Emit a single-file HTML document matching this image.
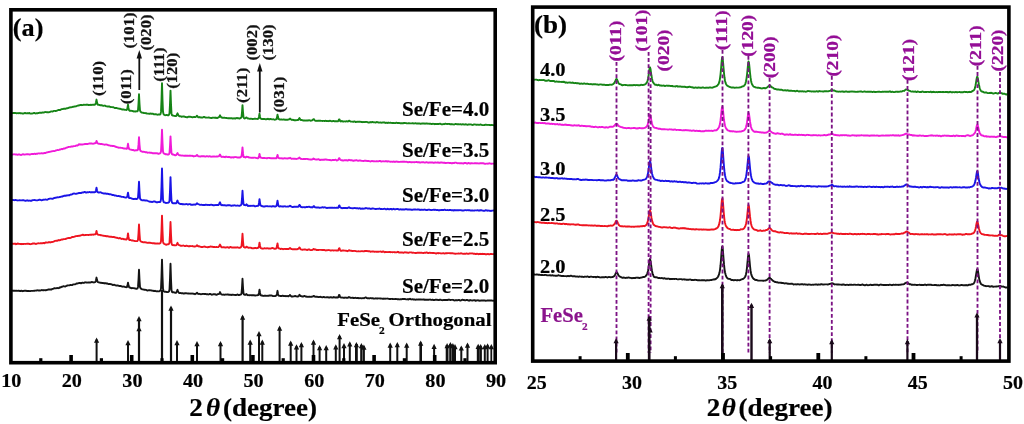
<!DOCTYPE html>
<html><head><meta charset="utf-8"><title>XRD patterns</title>
<style>html,body{margin:0;padding:0;background:#fff}svg{display:block}</style></head>
<body>
<svg width="1024" height="424" viewBox="0 0 1024 424" style="filter:blur(0.35px)">
<rect width="1024" height="424" fill="#fff"/>
<path d="M12.0,113.16 L12.5,113.17 L13.0,113.06 L13.5,113.04 L14.0,113.05 L14.5,113.02 L15.0,112.94 L15.5,113.06 L16.0,113.13 L16.5,113.26 L17.0,113.16 L17.5,113.16 L18.0,113.21 L18.5,113.22 L19.0,113.04 L19.5,113.13 L20.0,113.18 L20.5,113.37 L21.0,113.17 L21.5,113.34 L22.0,113.34 L22.5,113.46 L23.0,113.51 L23.5,113.50 L24.0,113.41 L24.5,113.17 L25.0,112.96 L25.5,113.21 L26.0,113.22 L26.5,113.38 L27.0,113.38 L27.5,113.26 L28.0,113.39 L28.5,113.08 L29.0,113.18 L29.5,113.00 L30.0,113.35 L30.5,113.58 L31.0,113.66 L31.5,113.59 L32.0,113.38 L32.5,113.45 L33.0,113.27 L33.5,113.09 L34.0,112.83 L34.5,112.92 L35.0,113.29 L35.5,113.47 L36.0,113.35 L36.5,113.28 L37.0,113.24 L37.5,113.27 L38.0,113.07 L38.5,112.99 L39.0,112.91 L39.5,112.70 L40.0,112.72 L40.5,112.70 L41.0,112.92 L41.5,112.79 L42.0,112.56 L42.5,112.39 L43.0,112.54 L43.5,112.65 L44.0,112.52 L44.5,112.18 L45.0,112.07 L45.5,112.08 L46.0,112.03 L46.5,112.24 L47.0,112.19 L47.5,112.26 L48.0,112.20 L48.5,112.31 L49.0,112.21 L49.5,112.03 L50.0,111.87 L50.5,111.79 L51.0,111.50 L51.5,111.40 L52.0,111.42 L52.5,111.54 L53.0,111.28 L53.5,111.07 L54.0,110.87 L54.5,110.83 L55.0,110.87 L55.5,110.97 L56.0,110.96 L56.5,110.77 L57.0,110.57 L57.5,110.39 L58.0,110.21 L58.5,109.96 L59.0,109.84 L59.5,109.96 L60.0,110.00 L60.5,109.85 L61.0,109.47 L61.5,109.18 L62.0,109.14 L62.5,109.12 L63.0,108.95 L63.5,108.86 L64.0,108.65 L64.5,108.84 L65.0,108.71 L65.5,108.84 L66.0,108.55 L66.5,108.40 L67.0,108.15 L67.5,108.19 L68.0,108.16 L68.5,107.89 L69.0,107.69 L69.5,107.52 L70.0,107.48 L70.5,107.28 L71.0,107.33 L71.5,107.21 L72.0,107.07 L72.5,106.84 L73.0,106.78 L73.5,106.74 L74.0,106.64 L74.5,106.56 L75.0,106.50 L75.5,106.41 L76.0,106.28 L76.5,106.08 L77.0,105.85 L77.5,105.67 L78.0,105.66 L78.5,105.51 L79.0,105.29 L79.5,105.20 L80.0,105.10 L80.5,105.03 L81.0,104.99 L81.5,105.00 L82.0,105.20 L82.5,105.07 L83.0,104.99 L83.5,104.79 L84.0,104.77 L84.5,104.82 L85.0,104.84 L85.5,104.84 L86.0,104.69 L86.5,104.75 L87.0,104.57 L87.5,104.68 L88.0,104.73 L88.5,105.00 L89.0,105.17 L89.5,104.92 L90.0,104.87 L90.5,104.80 L91.0,105.04 L91.5,104.86 L92.0,104.76 L92.5,104.83 L93.0,104.76 L93.5,104.75 L94.0,104.65 L94.5,104.69 L95.0,104.62 L95.5,104.08 L96.0,102.29 L96.5,99.58 L97.0,102.33 L97.5,104.22 L98.0,104.76 L98.5,104.77 L99.0,104.86 L99.5,104.95 L100.0,105.18 L100.5,105.15 L101.0,105.20 L101.5,105.19 L102.0,105.45 L102.5,105.50 L103.0,105.77 L103.5,105.83 L104.0,105.71 L104.5,105.55 L105.0,105.71 L105.5,105.96 L106.0,106.30 L106.5,106.34 L107.0,106.38 L107.5,106.46 L108.0,106.43 L108.5,106.39 L109.0,106.57 L109.5,106.55 L110.0,106.91 L110.5,106.89 L111.0,107.19 L111.5,107.06 L112.0,107.16 L112.5,107.10 L113.0,107.24 L113.5,107.20 L114.0,107.53 L114.5,107.80 L115.0,108.02 L115.5,108.00 L116.0,108.06 L116.5,107.97 L117.0,108.08 L117.5,108.27 L118.0,108.45 L118.5,108.64 L119.0,108.63 L119.5,108.70 L120.0,108.76 L120.5,108.90 L121.0,109.12 L121.5,109.24 L122.0,109.53 L122.5,109.55 L123.0,109.60 L123.5,109.41 L124.0,109.53 L124.5,109.70 L125.0,109.81 L125.5,109.87 L126.0,109.92 L126.5,109.98 L127.0,109.64 L127.5,107.61 L128.0,104.62 L128.5,107.90 L129.0,110.14 L129.5,110.70 L130.0,110.80 L130.5,110.75 L131.0,110.77 L131.5,110.89 L132.0,110.84 L132.5,111.02 L133.0,111.11 L133.5,111.45 L134.0,111.28 L134.5,111.47 L135.0,111.40 L135.5,111.56 L136.0,111.32 L136.5,111.37 L137.0,111.30 L137.5,111.22 L138.0,110.20 L138.5,103.70 L139.0,94.31 L139.5,103.88 L140.0,110.46 L140.5,111.61 L141.0,112.08 L141.5,112.51 L142.0,112.75 L142.5,112.64 L143.0,112.66 L143.5,112.82 L144.0,113.10 L144.5,113.09 L145.0,113.06 L145.5,113.09 L146.0,113.28 L146.5,113.32 L147.0,113.58 L147.5,113.64 L148.0,113.64 L148.5,113.63 L149.0,113.73 L149.5,113.81 L150.0,113.77 L150.5,113.50 L151.0,113.71 L151.5,113.75 L152.0,113.82 L152.5,113.61 L153.0,113.70 L153.5,114.04 L154.0,114.26 L154.5,114.38 L155.0,114.24 L155.5,114.17 L156.0,114.25 L156.5,114.45 L157.0,114.62 L157.5,114.69 L158.0,114.56 L158.5,114.52 L159.0,114.47 L159.5,114.67 L160.0,114.52 L160.5,114.14 L161.0,111.90 L161.5,100.32 L162.0,83.27 L162.5,100.13 L163.0,111.83 L163.5,114.03 L164.0,114.72 L164.5,114.96 L165.0,115.18 L165.5,115.18 L166.0,115.11 L166.5,114.96 L167.0,115.00 L167.5,115.28 L168.0,115.33 L168.5,115.23 L169.0,114.69 L169.5,113.36 L170.0,104.10 L170.5,90.60 L171.0,103.92 L171.5,113.41 L172.0,115.19 L172.5,115.50 L173.0,115.55 L173.5,115.72 L174.0,115.90 L174.5,115.91 L175.0,116.01 L175.5,116.10 L176.0,116.16 L176.5,115.60 L177.0,114.39 L177.5,113.32 L178.0,114.31 L178.5,115.55 L179.0,115.97 L179.5,116.31 L180.0,116.21 L180.5,116.40 L181.0,116.39 L181.5,116.75 L182.0,116.69 L182.5,116.59 L183.0,116.38 L183.5,116.40 L184.0,116.51 L184.5,116.64 L185.0,116.86 L185.5,117.11 L186.0,117.01 L186.5,117.22 L187.0,117.28 L187.5,117.35 L188.0,116.88 L188.5,116.70 L189.0,116.75 L189.5,116.77 L190.0,116.80 L190.5,116.79 L191.0,116.96 L191.5,117.04 L192.0,117.18 L192.5,117.22 L193.0,117.20 L193.5,117.05 L194.0,117.03 L194.5,117.02 L195.0,117.14 L195.5,117.12 L196.0,116.73 L196.5,116.27 L197.0,115.76 L197.5,116.44 L198.0,117.05 L198.5,117.41 L199.0,117.35 L199.5,117.06 L200.0,117.21 L200.5,117.35 L201.0,117.57 L201.5,117.56 L202.0,117.58 L202.5,117.51 L203.0,117.34 L203.5,117.05 L204.0,116.94 L204.5,117.05 L205.0,117.35 L205.5,117.56 L206.0,117.57 L206.5,117.62 L207.0,117.67 L207.5,117.61 L208.0,117.58 L208.5,117.35 L209.0,117.55 L209.5,117.60 L210.0,117.82 L210.5,117.89 L211.0,118.01 L211.5,117.97 L212.0,117.90 L212.5,117.67 L213.0,117.73 L213.5,117.67 L214.0,117.67 L214.5,117.77 L215.0,117.69 L215.5,117.93 L216.0,117.76 L216.5,117.94 L217.0,118.00 L217.5,117.95 L218.0,117.66 L218.5,117.42 L219.0,117.20 L219.5,116.29 L220.0,115.33 L220.5,116.23 L221.0,117.05 L221.5,117.46 L222.0,117.40 L222.5,117.76 L223.0,117.79 L223.5,117.85 L224.0,117.80 L224.5,117.75 L225.0,117.88 L225.5,117.87 L226.0,117.99 L226.5,117.94 L227.0,118.11 L227.5,118.16 L228.0,118.30 L228.5,118.27 L229.0,118.21 L229.5,118.23 L230.0,118.23 L230.5,118.36 L231.0,118.28 L231.5,118.21 L232.0,118.28 L232.5,118.55 L233.0,118.52 L233.5,118.51 L234.0,118.27 L234.5,118.44 L235.0,118.44 L235.5,118.60 L236.0,118.25 L236.5,118.15 L237.0,117.96 L237.5,118.23 L238.0,118.22 L238.5,118.25 L239.0,118.32 L239.5,118.57 L240.0,118.31 L240.5,118.12 L241.0,117.77 L241.5,117.21 L242.0,112.36 L242.5,105.15 L243.0,112.12 L243.5,117.09 L244.0,118.19 L244.5,118.49 L245.0,118.40 L245.5,118.18 L246.0,117.71 L246.5,117.46 L247.0,117.92 L247.5,118.38 L248.0,118.56 L248.5,118.50 L249.0,118.68 L249.5,118.81 L250.0,118.83 L250.5,118.81 L251.0,118.61 L251.5,118.85 L252.0,118.91 L252.5,119.01 L253.0,119.01 L253.5,118.89 L254.0,118.86 L254.5,118.72 L255.0,118.76 L255.5,118.80 L256.0,118.87 L256.5,118.83 L257.0,118.93 L257.5,118.99 L258.0,118.93 L258.5,118.39 L259.0,116.43 L259.5,113.78 L260.0,116.74 L260.5,118.50 L261.0,118.77 L261.5,119.03 L262.0,119.03 L262.5,119.08 L263.0,118.93 L263.5,119.05 L264.0,119.07 L264.5,118.99 L265.0,119.13 L265.5,119.22 L266.0,119.39 L266.5,119.28 L267.0,118.99 L267.5,118.86 L268.0,118.78 L268.5,119.13 L269.0,119.24 L269.5,119.34 L270.0,119.06 L270.5,118.99 L271.0,119.08 L271.5,119.09 L272.0,119.37 L272.5,119.34 L273.0,119.40 L273.5,119.28 L274.0,119.50 L274.5,119.71 L275.0,119.63 L275.5,119.49 L276.0,119.31 L276.5,119.12 L277.0,117.38 L277.5,114.75 L278.0,117.12 L278.5,118.87 L279.0,119.17 L279.5,119.52 L280.0,119.56 L280.5,119.60 L281.0,119.46 L281.5,119.43 L282.0,119.54 L282.5,119.68 L283.0,119.60 L283.5,119.44 L284.0,119.40 L284.5,119.54 L285.0,119.75 L285.5,119.78 L286.0,119.79 L286.5,119.86 L287.0,119.73 L287.5,119.76 L288.0,119.59 L288.5,119.53 L289.0,119.41 L289.5,119.09 L290.0,118.59 L290.5,118.86 L291.0,119.33 L291.5,119.82 L292.0,119.93 L292.5,119.92 L293.0,119.70 L293.5,120.03 L294.0,120.11 L294.5,120.36 L295.0,120.19 L295.5,120.24 L296.0,120.22 L296.5,120.13 L297.0,120.10 L297.5,120.03 L298.0,120.12 L298.5,119.68 L299.0,118.84 L299.5,118.08 L300.0,119.00 L300.5,119.89 L301.0,120.07 L301.5,120.03 L302.0,120.02 L302.5,120.31 L303.0,120.44 L303.5,120.64 L304.0,120.50 L304.5,120.37 L305.0,120.38 L305.5,120.53 L306.0,120.66 L306.5,120.55 L307.0,120.51 L307.5,120.43 L308.0,120.53 L308.5,120.36 L309.0,120.31 L309.5,120.31 L310.0,120.42 L310.5,120.72 L311.0,120.64 L311.5,120.61 L312.0,120.29 L312.5,120.05 L313.0,119.57 L313.5,119.17 L314.0,119.26 L314.5,120.13 L315.0,120.57 L315.5,120.77 L316.0,120.87 L316.5,120.78 L317.0,120.94 L317.5,120.78 L318.0,120.87 L318.5,120.68 L319.0,120.78 L319.5,120.66 L320.0,120.75 L320.5,120.77 L321.0,120.85 L321.5,120.87 L322.0,120.90 L322.5,120.98 L323.0,120.86 L323.5,120.86 L324.0,120.86 L324.5,120.94 L325.0,120.94 L325.5,120.76 L326.0,120.99 L326.5,120.94 L327.0,121.08 L327.5,121.07 L328.0,121.10 L328.5,121.18 L329.0,120.97 L329.5,120.95 L330.0,120.76 L330.5,120.86 L331.0,121.03 L331.5,121.21 L332.0,121.34 L332.5,121.14 L333.0,121.05 L333.5,120.93 L334.0,121.10 L334.5,121.24 L335.0,121.29 L335.5,121.31 L336.0,121.27 L336.5,121.27 L337.0,121.34 L337.5,121.29 L338.0,121.25 L338.5,120.85 L339.0,119.38 L339.5,119.45 L340.0,120.80 L340.5,121.44 L341.0,121.23 L341.5,121.22 L342.0,120.95 L342.5,121.36 L343.0,121.52 L343.5,121.62 L344.0,121.35 L344.5,121.36 L345.0,121.42 L345.5,121.49 L346.0,121.31 L346.5,121.20 L347.0,121.29 L347.5,121.45 L348.0,121.46 L348.5,121.12 L349.0,120.65 L349.5,120.94 L350.0,121.19 L350.5,121.51 L351.0,121.60 L351.5,121.67 L352.0,121.58 L352.5,121.65 L353.0,121.78 L353.5,121.83 L354.0,121.45 L354.5,121.43 L355.0,121.57 L355.5,122.00 L356.0,121.95 L356.5,121.84 L357.0,121.70 L357.5,121.86 L358.0,121.82 L358.5,121.87 L359.0,121.71 L359.5,121.87 L360.0,121.74 L360.5,121.89 L361.0,121.82 L361.5,121.97 L362.0,122.00 L362.5,122.18 L363.0,122.04 L363.5,122.10 L364.0,122.04 L364.5,122.17 L365.0,122.14 L365.5,121.87 L366.0,121.84 L366.5,121.86 L367.0,122.01 L367.5,122.11 L368.0,122.43 L368.5,122.60 L369.0,122.59 L369.5,122.35 L370.0,122.17 L370.5,122.07 L371.0,122.29 L371.5,122.25 L372.0,122.24 L372.5,121.91 L373.0,122.12 L373.5,122.27 L374.0,122.36 L374.5,122.32 L375.0,122.38 L375.5,122.51 L376.0,122.44 L376.5,122.19 L377.0,122.01 L377.5,122.23 L378.0,122.30 L378.5,122.62 L379.0,122.65 L379.5,122.67 L380.0,122.52 L380.5,122.53 L381.0,122.63 L381.5,122.72 L382.0,122.49 L382.5,122.58 L383.0,122.48 L383.5,122.43 L384.0,122.29 L384.5,122.44 L385.0,122.89 L385.5,122.93 L386.0,122.76 L386.5,122.78 L387.0,122.85 L387.5,122.97 L388.0,122.66 L388.5,122.56 L389.0,122.75 L389.5,122.84 L390.0,122.90 L390.5,122.72 L391.0,122.91 L391.5,122.92 L392.0,123.05 L392.5,122.93 L393.0,123.03 L393.5,122.89 L394.0,122.94 L394.5,123.09 L395.0,123.19 L395.5,123.04 L396.0,122.77 L396.5,122.80 L397.0,122.88 L397.5,123.01 L398.0,123.01 L398.5,122.90 L399.0,123.00 L399.5,123.03 L400.0,123.19 L400.5,123.14 L401.0,123.23 L401.5,123.25 L402.0,123.15 L402.5,123.19 L403.0,123.15 L403.5,123.18 L404.0,122.92 L404.5,122.97 L405.0,122.95 L405.5,123.07 L406.0,123.13 L406.5,123.24 L407.0,123.41 L407.5,123.41 L408.0,123.38 L408.5,123.25 L409.0,123.18 L409.5,123.30 L410.0,123.35 L410.5,123.37 L411.0,123.40 L411.5,123.42 L412.0,123.42 L412.5,123.20 L413.0,123.24 L413.5,123.32 L414.0,123.49 L414.5,123.42 L415.0,123.32 L415.5,123.30 L416.0,123.38 L416.5,123.46 L417.0,123.48 L417.5,123.42 L418.0,123.48 L418.5,123.53 L419.0,123.51 L419.5,123.56 L420.0,123.63 L420.5,123.80 L421.0,123.72 L421.5,123.63 L422.0,123.44 L422.5,123.54 L423.0,123.36 L423.5,123.45 L424.0,123.35 L424.5,123.66 L425.0,123.71 L425.5,123.65 L426.0,123.44 L426.5,123.37 L427.0,123.49 L427.5,123.65 L428.0,123.71 L428.5,123.64 L429.0,123.63 L429.5,123.76 L430.0,123.73 L430.5,123.76 L431.0,123.83 L431.5,124.01 L432.0,123.97 L432.5,123.88 L433.0,123.76 L433.5,123.82 L434.0,123.92 L434.5,124.19 L435.0,124.03 L435.5,123.96 L436.0,123.97 L436.5,124.10 L437.0,124.06 L437.5,124.03 L438.0,124.04 L438.5,124.07 L439.0,123.93 L439.5,123.79 L440.0,123.79 L440.5,123.79 L441.0,124.08 L441.5,124.27 L442.0,124.36 L442.5,124.24 L443.0,124.09 L443.5,124.05 L444.0,124.20 L444.5,124.02 L445.0,123.89 L445.5,123.60 L446.0,123.81 L446.5,123.93 L447.0,124.08 L447.5,123.96 L448.0,123.91 L448.5,123.89 L449.0,123.94 L449.5,123.96 L450.0,124.20 L450.5,124.28 L451.0,124.25 L451.5,124.07 L452.0,124.16 L452.5,124.30 L453.0,124.40 L453.5,124.36 L454.0,124.48 L454.5,124.34 L455.0,124.20 L455.5,123.88 L456.0,124.06 L456.5,124.10 L457.0,124.22 L457.5,124.10 L458.0,124.22 L458.5,124.28 L459.0,124.32 L459.5,124.38 L460.0,124.30 L460.5,124.24 L461.0,124.38 L461.5,124.46 L462.0,124.54 L462.5,124.22 L463.0,124.25 L463.5,124.39 L464.0,124.55 L464.5,124.62 L465.0,124.53 L465.5,124.31 L466.0,124.30 L466.5,124.48 L467.0,124.75 L467.5,124.71 L468.0,124.65 L468.5,124.52 L469.0,124.54 L469.5,124.34 L470.0,124.36 L470.5,124.39 L471.0,124.50 L471.5,124.62 L472.0,124.80 L472.5,124.96 L473.0,124.86 L473.5,124.61 L474.0,124.42 L474.5,124.37 L475.0,124.45 L475.5,124.57 L476.0,124.69 L476.5,124.72 L477.0,124.70 L477.5,124.68 L478.0,124.60 L478.5,124.76 L479.0,124.89 L479.5,124.88 L480.0,124.63 L480.5,124.47 L481.0,124.58 L481.5,124.80 L482.0,124.97 L482.5,125.09 L483.0,125.08 L483.5,125.10 L484.0,125.07 L484.5,125.02 L485.0,124.91 L485.5,124.67 L486.0,124.62 L486.5,124.82 L487.0,124.95 L487.5,124.91 L488.0,124.84 L488.5,124.91 L489.0,124.94 L489.5,125.00 L490.0,125.07 L490.5,125.20 L491.0,125.00 L491.5,124.99 L492.0,124.97 L492.5,125.11 L493.0,125.18 L493.5,125.27 L494.0,125.22" fill="none" stroke="#168416" stroke-width="1.9" stroke-linejoin="round"/>
<path d="M12.0,154.62 L12.5,154.58 L13.0,154.43 L13.5,154.35 L14.0,154.27 L14.5,154.38 L15.0,154.41 L15.5,154.44 L16.0,154.40 L16.5,154.48 L17.0,154.68 L17.5,154.77 L18.0,154.65 L18.5,154.51 L19.0,154.36 L19.5,154.44 L20.0,154.70 L20.5,154.88 L21.0,154.97 L21.5,154.87 L22.0,154.56 L22.5,154.38 L23.0,154.20 L23.5,154.48 L24.0,154.66 L24.5,154.63 L25.0,154.50 L25.5,154.38 L26.0,154.38 L26.5,154.30 L27.0,154.17 L27.5,154.29 L28.0,154.25 L28.5,154.42 L29.0,154.32 L29.5,154.47 L30.0,154.49 L30.5,154.38 L31.0,154.20 L31.5,154.06 L32.0,153.99 L32.5,153.97 L33.0,153.88 L33.5,153.96 L34.0,153.86 L34.5,153.80 L35.0,153.79 L35.5,154.01 L36.0,153.80 L36.5,153.82 L37.0,153.73 L37.5,153.76 L38.0,153.43 L38.5,153.33 L39.0,153.34 L39.5,153.44 L40.0,153.43 L40.5,153.38 L41.0,153.32 L41.5,153.22 L42.0,153.28 L42.5,153.38 L43.0,153.44 L43.5,153.31 L44.0,153.04 L44.5,153.05 L45.0,153.02 L45.5,153.02 L46.0,152.61 L46.5,152.56 L47.0,152.37 L47.5,152.37 L48.0,152.08 L48.5,152.02 L49.0,151.99 L49.5,151.88 L50.0,151.75 L50.5,151.64 L51.0,151.56 L51.5,151.42 L52.0,151.24 L52.5,151.11 L53.0,151.18 L53.5,151.05 L54.0,151.14 L54.5,151.05 L55.0,150.91 L55.5,150.71 L56.0,150.44 L56.5,150.32 L57.0,150.15 L57.5,150.04 L58.0,150.10 L58.5,150.10 L59.0,149.88 L59.5,149.64 L60.0,149.46 L60.5,149.55 L61.0,149.22 L61.5,149.17 L62.0,148.90 L62.5,149.17 L63.0,148.88 L63.5,148.69 L64.0,148.42 L64.5,148.46 L65.0,148.43 L65.5,148.08 L66.0,147.91 L66.5,147.62 L67.0,147.64 L67.5,147.32 L68.0,147.17 L68.5,147.01 L69.0,146.90 L69.5,146.89 L70.0,146.87 L70.5,146.80 L71.0,146.58 L71.5,146.43 L72.0,146.42 L72.5,146.53 L73.0,146.43 L73.5,146.26 L74.0,146.13 L74.5,146.12 L75.0,146.10 L75.5,145.85 L76.0,145.57 L76.5,145.43 L77.0,145.50 L77.5,145.57 L78.0,145.08 L78.5,144.80 L79.0,144.22 L79.5,144.43 L80.0,144.37 L80.5,144.62 L81.0,144.46 L81.5,144.51 L82.0,144.41 L82.5,144.47 L83.0,144.35 L83.5,144.37 L84.0,144.27 L84.5,144.18 L85.0,143.99 L85.5,143.98 L86.0,144.00 L86.5,144.05 L87.0,144.01 L87.5,143.99 L88.0,143.84 L88.5,143.72 L89.0,143.55 L89.5,143.55 L90.0,143.56 L90.5,143.49 L91.0,143.50 L91.5,143.46 L92.0,143.55 L92.5,143.60 L93.0,143.77 L93.5,143.65 L94.0,143.61 L94.5,143.23 L95.0,143.26 L95.5,143.17 L96.0,142.45 L96.5,140.95 L97.0,142.25 L97.5,143.26 L98.0,143.53 L98.5,143.75 L99.0,143.61 L99.5,143.83 L100.0,143.92 L100.5,144.15 L101.0,144.01 L101.5,143.98 L102.0,144.04 L102.5,144.24 L103.0,144.34 L103.5,144.40 L104.0,144.49 L104.5,144.73 L105.0,144.65 L105.5,144.59 L106.0,144.39 L106.5,144.61 L107.0,144.66 L107.5,144.96 L108.0,145.12 L108.5,145.36 L109.0,145.32 L109.5,145.42 L110.0,145.56 L110.5,145.75 L111.0,145.76 L111.5,145.90 L112.0,145.82 L112.5,146.12 L113.0,145.85 L113.5,146.04 L114.0,145.90 L114.5,146.39 L115.0,146.41 L115.5,146.82 L116.0,146.69 L116.5,147.15 L117.0,147.12 L117.5,147.39 L118.0,147.33 L118.5,147.62 L119.0,147.81 L119.5,147.65 L120.0,147.65 L120.5,147.69 L121.0,147.86 L121.5,147.92 L122.0,147.87 L122.5,148.15 L123.0,148.20 L123.5,148.35 L124.0,148.49 L124.5,148.45 L125.0,148.61 L125.5,148.56 L126.0,148.70 L126.5,148.88 L127.0,148.69 L127.5,146.75 L128.0,143.81 L128.5,146.63 L129.0,148.77 L129.5,149.22 L130.0,149.48 L130.5,149.60 L131.0,149.64 L131.5,149.77 L132.0,149.95 L132.5,150.03 L133.0,150.06 L133.5,150.04 L134.0,150.31 L134.5,150.49 L135.0,150.48 L135.5,150.42 L136.0,150.21 L136.5,150.21 L137.0,150.18 L137.5,150.26 L138.0,149.65 L138.5,144.64 L139.0,137.19 L139.5,144.55 L140.0,149.70 L140.5,150.84 L141.0,151.12 L141.5,151.39 L142.0,151.55 L142.5,151.74 L143.0,151.72 L143.5,151.85 L144.0,151.81 L144.5,151.95 L145.0,152.12 L145.5,152.28 L146.0,152.24 L146.5,152.28 L147.0,152.42 L147.5,152.72 L148.0,152.66 L148.5,152.66 L149.0,152.59 L149.5,152.56 L150.0,152.74 L150.5,152.79 L151.0,152.87 L151.5,152.73 L152.0,153.01 L152.5,153.20 L153.0,153.26 L153.5,153.12 L154.0,153.14 L154.5,153.32 L155.0,153.21 L155.5,153.30 L156.0,153.24 L156.5,153.37 L157.0,153.28 L157.5,153.42 L158.0,153.69 L158.5,153.76 L159.0,153.73 L159.5,153.42 L160.0,153.33 L160.5,153.03 L161.0,151.46 L161.5,142.56 L162.0,129.78 L162.5,142.63 L163.0,151.53 L163.5,153.11 L164.0,153.54 L164.5,153.76 L165.0,153.85 L165.5,154.20 L166.0,154.19 L166.5,154.35 L167.0,154.32 L167.5,154.59 L168.0,154.57 L168.5,154.49 L169.0,154.19 L169.5,152.79 L170.0,146.06 L170.5,136.37 L171.0,146.13 L171.5,153.01 L172.0,154.13 L172.5,154.45 L173.0,154.40 L173.5,154.53 L174.0,154.78 L174.5,154.98 L175.0,155.33 L175.5,155.32 L176.0,155.16 L176.5,154.50 L177.0,153.72 L177.5,153.00 L178.0,153.91 L178.5,154.72 L179.0,155.15 L179.5,155.33 L180.0,155.29 L180.5,155.34 L181.0,155.46 L181.5,155.60 L182.0,155.58 L182.5,155.57 L183.0,155.58 L183.5,155.67 L184.0,155.84 L184.5,155.78 L185.0,155.76 L185.5,155.56 L186.0,155.76 L186.5,155.65 L187.0,155.81 L187.5,155.59 L188.0,155.79 L188.5,155.86 L189.0,155.81 L189.5,155.77 L190.0,155.54 L190.5,155.87 L191.0,155.86 L191.5,155.90 L192.0,155.71 L192.5,155.90 L193.0,156.22 L193.5,156.43 L194.0,156.24 L194.5,156.08 L195.0,156.12 L195.5,156.11 L196.0,155.96 L196.5,155.36 L197.0,155.01 L197.5,155.50 L198.0,156.04 L198.5,156.36 L199.0,156.35 L199.5,156.42 L200.0,156.55 L200.5,156.51 L201.0,156.40 L201.5,156.16 L202.0,156.29 L202.5,156.29 L203.0,156.26 L203.5,156.14 L204.0,156.20 L204.5,156.45 L205.0,156.59 L205.5,156.53 L206.0,156.38 L206.5,156.27 L207.0,156.23 L207.5,156.31 L208.0,156.41 L208.5,156.55 L209.0,156.41 L209.5,156.26 L210.0,156.40 L210.5,156.47 L211.0,156.68 L211.5,156.62 L212.0,156.70 L212.5,156.54 L213.0,156.51 L213.5,156.47 L214.0,156.56 L214.5,156.56 L215.0,156.59 L215.5,156.60 L216.0,156.56 L216.5,156.52 L217.0,156.52 L217.5,156.48 L218.0,156.41 L218.5,156.32 L219.0,156.06 L219.5,155.41 L220.0,154.55 L220.5,155.37 L221.0,156.30 L221.5,156.89 L222.0,156.94 L222.5,156.80 L223.0,156.78 L223.5,156.67 L224.0,157.04 L224.5,156.99 L225.0,157.17 L225.5,156.81 L226.0,156.76 L226.5,156.66 L227.0,156.90 L227.5,157.09 L228.0,157.19 L228.5,156.95 L229.0,157.02 L229.5,156.91 L230.0,157.27 L230.5,157.36 L231.0,157.55 L231.5,157.50 L232.0,157.20 L232.5,157.39 L233.0,157.33 L233.5,157.57 L234.0,157.24 L234.5,157.22 L235.0,157.01 L235.5,157.09 L236.0,157.11 L236.5,157.26 L237.0,157.43 L237.5,157.49 L238.0,157.49 L238.5,157.36 L239.0,157.51 L239.5,157.41 L240.0,157.50 L240.5,157.03 L241.0,156.85 L241.5,156.12 L242.0,152.53 L242.5,147.43 L243.0,153.15 L243.5,156.81 L244.0,157.08 L244.5,156.96 L245.0,157.34 L245.5,157.48 L246.0,157.20 L246.5,156.59 L247.0,156.74 L247.5,156.83 L248.0,156.97 L248.5,157.16 L249.0,157.54 L249.5,157.59 L250.0,157.57 L250.5,157.68 L251.0,157.84 L251.5,157.81 L252.0,157.73 L252.5,157.78 L253.0,157.83 L253.5,157.73 L254.0,157.65 L254.5,157.66 L255.0,157.67 L255.5,157.85 L256.0,157.94 L256.5,158.11 L257.0,158.17 L257.5,158.22 L258.0,158.20 L258.5,157.78 L259.0,156.06 L259.5,153.90 L260.0,156.07 L260.5,157.59 L261.0,157.56 L261.5,157.73 L262.0,157.88 L262.5,158.10 L263.0,158.08 L263.5,157.89 L264.0,157.83 L264.5,157.97 L265.0,158.16 L265.5,158.13 L266.0,158.11 L266.5,158.26 L267.0,158.28 L267.5,158.10 L268.0,157.91 L268.5,157.92 L269.0,157.89 L269.5,158.04 L270.0,157.99 L270.5,158.24 L271.0,158.19 L271.5,158.25 L272.0,158.37 L272.5,158.31 L273.0,158.28 L273.5,158.16 L274.0,158.31 L274.5,158.38 L275.0,158.25 L275.5,158.22 L276.0,158.23 L276.5,158.31 L277.0,156.88 L277.5,154.88 L278.0,156.60 L278.5,157.85 L279.0,158.08 L279.5,158.30 L280.0,158.39 L280.5,158.34 L281.0,158.16 L281.5,158.41 L282.0,158.43 L282.5,158.63 L283.0,158.42 L283.5,158.51 L284.0,158.40 L284.5,158.26 L285.0,158.28 L285.5,158.41 L286.0,158.44 L286.5,158.43 L287.0,158.34 L287.5,158.45 L288.0,158.44 L288.5,158.26 L289.0,158.27 L289.5,158.06 L290.0,157.82 L290.5,158.12 L291.0,158.52 L291.5,158.82 L292.0,158.82 L292.5,158.62 L293.0,158.64 L293.5,158.70 L294.0,158.87 L294.5,158.72 L295.0,158.85 L295.5,158.76 L296.0,158.98 L296.5,158.81 L297.0,158.72 L297.5,158.59 L298.0,158.51 L298.5,158.39 L299.0,157.91 L299.5,157.59 L300.0,158.20 L300.5,158.71 L301.0,158.80 L301.5,158.92 L302.0,159.13 L302.5,159.17 L303.0,159.12 L303.5,158.95 L304.0,159.02 L304.5,159.15 L305.0,158.95 L305.5,158.97 L306.0,158.83 L306.5,158.91 L307.0,158.93 L307.5,158.99 L308.0,159.27 L308.5,159.12 L309.0,159.36 L309.5,159.34 L310.0,159.46 L310.5,159.41 L311.0,159.47 L311.5,159.59 L312.0,159.55 L312.5,159.22 L313.0,159.07 L313.5,158.50 L314.0,158.76 L314.5,159.13 L315.0,159.35 L315.5,159.44 L316.0,159.46 L316.5,159.56 L317.0,159.60 L317.5,159.38 L318.0,159.28 L318.5,159.14 L319.0,159.35 L319.5,159.86 L320.0,160.02 L320.5,159.98 L321.0,159.62 L321.5,159.70 L322.0,159.81 L322.5,159.71 L323.0,159.73 L323.5,159.67 L324.0,159.89 L324.5,159.60 L325.0,159.46 L325.5,159.45 L326.0,159.49 L326.5,159.70 L327.0,159.69 L327.5,159.90 L328.0,159.91 L328.5,159.92 L329.0,159.96 L329.5,159.90 L330.0,159.89 L330.5,160.15 L331.0,160.32 L331.5,160.40 L332.0,160.16 L332.5,159.99 L333.0,159.96 L333.5,159.91 L334.0,160.09 L334.5,159.99 L335.0,159.79 L335.5,159.65 L336.0,159.83 L336.5,160.32 L337.0,160.48 L337.5,160.30 L338.0,159.99 L338.5,159.45 L339.0,158.30 L339.5,158.25 L340.0,159.44 L340.5,159.87 L341.0,160.05 L341.5,160.24 L342.0,160.25 L342.5,160.46 L343.0,160.50 L343.5,160.45 L344.0,160.35 L344.5,160.19 L345.0,160.31 L345.5,160.16 L346.0,160.26 L346.5,160.20 L347.0,160.45 L347.5,160.45 L348.0,160.46 L348.5,160.10 L349.0,159.83 L349.5,160.06 L350.0,160.20 L350.5,160.30 L351.0,160.17 L351.5,160.20 L352.0,160.43 L352.5,160.45 L353.0,160.69 L353.5,160.67 L354.0,160.69 L354.5,160.47 L355.0,160.49 L355.5,160.37 L356.0,160.26 L356.5,160.16 L357.0,160.44 L357.5,160.69 L358.0,160.80 L358.5,160.73 L359.0,160.51 L359.5,160.49 L360.0,160.34 L360.5,160.66 L361.0,160.71 L361.5,160.89 L362.0,160.86 L362.5,160.90 L363.0,160.95 L363.5,160.96 L364.0,160.87 L364.5,160.71 L365.0,160.65 L365.5,160.69 L366.0,160.78 L366.5,160.90 L367.0,161.01 L367.5,160.95 L368.0,161.05 L368.5,160.95 L369.0,161.02 L369.5,161.20 L370.0,161.36 L370.5,161.51 L371.0,161.25 L371.5,161.12 L372.0,160.98 L372.5,161.12 L373.0,161.19 L373.5,161.31 L374.0,161.21 L374.5,161.38 L375.0,161.39 L375.5,161.35 L376.0,161.29 L376.5,161.18 L377.0,161.41 L377.5,161.31 L378.0,161.38 L378.5,161.35 L379.0,161.14 L379.5,160.93 L380.0,160.91 L380.5,161.18 L381.0,161.49 L381.5,161.51 L382.0,161.41 L382.5,161.36 L383.0,161.27 L383.5,161.39 L384.0,161.32 L384.5,161.44 L385.0,161.34 L385.5,161.29 L386.0,161.05 L386.5,161.42 L387.0,161.44 L387.5,161.59 L388.0,161.28 L388.5,161.32 L389.0,161.38 L389.5,161.57 L390.0,161.67 L390.5,161.76 L391.0,161.65 L391.5,161.64 L392.0,161.74 L392.5,161.81 L393.0,161.86 L393.5,161.55 L394.0,161.61 L394.5,161.62 L395.0,161.97 L395.5,161.65 L396.0,161.64 L396.5,161.51 L397.0,161.81 L397.5,161.75 L398.0,161.80 L398.5,161.87 L399.0,161.95 L399.5,161.91 L400.0,161.83 L400.5,161.80 L401.0,161.85 L401.5,161.81 L402.0,161.66 L402.5,161.80 L403.0,161.71 L403.5,161.91 L404.0,161.65 L404.5,161.81 L405.0,161.74 L405.5,161.88 L406.0,161.83 L406.5,161.81 L407.0,161.86 L407.5,162.09 L408.0,162.26 L408.5,162.25 L409.0,162.02 L409.5,161.99 L410.0,162.04 L410.5,162.09 L411.0,162.20 L411.5,162.16 L412.0,162.27 L412.5,162.14 L413.0,162.11 L413.5,162.10 L414.0,162.20 L414.5,162.30 L415.0,162.18 L415.5,162.08 L416.0,162.06 L416.5,161.98 L417.0,162.17 L417.5,162.22 L418.0,162.42 L418.5,162.25 L419.0,162.31 L419.5,162.29 L420.0,162.56 L420.5,162.53 L421.0,162.42 L421.5,162.31 L422.0,162.23 L422.5,162.34 L423.0,162.25 L423.5,162.30 L424.0,162.39 L424.5,162.50 L425.0,162.57 L425.5,162.48 L426.0,162.28 L426.5,162.16 L427.0,162.28 L427.5,162.51 L428.0,162.78 L428.5,162.62 L429.0,162.55 L429.5,162.36 L430.0,162.46 L430.5,162.48 L431.0,162.49 L431.5,162.51 L432.0,162.44 L432.5,162.51 L433.0,162.66 L433.5,162.89 L434.0,162.81 L434.5,162.61 L435.0,162.43 L435.5,162.41 L436.0,162.63 L436.5,162.58 L437.0,162.68 L437.5,162.45 L438.0,162.51 L438.5,162.53 L439.0,162.83 L439.5,162.80 L440.0,162.83 L440.5,162.48 L441.0,162.44 L441.5,162.33 L442.0,162.50 L442.5,162.67 L443.0,162.82 L443.5,162.72 L444.0,162.74 L444.5,162.58 L445.0,162.93 L445.5,162.92 L446.0,163.05 L446.5,162.86 L447.0,162.84 L447.5,162.83 L448.0,162.79 L448.5,162.87 L449.0,162.91 L449.5,163.06 L450.0,162.99 L450.5,163.04 L451.0,162.90 L451.5,163.27 L452.0,163.14 L452.5,163.18 L453.0,162.93 L453.5,163.14 L454.0,163.11 L454.5,162.86 L455.0,162.60 L455.5,162.59 L456.0,162.69 L456.5,162.82 L457.0,163.03 L457.5,163.23 L458.0,163.19 L458.5,163.15 L459.0,163.14 L459.5,163.35 L460.0,163.29 L460.5,163.14 L461.0,163.08 L461.5,163.26 L462.0,163.29 L462.5,163.42 L463.0,163.45 L463.5,163.48 L464.0,163.14 L464.5,162.92 L465.0,162.92 L465.5,163.14 L466.0,163.04 L466.5,163.32 L467.0,163.51 L467.5,163.62 L468.0,163.20 L468.5,162.96 L469.0,163.08 L469.5,163.41 L470.0,163.51 L470.5,163.45 L471.0,163.13 L471.5,163.12 L472.0,163.23 L472.5,163.41 L473.0,163.39 L473.5,163.34 L474.0,163.35 L474.5,163.22 L475.0,163.24 L475.5,163.13 L476.0,163.40 L476.5,163.28 L477.0,163.48 L477.5,163.28 L478.0,163.42 L478.5,163.36 L479.0,163.49 L479.5,163.38 L480.0,163.25 L480.5,163.18 L481.0,163.23 L481.5,163.25 L482.0,163.22 L482.5,163.10 L483.0,163.27 L483.5,163.31 L484.0,163.49 L484.5,163.75 L485.0,163.81 L485.5,163.85 L486.0,163.67 L486.5,163.65 L487.0,163.56 L487.5,163.59 L488.0,163.72 L488.5,163.50 L489.0,163.40 L489.5,163.27 L490.0,163.52 L490.5,163.67 L491.0,163.66 L491.5,163.81 L492.0,163.64 L492.5,163.66 L493.0,163.66 L493.5,163.65 L494.0,163.68" fill="none" stroke="#f01ad8" stroke-width="1.9" stroke-linejoin="round"/>
<path d="M12.0,200.16 L12.5,200.05 L13.0,199.88 L13.5,200.09 L14.0,200.16 L14.5,200.21 L15.0,200.02 L15.5,200.02 L16.0,200.09 L16.5,200.15 L17.0,200.34 L17.5,200.38 L18.0,200.44 L18.5,200.34 L19.0,200.35 L19.5,200.24 L20.0,200.24 L20.5,200.33 L21.0,200.37 L21.5,200.34 L22.0,200.32 L22.5,200.26 L23.0,200.29 L23.5,200.27 L24.0,200.44 L24.5,200.54 L25.0,200.69 L25.5,200.75 L26.0,200.73 L26.5,200.55 L27.0,200.32 L27.5,200.36 L28.0,200.51 L28.5,200.75 L29.0,200.60 L29.5,200.60 L30.0,200.55 L30.5,200.92 L31.0,200.84 L31.5,200.72 L32.0,200.31 L32.5,200.20 L33.0,200.08 L33.5,200.11 L34.0,200.07 L34.5,200.01 L35.0,200.08 L35.5,200.18 L36.0,200.38 L36.5,200.35 L37.0,200.39 L37.5,200.38 L38.0,200.21 L38.5,200.04 L39.0,199.77 L39.5,199.79 L40.0,199.80 L40.5,199.87 L41.0,200.07 L41.5,200.22 L42.0,200.23 L42.5,200.02 L43.0,199.76 L43.5,199.67 L44.0,199.70 L44.5,199.60 L45.0,199.61 L45.5,199.48 L46.0,199.61 L46.5,199.65 L47.0,199.80 L47.5,199.63 L48.0,199.30 L48.5,198.90 L49.0,198.82 L49.5,198.74 L50.0,198.67 L50.5,198.58 L51.0,198.55 L51.5,198.69 L52.0,198.83 L52.5,198.82 L53.0,198.68 L53.5,198.23 L54.0,198.17 L54.5,197.97 L55.0,197.91 L55.5,197.60 L56.0,197.72 L56.5,197.56 L57.0,197.52 L57.5,197.25 L58.0,197.33 L58.5,197.36 L59.0,197.26 L59.5,197.03 L60.0,196.97 L60.5,196.86 L61.0,196.70 L61.5,196.67 L62.0,196.51 L62.5,196.64 L63.0,196.23 L63.5,196.04 L64.0,195.79 L64.5,195.77 L65.0,195.89 L65.5,195.69 L66.0,195.68 L66.5,195.37 L67.0,195.48 L67.5,195.38 L68.0,195.31 L68.5,195.37 L69.0,195.23 L69.5,195.28 L70.0,194.81 L70.5,194.69 L71.0,194.47 L71.5,194.50 L72.0,194.36 L72.5,194.16 L73.0,193.72 L73.5,193.58 L74.0,193.46 L74.5,193.64 L75.0,193.67 L75.5,193.88 L76.0,193.86 L76.5,193.77 L77.0,193.52 L77.5,193.45 L78.0,193.32 L78.5,193.14 L79.0,192.96 L79.5,192.86 L80.0,193.00 L80.5,193.04 L81.0,193.11 L81.5,192.75 L82.0,192.66 L82.5,192.50 L83.0,192.65 L83.5,192.46 L84.0,192.21 L84.5,191.93 L85.0,192.00 L85.5,192.40 L86.0,192.61 L86.5,192.51 L87.0,192.29 L87.5,192.22 L88.0,192.34 L88.5,192.24 L89.0,192.12 L89.5,192.04 L90.0,192.14 L90.5,192.28 L91.0,192.44 L91.5,192.25 L92.0,192.31 L92.5,192.19 L93.0,192.30 L93.5,192.30 L94.0,192.26 L94.5,192.23 L95.0,192.10 L95.5,191.87 L96.0,190.19 L96.5,187.74 L97.0,190.29 L97.5,191.95 L98.0,192.42 L98.5,192.49 L99.0,192.67 L99.5,192.44 L100.0,192.31 L100.5,192.28 L101.0,192.44 L101.5,192.80 L102.0,192.98 L102.5,193.14 L103.0,193.28 L103.5,193.47 L104.0,193.49 L104.5,193.50 L105.0,193.47 L105.5,193.48 L106.0,193.70 L106.5,193.69 L107.0,193.86 L107.5,193.82 L108.0,193.82 L108.5,193.99 L109.0,194.02 L109.5,194.34 L110.0,194.33 L110.5,194.30 L111.0,194.40 L111.5,194.54 L112.0,194.89 L112.5,195.02 L113.0,194.94 L113.5,195.05 L114.0,195.19 L114.5,195.54 L115.0,195.58 L115.5,195.54 L116.0,195.62 L116.5,195.64 L117.0,196.10 L117.5,196.13 L118.0,196.17 L118.5,195.95 L119.0,196.22 L119.5,196.38 L120.0,196.28 L120.5,196.38 L121.0,196.58 L121.5,196.87 L122.0,196.90 L122.5,196.87 L123.0,196.90 L123.5,197.02 L124.0,197.15 L124.5,197.40 L125.0,197.39 L125.5,197.59 L126.0,197.60 L126.5,197.40 L127.0,197.13 L127.5,195.22 L128.0,192.78 L128.5,195.62 L129.0,197.84 L129.5,198.15 L130.0,198.10 L130.5,198.04 L131.0,198.23 L131.5,198.49 L132.0,198.57 L132.5,198.74 L133.0,198.84 L133.5,199.07 L134.0,199.01 L134.5,198.95 L135.0,198.81 L135.5,198.82 L136.0,199.03 L136.5,199.05 L137.0,198.88 L137.5,198.55 L138.0,197.51 L138.5,191.12 L139.0,181.77 L139.5,191.56 L140.0,198.28 L140.5,199.49 L141.0,199.66 L141.5,200.00 L142.0,200.30 L142.5,200.42 L143.0,200.23 L143.5,200.10 L144.0,200.17 L144.5,200.38 L145.0,200.47 L145.5,200.45 L146.0,200.54 L146.5,200.55 L147.0,200.59 L147.5,200.66 L148.0,201.01 L148.5,201.28 L149.0,201.45 L149.5,201.61 L150.0,201.73 L150.5,201.66 L151.0,201.77 L151.5,201.90 L152.0,202.07 L152.5,201.83 L153.0,201.76 L153.5,201.50 L154.0,201.60 L154.5,201.36 L155.0,201.57 L155.5,201.75 L156.0,202.04 L156.5,202.28 L157.0,202.21 L157.5,202.25 L158.0,202.07 L158.5,202.11 L159.0,202.06 L159.5,202.12 L160.0,202.02 L160.5,201.58 L161.0,199.19 L161.5,186.60 L162.0,168.56 L162.5,186.96 L163.0,199.51 L163.5,201.71 L164.0,202.36 L164.5,202.36 L165.0,202.59 L165.5,202.65 L166.0,203.04 L166.5,202.89 L167.0,202.86 L167.5,202.87 L168.0,202.72 L168.5,202.63 L169.0,202.21 L169.5,200.85 L170.0,191.17 L170.5,177.09 L171.0,191.09 L171.5,200.84 L172.0,202.61 L172.5,203.11 L173.0,203.21 L173.5,203.21 L174.0,203.18 L174.5,203.17 L175.0,203.25 L175.5,203.35 L176.0,203.24 L176.5,202.74 L177.0,201.52 L177.5,200.53 L178.0,201.83 L178.5,202.95 L179.0,203.43 L179.5,203.57 L180.0,203.93 L180.5,204.14 L181.0,204.05 L181.5,203.96 L182.0,204.04 L182.5,204.31 L183.0,204.17 L183.5,204.10 L184.0,204.26 L184.5,204.32 L185.0,204.38 L185.5,204.11 L186.0,204.10 L186.5,204.04 L187.0,204.24 L187.5,204.50 L188.0,204.48 L188.5,204.35 L189.0,204.16 L189.5,204.06 L190.0,204.18 L190.5,204.44 L191.0,204.82 L191.5,204.73 L192.0,204.72 L192.5,204.69 L193.0,204.72 L193.5,204.60 L194.0,204.46 L194.5,204.52 L195.0,204.70 L195.5,204.60 L196.0,204.27 L196.5,203.68 L197.0,203.33 L197.5,203.74 L198.0,204.08 L198.5,204.20 L199.0,204.40 L199.5,204.57 L200.0,204.78 L200.5,204.84 L201.0,204.84 L201.5,204.68 L202.0,204.82 L202.5,204.95 L203.0,205.01 L203.5,204.85 L204.0,204.94 L204.5,205.07 L205.0,205.07 L205.5,204.70 L206.0,204.59 L206.5,204.81 L207.0,204.94 L207.5,204.96 L208.0,204.80 L208.5,204.93 L209.0,205.11 L209.5,205.04 L210.0,204.96 L210.5,204.81 L211.0,204.88 L211.5,204.80 L212.0,204.91 L212.5,205.00 L213.0,205.20 L213.5,205.28 L214.0,205.24 L214.5,205.23 L215.0,205.04 L215.5,205.08 L216.0,205.06 L216.5,205.08 L217.0,204.94 L217.5,205.04 L218.0,205.03 L218.5,204.96 L219.0,204.17 L219.5,203.04 L220.0,202.25 L220.5,203.57 L221.0,204.81 L221.5,205.15 L222.0,205.25 L222.5,205.04 L223.0,205.13 L223.5,205.18 L224.0,205.30 L224.5,205.28 L225.0,205.22 L225.5,205.31 L226.0,205.49 L226.5,205.38 L227.0,205.52 L227.5,205.26 L228.0,205.31 L228.5,205.11 L229.0,205.24 L229.5,205.27 L230.0,205.41 L230.5,205.43 L231.0,205.71 L231.5,205.71 L232.0,205.70 L232.5,205.53 L233.0,205.56 L233.5,205.57 L234.0,205.44 L234.5,205.30 L235.0,205.35 L235.5,205.55 L236.0,205.69 L236.5,205.67 L237.0,205.64 L237.5,205.55 L238.0,205.58 L238.5,205.66 L239.0,205.81 L239.5,205.89 L240.0,205.66 L240.5,205.47 L241.0,205.01 L241.5,204.19 L242.0,198.70 L242.5,190.78 L243.0,198.54 L243.5,204.05 L244.0,204.91 L244.5,205.04 L245.0,205.18 L245.5,205.29 L246.0,204.96 L246.5,204.27 L247.0,204.91 L247.5,205.55 L248.0,206.00 L248.5,205.81 L249.0,205.80 L249.5,205.87 L250.0,205.97 L250.5,205.90 L251.0,205.76 L251.5,205.86 L252.0,205.88 L252.5,205.91 L253.0,205.71 L253.5,205.58 L254.0,205.71 L254.5,206.03 L255.0,206.28 L255.5,206.34 L256.0,206.13 L256.5,206.03 L257.0,205.91 L257.5,205.91 L258.0,205.99 L258.5,205.40 L259.0,202.94 L259.5,199.23 L260.0,202.82 L260.5,205.41 L261.0,205.68 L261.5,205.98 L262.0,206.04 L262.5,206.31 L263.0,206.37 L263.5,206.53 L264.0,206.54 L264.5,206.49 L265.0,206.31 L265.5,206.36 L266.0,206.25 L266.5,206.15 L267.0,206.17 L267.5,206.18 L268.0,206.36 L268.5,206.39 L269.0,206.41 L269.5,206.36 L270.0,206.30 L270.5,206.34 L271.0,206.43 L271.5,206.43 L272.0,206.48 L272.5,206.18 L273.0,206.24 L273.5,206.08 L274.0,206.24 L274.5,206.33 L275.0,206.64 L275.5,206.61 L276.0,206.24 L276.5,205.74 L277.0,203.61 L277.5,200.68 L278.0,203.62 L278.5,205.92 L279.0,206.43 L279.5,206.52 L280.0,206.39 L280.5,206.20 L281.0,206.44 L281.5,206.34 L282.0,206.45 L282.5,206.37 L283.0,206.50 L283.5,206.56 L284.0,206.40 L284.5,206.35 L285.0,206.22 L285.5,206.49 L286.0,206.60 L286.5,206.60 L287.0,206.59 L287.5,206.57 L288.0,206.58 L288.5,206.46 L289.0,206.35 L289.5,206.18 L290.0,205.66 L290.5,206.12 L291.0,206.36 L291.5,206.65 L292.0,206.84 L292.5,206.97 L293.0,207.08 L293.5,206.90 L294.0,206.76 L294.5,206.73 L295.0,206.76 L295.5,206.79 L296.0,206.84 L296.5,206.74 L297.0,206.72 L297.5,206.71 L298.0,206.74 L298.5,206.56 L299.0,205.55 L299.5,204.88 L300.0,205.51 L300.5,206.61 L301.0,206.96 L301.5,207.18 L302.0,207.25 L302.5,207.24 L303.0,207.15 L303.5,207.17 L304.0,207.19 L304.5,207.39 L305.0,207.27 L305.5,207.36 L306.0,207.17 L306.5,207.04 L307.0,206.80 L307.5,206.97 L308.0,206.91 L308.5,206.89 L309.0,206.68 L309.5,206.91 L310.0,207.14 L310.5,207.21 L311.0,207.27 L311.5,207.25 L312.0,207.44 L312.5,207.36 L313.0,206.93 L313.5,206.23 L314.0,206.13 L314.5,206.87 L315.0,207.23 L315.5,207.37 L316.0,207.44 L316.5,207.45 L317.0,207.54 L317.5,207.49 L318.0,207.49 L318.5,207.52 L319.0,207.63 L319.5,207.78 L320.0,207.77 L320.5,207.67 L321.0,207.58 L321.5,207.54 L322.0,207.40 L322.5,207.28 L323.0,207.43 L323.5,207.62 L324.0,207.46 L324.5,207.30 L325.0,207.34 L325.5,207.51 L326.0,207.77 L326.5,207.88 L327.0,208.09 L327.5,207.86 L328.0,207.81 L328.5,207.82 L329.0,207.90 L329.5,207.80 L330.0,207.74 L330.5,207.72 L331.0,207.83 L331.5,207.72 L332.0,207.74 L332.5,207.73 L333.0,207.86 L333.5,207.87 L334.0,207.74 L334.5,207.81 L335.0,207.87 L335.5,207.89 L336.0,207.80 L336.5,207.64 L337.0,207.72 L337.5,207.81 L338.0,207.87 L338.5,207.60 L339.0,205.65 L339.5,205.50 L340.0,207.19 L340.5,207.48 L341.0,207.87 L341.5,207.92 L342.0,208.24 L342.5,208.10 L343.0,208.01 L343.5,207.96 L344.0,207.88 L344.5,207.93 L345.0,207.99 L345.5,207.95 L346.0,208.17 L346.5,208.04 L347.0,208.24 L347.5,207.99 L348.0,207.85 L348.5,207.47 L349.0,207.26 L349.5,207.68 L350.0,207.99 L350.5,208.05 L351.0,208.17 L351.5,208.15 L352.0,208.23 L352.5,208.32 L353.0,208.25 L353.5,208.20 L354.0,208.04 L354.5,208.10 L355.0,208.04 L355.5,208.09 L356.0,208.20 L356.5,208.33 L357.0,208.21 L357.5,208.28 L358.0,208.37 L358.5,208.55 L359.0,208.39 L359.5,208.25 L360.0,208.45 L360.5,208.73 L361.0,208.87 L361.5,208.60 L362.0,208.57 L362.5,208.55 L363.0,208.81 L363.5,208.64 L364.0,208.67 L364.5,208.46 L365.0,208.51 L365.5,208.15 L366.0,208.05 L366.5,208.18 L367.0,208.42 L367.5,208.50 L368.0,208.60 L368.5,208.50 L369.0,208.46 L369.5,208.46 L370.0,208.70 L370.5,208.93 L371.0,208.86 L371.5,208.86 L372.0,208.50 L372.5,208.43 L373.0,208.39 L373.5,208.55 L374.0,208.69 L374.5,208.82 L375.0,208.92 L375.5,209.05 L376.0,208.99 L376.5,208.97 L377.0,208.81 L377.5,208.88 L378.0,208.89 L378.5,208.92 L379.0,208.58 L379.5,208.48 L380.0,208.79 L380.5,209.12 L381.0,209.13 L381.5,208.90 L382.0,209.03 L382.5,209.14 L383.0,209.12 L383.5,208.89 L384.0,208.84 L384.5,208.75 L385.0,208.92 L385.5,209.12 L386.0,209.35 L386.5,209.27 L387.0,209.03 L387.5,208.80 L388.0,208.91 L388.5,209.08 L389.0,209.31 L389.5,209.31 L390.0,209.14 L390.5,208.88 L391.0,208.97 L391.5,209.01 L392.0,209.41 L392.5,209.09 L393.0,209.08 L393.5,208.80 L394.0,209.05 L394.5,209.24 L395.0,209.29 L395.5,209.33 L396.0,209.14 L396.5,209.16 L397.0,208.99 L397.5,209.07 L398.0,209.07 L398.5,209.23 L399.0,209.64 L399.5,209.57 L400.0,209.53 L400.5,209.27 L401.0,209.42 L401.5,209.59 L402.0,209.43 L402.5,209.51 L403.0,209.30 L403.5,209.49 L404.0,209.44 L404.5,209.55 L405.0,209.42 L405.5,209.23 L406.0,209.11 L406.5,209.24 L407.0,209.41 L407.5,209.60 L408.0,209.41 L408.5,209.51 L409.0,209.54 L409.5,209.46 L410.0,209.44 L410.5,209.54 L411.0,209.70 L411.5,209.77 L412.0,209.59 L412.5,209.76 L413.0,209.63 L413.5,209.56 L414.0,209.44 L414.5,209.45 L415.0,209.48 L415.5,209.44 L416.0,209.60 L416.5,209.61 L417.0,209.58 L417.5,209.39 L418.0,209.50 L418.5,209.41 L419.0,209.56 L419.5,209.59 L420.0,209.95 L420.5,209.86 L421.0,209.72 L421.5,209.61 L422.0,209.68 L422.5,209.90 L423.0,209.90 L423.5,209.85 L424.0,209.59 L424.5,209.57 L425.0,209.63 L425.5,209.89 L426.0,209.93 L426.5,210.06 L427.0,210.08 L427.5,210.00 L428.0,209.76 L428.5,209.58 L429.0,209.64 L429.5,209.68 L430.0,209.82 L430.5,209.92 L431.0,210.13 L431.5,210.09 L432.0,209.99 L432.5,209.92 L433.0,209.81 L433.5,209.87 L434.0,209.76 L434.5,209.98 L435.0,209.70 L435.5,209.87 L436.0,209.85 L436.5,210.12 L437.0,210.08 L437.5,210.02 L438.0,210.16 L438.5,210.29 L439.0,210.28 L439.5,210.32 L440.0,210.10 L440.5,210.15 L441.0,210.04 L441.5,209.98 L442.0,209.98 L442.5,209.88 L443.0,210.09 L443.5,209.97 L444.0,209.87 L444.5,209.67 L445.0,209.76 L445.5,209.98 L446.0,210.15 L446.5,210.08 L447.0,210.13 L447.5,210.05 L448.0,210.11 L448.5,210.14 L449.0,210.18 L449.5,210.03 L450.0,210.01 L450.5,210.03 L451.0,210.18 L451.5,210.25 L452.0,210.19 L452.5,210.30 L453.0,210.19 L453.5,210.52 L454.0,210.28 L454.5,210.30 L455.0,210.08 L455.5,210.38 L456.0,210.32 L456.5,210.23 L457.0,210.26 L457.5,210.27 L458.0,210.37 L458.5,210.23 L459.0,210.32 L459.5,210.16 L460.0,210.12 L460.5,210.08 L461.0,210.24 L461.5,210.41 L462.0,210.47 L462.5,210.52 L463.0,210.41 L463.5,210.49 L464.0,210.38 L464.5,210.39 L465.0,210.12 L465.5,210.08 L466.0,210.18 L466.5,210.33 L467.0,210.26 L467.5,210.17 L468.0,210.16 L468.5,210.24 L469.0,210.29 L469.5,210.29 L470.0,210.41 L470.5,210.48 L471.0,210.45 L471.5,210.56 L472.0,210.45 L472.5,210.49 L473.0,210.52 L473.5,210.59 L474.0,210.58 L474.5,210.45 L475.0,210.44 L475.5,210.34 L476.0,210.42 L476.5,210.41 L477.0,210.43 L477.5,210.28 L478.0,210.37 L478.5,210.38 L479.0,210.70 L479.5,210.51 L480.0,210.66 L480.5,210.20 L481.0,210.31 L481.5,210.24 L482.0,210.55 L482.5,210.58 L483.0,210.61 L483.5,210.78 L484.0,210.84 L484.5,210.81 L485.0,210.64 L485.5,210.28 L486.0,210.30 L486.5,210.40 L487.0,210.63 L487.5,210.71 L488.0,210.48 L488.5,210.62 L489.0,210.62 L489.5,210.75 L490.0,210.77 L490.5,210.93 L491.0,211.01 L491.5,210.75 L492.0,210.64 L492.5,210.59 L493.0,210.66 L493.5,210.46 L494.0,210.40" fill="none" stroke="#1a14e6" stroke-width="1.9" stroke-linejoin="round"/>
<path d="M12.0,243.70 L12.5,243.74 L13.0,243.79 L13.5,243.82 L14.0,243.74 L14.5,243.62 L15.0,243.59 L15.5,243.75 L16.0,244.19 L16.5,243.98 L17.0,243.86 L17.5,243.51 L18.0,243.76 L18.5,243.73 L19.0,243.84 L19.5,243.92 L20.0,243.95 L20.5,243.93 L21.0,244.01 L21.5,244.18 L22.0,244.03 L22.5,244.08 L23.0,243.93 L23.5,244.13 L24.0,243.89 L24.5,243.92 L25.0,243.82 L25.5,243.93 L26.0,243.90 L26.5,243.84 L27.0,243.72 L27.5,243.80 L28.0,243.72 L28.5,243.85 L29.0,243.78 L29.5,244.04 L30.0,244.09 L30.5,244.18 L31.0,244.15 L31.5,243.95 L32.0,243.83 L32.5,243.57 L33.0,243.57 L33.5,243.55 L34.0,243.48 L34.5,243.49 L35.0,243.67 L35.5,243.91 L36.0,243.97 L36.5,243.75 L37.0,243.57 L37.5,243.42 L38.0,243.37 L38.5,243.32 L39.0,243.37 L39.5,243.38 L40.0,243.38 L40.5,243.25 L41.0,243.17 L41.5,243.24 L42.0,243.33 L42.5,243.24 L43.0,243.00 L43.5,242.93 L44.0,243.18 L44.5,243.19 L45.0,242.90 L45.5,242.49 L46.0,242.50 L46.5,242.55 L47.0,242.59 L47.5,242.61 L48.0,242.46 L48.5,242.35 L49.0,242.07 L49.5,242.21 L50.0,242.30 L50.5,242.47 L51.0,242.16 L51.5,242.09 L52.0,241.89 L52.5,241.95 L53.0,241.77 L53.5,241.60 L54.0,241.41 L54.5,241.09 L55.0,240.95 L55.5,240.83 L56.0,240.75 L56.5,240.70 L57.0,240.73 L57.5,240.68 L58.0,240.46 L58.5,240.12 L59.0,240.07 L59.5,240.22 L60.0,240.20 L60.5,240.07 L61.0,239.66 L61.5,239.56 L62.0,239.50 L62.5,239.47 L63.0,239.32 L63.5,239.08 L64.0,239.08 L64.5,239.11 L65.0,239.11 L65.5,238.99 L66.0,238.75 L66.5,238.54 L67.0,238.30 L67.5,238.14 L68.0,238.10 L68.5,238.05 L69.0,238.07 L69.5,238.02 L70.0,238.04 L70.5,237.89 L71.0,237.67 L71.5,237.41 L72.0,237.05 L72.5,237.12 L73.0,236.93 L73.5,236.93 L74.0,236.82 L74.5,236.66 L75.0,236.52 L75.5,236.22 L76.0,236.16 L76.5,236.12 L77.0,236.05 L77.5,236.07 L78.0,235.96 L78.5,235.91 L79.0,235.73 L79.5,235.72 L80.0,235.69 L80.5,235.48 L81.0,235.33 L81.5,235.17 L82.0,235.11 L82.5,234.78 L83.0,234.75 L83.5,234.85 L84.0,235.20 L84.5,235.13 L85.0,235.17 L85.5,235.02 L86.0,235.01 L86.5,234.89 L87.0,234.85 L87.5,234.89 L88.0,234.93 L88.5,235.00 L89.0,234.90 L89.5,234.87 L90.0,234.70 L90.5,234.76 L91.0,234.69 L91.5,234.80 L92.0,234.55 L92.5,234.64 L93.0,234.62 L93.5,234.69 L94.0,234.47 L94.5,234.39 L95.0,234.39 L95.5,234.26 L96.0,232.85 L96.5,230.97 L97.0,233.00 L97.5,234.42 L98.0,234.68 L98.5,234.80 L99.0,234.85 L99.5,234.92 L100.0,234.96 L100.5,235.20 L101.0,235.12 L101.5,235.27 L102.0,235.38 L102.5,235.58 L103.0,235.68 L103.5,235.69 L104.0,235.82 L104.5,235.86 L105.0,235.95 L105.5,235.93 L106.0,236.19 L106.5,236.15 L107.0,236.33 L107.5,236.12 L108.0,236.33 L108.5,236.46 L109.0,236.53 L109.5,236.73 L110.0,236.59 L110.5,236.70 L111.0,236.65 L111.5,236.72 L112.0,236.99 L112.5,237.10 L113.0,237.03 L113.5,236.89 L114.0,236.86 L114.5,237.27 L115.0,237.40 L115.5,237.50 L116.0,237.61 L116.5,237.72 L117.0,237.92 L117.5,237.82 L118.0,238.11 L118.5,238.32 L119.0,238.44 L119.5,238.21 L120.0,238.00 L120.5,238.30 L121.0,238.57 L121.5,238.93 L122.0,238.80 L122.5,238.85 L123.0,238.82 L123.5,239.14 L124.0,239.30 L124.5,239.28 L125.0,239.28 L125.5,239.36 L126.0,239.55 L126.5,239.49 L127.0,239.11 L127.5,236.90 L128.0,233.51 L128.5,236.92 L129.0,239.35 L129.5,240.11 L130.0,240.16 L130.5,240.01 L131.0,240.18 L131.5,240.31 L132.0,240.53 L132.5,240.49 L133.0,240.56 L133.5,240.65 L134.0,240.84 L134.5,240.91 L135.0,241.15 L135.5,241.08 L136.0,241.19 L136.5,241.10 L137.0,241.10 L137.5,240.97 L138.0,239.89 L138.5,233.50 L139.0,224.47 L139.5,233.63 L140.0,240.00 L140.5,241.11 L141.0,241.53 L141.5,241.81 L142.0,241.87 L142.5,241.98 L143.0,242.27 L143.5,242.35 L144.0,242.25 L144.5,242.08 L145.0,242.21 L145.5,242.39 L146.0,242.45 L146.5,242.54 L147.0,242.70 L147.5,242.81 L148.0,242.83 L148.5,242.75 L149.0,242.77 L149.5,242.76 L150.0,242.74 L150.5,242.89 L151.0,242.97 L151.5,243.12 L152.0,243.15 L152.5,243.22 L153.0,243.26 L153.5,243.24 L154.0,243.20 L154.5,243.46 L155.0,243.40 L155.5,243.52 L156.0,243.51 L156.5,243.61 L157.0,243.56 L157.5,243.41 L158.0,243.36 L158.5,243.58 L159.0,243.63 L159.5,243.63 L160.0,243.28 L160.5,242.92 L161.0,241.20 L161.5,230.73 L162.0,215.59 L162.5,230.80 L163.0,241.39 L163.5,243.24 L164.0,243.75 L164.5,244.05 L165.0,244.13 L165.5,244.57 L166.0,244.59 L166.5,244.78 L167.0,244.46 L167.5,244.39 L168.0,244.27 L168.5,244.20 L169.0,243.97 L169.5,242.52 L170.0,234.14 L170.5,222.00 L171.0,234.65 L171.5,243.16 L172.0,244.69 L172.5,245.07 L173.0,245.20 L173.5,245.10 L174.0,245.01 L174.5,245.33 L175.0,245.40 L175.5,245.39 L176.0,245.27 L176.5,244.89 L177.0,243.86 L177.5,242.86 L178.0,243.89 L178.5,244.78 L179.0,245.04 L179.5,245.24 L180.0,245.41 L180.5,245.71 L181.0,245.68 L181.5,245.88 L182.0,245.82 L182.5,245.68 L183.0,245.61 L183.5,245.51 L184.0,245.74 L184.5,245.98 L185.0,246.09 L185.5,246.10 L186.0,245.78 L186.5,245.79 L187.0,245.78 L187.5,245.97 L188.0,246.09 L188.5,246.28 L189.0,246.31 L189.5,246.31 L190.0,246.04 L190.5,246.12 L191.0,246.11 L191.5,246.11 L192.0,246.10 L192.5,246.05 L193.0,246.34 L193.5,246.36 L194.0,246.45 L194.5,246.53 L195.0,246.47 L195.5,246.40 L196.0,246.08 L196.5,245.70 L197.0,245.28 L197.5,245.73 L198.0,246.21 L198.5,246.43 L199.0,246.28 L199.5,246.39 L200.0,246.60 L200.5,246.87 L201.0,246.87 L201.5,246.94 L202.0,246.90 L202.5,246.99 L203.0,246.81 L203.5,246.71 L204.0,246.57 L204.5,246.57 L205.0,246.72 L205.5,246.92 L206.0,247.01 L206.5,247.08 L207.0,247.13 L207.5,247.28 L208.0,247.20 L208.5,246.94 L209.0,246.98 L209.5,246.88 L210.0,246.78 L210.5,246.39 L211.0,246.62 L211.5,246.67 L212.0,246.86 L212.5,246.74 L213.0,247.03 L213.5,246.93 L214.0,246.96 L214.5,246.87 L215.0,247.16 L215.5,247.14 L216.0,247.14 L216.5,246.98 L217.0,247.11 L217.5,247.17 L218.0,247.14 L218.5,247.00 L219.0,246.41 L219.5,245.53 L220.0,244.57 L220.5,245.52 L221.0,246.57 L221.5,247.24 L222.0,247.42 L222.5,247.36 L223.0,247.15 L223.5,247.23 L224.0,247.25 L224.5,247.40 L225.0,247.50 L225.5,247.60 L226.0,247.48 L226.5,247.41 L227.0,247.30 L227.5,247.18 L228.0,247.23 L228.5,247.51 L229.0,247.83 L229.5,247.70 L230.0,247.18 L230.5,246.99 L231.0,247.10 L231.5,247.41 L232.0,247.64 L232.5,247.51 L233.0,247.61 L233.5,247.51 L234.0,247.63 L234.5,247.45 L235.0,247.43 L235.5,247.44 L236.0,247.55 L236.5,247.44 L237.0,247.37 L237.5,247.32 L238.0,247.49 L238.5,247.63 L239.0,247.75 L239.5,247.73 L240.0,247.57 L240.5,247.46 L241.0,247.02 L241.5,246.15 L242.0,241.08 L242.5,233.77 L243.0,241.31 L243.5,246.23 L244.0,247.19 L244.5,247.32 L245.0,247.59 L245.5,247.50 L246.0,247.36 L246.5,246.65 L247.0,246.90 L247.5,247.07 L248.0,247.58 L248.5,247.73 L249.0,247.77 L249.5,247.63 L250.0,247.58 L250.5,247.58 L251.0,247.90 L251.5,247.98 L252.0,248.36 L252.5,248.32 L253.0,248.39 L253.5,248.21 L254.0,248.22 L254.5,248.14 L255.0,247.90 L255.5,247.95 L256.0,247.98 L256.5,248.23 L257.0,248.14 L257.5,248.04 L258.0,247.94 L258.5,247.57 L259.0,245.74 L259.5,242.59 L260.0,245.69 L260.5,247.75 L261.0,248.12 L261.5,248.34 L262.0,248.46 L262.5,248.68 L263.0,248.58 L263.5,248.62 L264.0,248.39 L264.5,248.31 L265.0,248.31 L265.5,248.40 L266.0,248.44 L266.5,248.37 L267.0,248.25 L267.5,248.32 L268.0,248.37 L268.5,248.51 L269.0,248.39 L269.5,248.53 L270.0,248.62 L270.5,248.64 L271.0,248.42 L271.5,248.23 L272.0,248.17 L272.5,248.04 L273.0,248.13 L273.5,248.36 L274.0,248.63 L274.5,248.70 L275.0,248.75 L275.5,248.71 L276.0,248.54 L276.5,248.02 L277.0,246.06 L277.5,243.44 L278.0,246.47 L278.5,248.26 L279.0,248.35 L279.5,248.54 L280.0,248.70 L280.5,249.04 L281.0,248.86 L281.5,248.78 L282.0,248.84 L282.5,248.90 L283.0,249.20 L283.5,249.14 L284.0,249.01 L284.5,248.87 L285.0,248.92 L285.5,248.96 L286.0,249.00 L286.5,249.03 L287.0,248.98 L287.5,248.93 L288.0,248.82 L288.5,249.01 L289.0,248.89 L289.5,248.38 L290.0,247.97 L290.5,248.32 L291.0,248.88 L291.5,249.04 L292.0,249.14 L292.5,249.21 L293.0,249.32 L293.5,249.23 L294.0,249.21 L294.5,249.09 L295.0,249.20 L295.5,249.17 L296.0,249.31 L296.5,249.34 L297.0,249.29 L297.5,249.03 L298.0,248.97 L298.5,248.74 L299.0,248.06 L299.5,247.43 L300.0,248.13 L300.5,249.10 L301.0,249.39 L301.5,249.64 L302.0,249.64 L302.5,249.79 L303.0,249.68 L303.5,249.61 L304.0,249.48 L304.5,249.43 L305.0,249.45 L305.5,249.54 L306.0,249.72 L306.5,249.93 L307.0,249.99 L307.5,249.95 L308.0,249.70 L308.5,249.46 L309.0,249.36 L309.5,249.47 L310.0,249.82 L310.5,250.08 L311.0,250.09 L311.5,250.09 L312.0,249.95 L312.5,249.87 L313.0,249.55 L313.5,248.98 L314.0,249.13 L314.5,249.47 L315.0,249.50 L315.5,249.47 L316.0,249.71 L316.5,250.07 L317.0,250.03 L317.5,250.01 L318.0,249.86 L318.5,250.00 L319.0,249.89 L319.5,249.86 L320.0,249.91 L320.5,249.87 L321.0,249.85 L321.5,249.85 L322.0,250.00 L322.5,249.93 L323.0,249.99 L323.5,249.87 L324.0,250.07 L324.5,249.96 L325.0,250.30 L325.5,250.36 L326.0,250.47 L326.5,250.27 L327.0,250.34 L327.5,250.13 L328.0,250.16 L328.5,250.06 L329.0,250.12 L329.5,250.16 L330.0,250.34 L330.5,250.50 L331.0,250.46 L331.5,250.44 L332.0,250.30 L332.5,250.38 L333.0,250.37 L333.5,250.49 L334.0,250.44 L334.5,250.42 L335.0,250.38 L335.5,250.39 L336.0,250.46 L336.5,250.34 L337.0,250.48 L337.5,250.44 L338.0,250.60 L338.5,249.95 L339.0,248.32 L339.5,248.25 L340.0,249.99 L340.5,250.55 L341.0,250.81 L341.5,250.79 L342.0,250.56 L342.5,250.37 L343.0,250.34 L343.5,250.59 L344.0,250.56 L344.5,250.59 L345.0,250.58 L345.5,250.68 L346.0,250.69 L346.5,250.92 L347.0,250.98 L347.5,251.18 L348.0,250.88 L348.5,250.54 L349.0,250.16 L349.5,250.36 L350.0,250.73 L350.5,250.58 L351.0,250.70 L351.5,250.68 L352.0,251.03 L352.5,251.03 L353.0,251.07 L353.5,250.87 L354.0,250.87 L354.5,250.89 L355.0,250.93 L355.5,251.13 L356.0,251.17 L356.5,251.35 L357.0,251.33 L357.5,251.40 L358.0,251.38 L358.5,251.30 L359.0,251.37 L359.5,251.38 L360.0,251.40 L360.5,251.33 L361.0,251.24 L361.5,251.16 L362.0,251.10 L362.5,251.18 L363.0,251.36 L363.5,251.34 L364.0,251.27 L364.5,251.03 L365.0,251.05 L365.5,251.01 L366.0,250.90 L366.5,251.14 L367.0,251.04 L367.5,251.16 L368.0,251.22 L368.5,251.41 L369.0,251.28 L369.5,251.30 L370.0,251.36 L370.5,251.72 L371.0,251.63 L371.5,251.64 L372.0,251.44 L372.5,251.53 L373.0,251.38 L373.5,251.56 L374.0,251.63 L374.5,251.80 L375.0,251.65 L375.5,251.65 L376.0,251.72 L376.5,251.73 L377.0,251.68 L377.5,251.69 L378.0,251.71 L378.5,251.71 L379.0,251.64 L379.5,251.67 L380.0,251.58 L380.5,251.55 L381.0,251.63 L381.5,251.85 L382.0,251.96 L382.5,251.58 L383.0,251.37 L383.5,251.43 L384.0,251.96 L384.5,252.24 L385.0,252.20 L385.5,252.01 L386.0,251.86 L386.5,252.07 L387.0,252.14 L387.5,252.11 L388.0,252.04 L388.5,252.11 L389.0,252.02 L389.5,251.88 L390.0,251.91 L390.5,252.21 L391.0,252.16 L391.5,252.08 L392.0,252.09 L392.5,252.26 L393.0,252.17 L393.5,252.08 L394.0,252.12 L394.5,252.29 L395.0,252.22 L395.5,252.40 L396.0,252.39 L396.5,252.35 L397.0,252.10 L397.5,251.82 L398.0,251.91 L398.5,251.96 L399.0,252.48 L399.5,252.58 L400.0,252.63 L400.5,252.48 L401.0,252.49 L401.5,252.41 L402.0,252.48 L402.5,252.52 L403.0,252.75 L403.5,252.73 L404.0,252.60 L404.5,252.41 L405.0,252.28 L405.5,252.35 L406.0,252.45 L406.5,252.48 L407.0,252.46 L407.5,252.57 L408.0,252.73 L408.5,252.83 L409.0,252.59 L409.5,252.41 L410.0,252.34 L410.5,252.37 L411.0,252.34 L411.5,252.45 L412.0,252.58 L412.5,252.73 L413.0,252.63 L413.5,252.64 L414.0,252.80 L414.5,252.93 L415.0,252.87 L415.5,252.96 L416.0,252.97 L416.5,252.96 L417.0,252.79 L417.5,252.70 L418.0,252.74 L418.5,252.76 L419.0,252.78 L419.5,252.69 L420.0,252.67 L420.5,252.82 L421.0,252.84 L421.5,252.75 L422.0,252.78 L422.5,252.95 L423.0,253.08 L423.5,252.97 L424.0,252.90 L424.5,252.77 L425.0,252.76 L425.5,252.85 L426.0,252.66 L426.5,252.51 L427.0,252.50 L427.5,252.84 L428.0,252.98 L428.5,252.99 L429.0,252.83 L429.5,252.77 L430.0,252.79 L430.5,252.90 L431.0,253.00 L431.5,252.86 L432.0,252.89 L432.5,252.94 L433.0,253.05 L433.5,253.05 L434.0,253.03 L434.5,253.11 L435.0,253.17 L435.5,253.39 L436.0,253.49 L436.5,253.45 L437.0,253.17 L437.5,253.10 L438.0,253.06 L438.5,253.33 L439.0,253.14 L439.5,253.16 L440.0,253.17 L440.5,253.33 L441.0,253.45 L441.5,253.37 L442.0,253.34 L442.5,253.36 L443.0,253.22 L443.5,253.24 L444.0,253.38 L444.5,253.45 L445.0,253.53 L445.5,253.23 L446.0,253.39 L446.5,253.27 L447.0,253.31 L447.5,253.13 L448.0,253.14 L448.5,253.08 L449.0,253.12 L449.5,253.17 L450.0,253.31 L450.5,253.25 L451.0,253.22 L451.5,253.21 L452.0,253.31 L452.5,253.32 L453.0,253.36 L453.5,253.34 L454.0,253.55 L454.5,253.62 L455.0,253.70 L455.5,253.71 L456.0,253.59 L456.5,253.68 L457.0,253.61 L457.5,253.64 L458.0,253.55 L458.5,253.44 L459.0,253.67 L459.5,253.67 L460.0,253.63 L460.5,253.36 L461.0,253.30 L461.5,253.40 L462.0,253.56 L462.5,253.70 L463.0,253.87 L463.5,253.88 L464.0,253.72 L464.5,253.74 L465.0,253.81 L465.5,253.72 L466.0,253.57 L466.5,253.42 L467.0,253.55 L467.5,253.71 L468.0,253.80 L468.5,253.89 L469.0,253.68 L469.5,253.45 L470.0,253.36 L470.5,253.41 L471.0,253.53 L471.5,253.42 L472.0,253.36 L472.5,253.42 L473.0,253.66 L473.5,253.77 L474.0,253.80 L474.5,253.77 L475.0,253.82 L475.5,253.97 L476.0,253.91 L476.5,253.94 L477.0,253.71 L477.5,253.91 L478.0,253.97 L478.5,254.20 L479.0,254.11 L479.5,254.04 L480.0,253.82 L480.5,253.85 L481.0,254.01 L481.5,253.87 L482.0,254.02 L482.5,253.82 L483.0,254.14 L483.5,253.90 L484.0,253.98 L484.5,254.02 L485.0,254.09 L485.5,254.29 L486.0,254.23 L486.5,254.32 L487.0,254.09 L487.5,254.05 L488.0,253.96 L488.5,254.08 L489.0,254.30 L489.5,254.35 L490.0,254.18 L490.5,253.97 L491.0,253.85 L491.5,254.03 L492.0,254.10 L492.5,254.14 L493.0,254.07 L493.5,254.17 L494.0,254.32" fill="none" stroke="#ee1420" stroke-width="1.9" stroke-linejoin="round"/>
<path d="M12.0,290.62 L12.5,290.65 L13.0,290.81 L13.5,290.77 L14.0,290.86 L14.5,290.68 L15.0,290.86 L15.5,290.82 L16.0,290.87 L16.5,290.81 L17.0,290.79 L17.5,290.84 L18.0,290.92 L18.5,290.79 L19.0,290.78 L19.5,290.88 L20.0,291.12 L20.5,291.11 L21.0,290.82 L21.5,290.80 L22.0,290.86 L22.5,291.19 L23.0,291.05 L23.5,290.97 L24.0,290.79 L24.5,290.86 L25.0,290.72 L25.5,290.74 L26.0,290.73 L26.5,290.86 L27.0,291.07 L27.5,291.05 L28.0,291.05 L28.5,291.00 L29.0,291.01 L29.5,291.16 L30.0,291.09 L30.5,291.08 L31.0,290.88 L31.5,290.84 L32.0,290.86 L32.5,290.93 L33.0,290.84 L33.5,290.89 L34.0,290.79 L34.5,290.78 L35.0,290.67 L35.5,290.59 L36.0,290.57 L36.5,290.54 L37.0,290.48 L37.5,290.30 L38.0,290.41 L38.5,290.48 L39.0,290.60 L39.5,290.38 L40.0,290.52 L40.5,290.47 L41.0,290.31 L41.5,290.16 L42.0,290.04 L42.5,290.21 L43.0,290.10 L43.5,290.28 L44.0,290.23 L44.5,290.16 L45.0,290.13 L45.5,290.30 L46.0,290.23 L46.5,290.15 L47.0,289.87 L47.5,289.92 L48.0,289.63 L48.5,289.43 L49.0,289.46 L49.5,289.52 L50.0,289.49 L50.5,289.45 L51.0,289.47 L51.5,289.50 L52.0,289.14 L52.5,288.92 L53.0,288.89 L53.5,288.69 L54.0,288.43 L54.5,288.10 L55.0,288.29 L55.5,288.36 L56.0,288.37 L56.5,288.18 L57.0,288.06 L57.5,288.02 L58.0,288.24 L58.5,288.16 L59.0,288.05 L59.5,287.54 L60.0,287.54 L60.5,287.30 L61.0,287.25 L61.5,286.93 L62.0,286.74 L62.5,286.56 L63.0,286.40 L63.5,286.24 L64.0,286.37 L64.5,286.41 L65.0,286.53 L65.5,286.30 L66.0,286.02 L66.5,285.82 L67.0,285.57 L67.5,285.52 L68.0,285.39 L68.5,285.38 L69.0,285.35 L69.5,285.26 L70.0,285.10 L70.5,284.97 L71.0,284.96 L71.5,285.09 L72.0,285.08 L72.5,284.81 L73.0,284.52 L73.5,284.39 L74.0,284.39 L74.5,284.36 L75.0,284.28 L75.5,284.11 L76.0,283.86 L76.5,283.48 L77.0,283.45 L77.5,283.44 L78.0,283.42 L78.5,283.23 L79.0,283.04 L79.5,283.01 L80.0,283.11 L80.5,283.04 L81.0,283.27 L81.5,283.03 L82.0,282.94 L82.5,282.67 L83.0,282.89 L83.5,282.92 L84.0,282.93 L84.5,282.44 L85.0,282.49 L85.5,282.27 L86.0,282.46 L86.5,282.52 L87.0,282.60 L87.5,282.66 L88.0,282.48 L88.5,282.46 L89.0,282.39 L89.5,282.50 L90.0,282.53 L90.5,282.48 L91.0,282.26 L91.5,282.07 L92.0,282.06 L92.5,282.13 L93.0,282.31 L93.5,282.38 L94.0,282.45 L94.5,282.30 L95.0,282.15 L95.5,281.80 L96.0,280.22 L96.5,277.58 L97.0,279.89 L97.5,281.58 L98.0,282.21 L98.5,282.37 L99.0,282.33 L99.5,282.47 L100.0,282.57 L100.5,282.74 L101.0,282.73 L101.5,282.88 L102.0,283.00 L102.5,282.98 L103.0,282.94 L103.5,283.11 L104.0,283.24 L104.5,283.44 L105.0,283.25 L105.5,283.30 L106.0,283.30 L106.5,283.52 L107.0,283.46 L107.5,283.53 L108.0,283.81 L108.5,284.11 L109.0,284.18 L109.5,284.03 L110.0,283.95 L110.5,284.11 L111.0,284.19 L111.5,284.38 L112.0,284.53 L112.5,284.80 L113.0,284.99 L113.5,284.83 L114.0,284.78 L114.5,284.93 L115.0,285.07 L115.5,285.35 L116.0,285.33 L116.5,285.64 L117.0,285.57 L117.5,285.55 L118.0,285.45 L118.5,285.74 L119.0,285.92 L119.5,286.00 L120.0,286.03 L120.5,286.00 L121.0,286.20 L121.5,286.25 L122.0,286.52 L122.5,286.67 L123.0,286.72 L123.5,286.53 L124.0,286.59 L124.5,286.67 L125.0,286.97 L125.5,287.06 L126.0,287.18 L126.5,287.22 L127.0,287.06 L127.5,285.33 L128.0,282.60 L128.5,285.31 L129.0,286.98 L129.5,287.43 L130.0,287.44 L130.5,287.85 L131.0,287.99 L131.5,288.20 L132.0,288.18 L132.5,288.06 L133.0,288.08 L133.5,288.15 L134.0,288.20 L134.5,288.40 L135.0,288.36 L135.5,288.66 L136.0,288.69 L136.5,288.85 L137.0,288.71 L137.5,288.37 L138.0,286.94 L138.5,279.72 L139.0,269.72 L139.5,279.78 L140.0,286.98 L140.5,288.04 L141.0,288.62 L141.5,288.99 L142.0,289.29 L142.5,289.42 L143.0,289.41 L143.5,289.61 L144.0,289.61 L144.5,289.74 L145.0,289.78 L145.5,289.90 L146.0,289.86 L146.5,290.06 L147.0,290.30 L147.5,290.51 L148.0,290.36 L148.5,290.31 L149.0,290.20 L149.5,290.16 L150.0,290.20 L150.5,290.32 L151.0,290.43 L151.5,290.41 L152.0,290.56 L152.5,290.69 L153.0,290.71 L153.5,290.93 L154.0,290.85 L154.5,291.08 L155.0,290.82 L155.5,291.11 L156.0,291.14 L156.5,291.38 L157.0,291.34 L157.5,291.28 L158.0,291.34 L158.5,291.34 L159.0,291.36 L159.5,291.11 L160.0,290.86 L160.5,290.45 L161.0,288.58 L161.5,276.90 L162.0,259.60 L162.5,276.88 L163.0,288.80 L163.5,290.85 L164.0,291.49 L164.5,291.71 L165.0,291.77 L165.5,291.79 L166.0,291.75 L166.5,292.01 L167.0,292.04 L167.5,292.09 L168.0,292.03 L168.5,291.94 L169.0,291.43 L169.5,289.42 L170.0,278.83 L170.5,263.76 L171.0,279.42 L171.5,290.07 L172.0,292.02 L172.5,292.29 L173.0,292.24 L173.5,292.21 L174.0,292.28 L174.5,292.56 L175.0,292.69 L175.5,292.74 L176.0,292.71 L176.5,292.25 L177.0,291.00 L177.5,289.79 L178.0,291.10 L178.5,292.21 L179.0,292.87 L179.5,292.99 L180.0,293.07 L180.5,293.01 L181.0,293.09 L181.5,293.24 L182.0,293.26 L182.5,293.18 L183.0,293.43 L183.5,293.57 L184.0,293.54 L184.5,293.29 L185.0,293.10 L185.5,293.23 L186.0,293.17 L186.5,293.28 L187.0,293.33 L187.5,293.45 L188.0,293.49 L188.5,293.44 L189.0,293.65 L189.5,293.57 L190.0,293.61 L190.5,293.54 L191.0,293.71 L191.5,293.56 L192.0,293.63 L192.5,293.55 L193.0,293.71 L193.5,293.59 L194.0,293.88 L194.5,293.90 L195.0,294.19 L195.5,293.90 L196.0,293.70 L196.5,293.15 L197.0,292.76 L197.5,293.28 L198.0,293.76 L198.5,293.96 L199.0,293.92 L199.5,293.81 L200.0,293.98 L200.5,294.11 L201.0,294.28 L201.5,294.17 L202.0,294.10 L202.5,293.87 L203.0,293.88 L203.5,293.89 L204.0,294.00 L204.5,293.95 L205.0,293.95 L205.5,293.95 L206.0,294.15 L206.5,294.20 L207.0,294.19 L207.5,294.21 L208.0,294.39 L208.5,294.43 L209.0,294.31 L209.5,294.01 L210.0,293.89 L210.5,293.93 L211.0,294.26 L211.5,294.61 L212.0,294.71 L212.5,294.53 L213.0,294.41 L213.5,294.19 L214.0,294.24 L214.5,294.08 L215.0,294.24 L215.5,294.39 L216.0,294.74 L216.5,294.76 L217.0,294.65 L217.5,294.26 L218.0,294.14 L218.5,294.15 L219.0,294.03 L219.5,293.12 L220.0,292.08 L220.5,293.09 L221.0,294.06 L221.5,294.42 L222.0,294.66 L222.5,294.66 L223.0,294.76 L223.5,294.47 L224.0,294.73 L224.5,294.67 L225.0,294.69 L225.5,294.53 L226.0,294.65 L226.5,294.60 L227.0,294.50 L227.5,294.42 L228.0,294.50 L228.5,294.71 L229.0,294.71 L229.5,294.69 L230.0,294.68 L230.5,294.77 L231.0,294.95 L231.5,294.94 L232.0,294.73 L232.5,294.63 L233.0,294.64 L233.5,294.82 L234.0,294.89 L234.5,294.87 L235.0,295.00 L235.5,294.93 L236.0,295.10 L236.5,294.89 L237.0,294.68 L237.5,294.45 L238.0,294.84 L238.5,295.05 L239.0,295.12 L239.5,294.83 L240.0,294.75 L240.5,294.68 L241.0,294.41 L241.5,293.60 L242.0,287.58 L242.5,278.72 L243.0,287.48 L243.5,293.54 L244.0,294.48 L244.5,294.78 L245.0,294.74 L245.5,294.82 L246.0,294.28 L246.5,294.04 L247.0,294.57 L247.5,295.13 L248.0,295.21 L248.5,295.11 L249.0,295.14 L249.5,295.18 L250.0,295.19 L250.5,295.14 L251.0,295.16 L251.5,295.27 L252.0,295.25 L252.5,295.31 L253.0,295.20 L253.5,295.08 L254.0,295.16 L254.5,295.34 L255.0,295.48 L255.5,295.48 L256.0,295.42 L256.5,295.35 L257.0,295.38 L257.5,295.12 L258.0,295.15 L258.5,294.74 L259.0,292.70 L259.5,289.78 L260.0,292.76 L260.5,295.15 L261.0,295.36 L261.5,295.59 L262.0,295.51 L262.5,295.81 L263.0,295.81 L263.5,295.94 L264.0,295.79 L264.5,295.79 L265.0,295.68 L265.5,295.66 L266.0,295.76 L266.5,295.89 L267.0,295.92 L267.5,295.82 L268.0,295.81 L268.5,295.67 L269.0,295.69 L269.5,295.43 L270.0,295.47 L270.5,295.47 L271.0,295.55 L271.5,295.51 L272.0,295.63 L272.5,295.83 L273.0,296.07 L273.5,296.10 L274.0,296.11 L274.5,296.08 L275.0,295.99 L275.5,296.02 L276.0,295.72 L276.5,295.35 L277.0,293.39 L277.5,290.82 L278.0,293.68 L278.5,295.49 L279.0,295.85 L279.5,295.92 L280.0,295.89 L280.5,295.96 L281.0,295.96 L281.5,296.11 L282.0,295.85 L282.5,295.65 L283.0,295.69 L283.5,296.03 L284.0,296.07 L284.5,295.99 L285.0,295.89 L285.5,296.15 L286.0,296.22 L286.5,296.16 L287.0,296.05 L287.5,296.16 L288.0,296.25 L288.5,296.34 L289.0,295.83 L289.5,295.42 L290.0,294.95 L290.5,295.68 L291.0,296.21 L291.5,296.55 L292.0,296.55 L292.5,296.50 L293.0,296.45 L293.5,296.42 L294.0,296.34 L294.5,296.12 L295.0,296.03 L295.5,296.04 L296.0,296.37 L296.5,296.43 L297.0,296.52 L297.5,296.38 L298.0,296.58 L298.5,296.12 L299.0,295.60 L299.5,294.75 L300.0,295.50 L300.5,296.06 L301.0,296.16 L301.5,296.32 L302.0,296.31 L302.5,296.58 L303.0,296.54 L303.5,296.32 L304.0,296.02 L304.5,296.01 L305.0,296.17 L305.5,296.53 L306.0,296.50 L306.5,296.69 L307.0,296.60 L307.5,296.87 L308.0,296.85 L308.5,296.90 L309.0,296.65 L309.5,296.69 L310.0,296.75 L310.5,296.85 L311.0,296.89 L311.5,296.71 L312.0,296.69 L312.5,296.57 L313.0,296.33 L313.5,295.90 L314.0,295.94 L314.5,296.51 L315.0,296.63 L315.5,296.68 L316.0,296.72 L316.5,296.80 L317.0,296.71 L317.5,296.88 L318.0,296.95 L318.5,297.11 L319.0,297.13 L319.5,296.90 L320.0,296.89 L320.5,296.80 L321.0,297.11 L321.5,297.17 L322.0,297.27 L322.5,297.34 L323.0,297.12 L323.5,296.97 L324.0,296.98 L324.5,297.32 L325.0,297.36 L325.5,297.37 L326.0,297.33 L326.5,297.28 L327.0,297.12 L327.5,297.08 L328.0,297.23 L328.5,297.48 L329.0,297.52 L329.5,297.63 L330.0,297.40 L330.5,297.23 L331.0,297.09 L331.5,297.31 L332.0,297.63 L332.5,297.63 L333.0,297.48 L333.5,297.06 L334.0,297.28 L334.5,297.18 L335.0,297.53 L335.5,297.54 L336.0,297.54 L336.5,297.37 L337.0,297.30 L337.5,297.56 L338.0,297.51 L338.5,296.82 L339.0,294.87 L339.5,295.06 L340.0,296.93 L340.5,297.36 L341.0,297.45 L341.5,297.63 L342.0,297.65 L342.5,297.56 L343.0,297.61 L343.5,297.81 L344.0,297.86 L344.5,297.82 L345.0,297.56 L345.5,297.60 L346.0,297.66 L346.5,297.86 L347.0,297.80 L347.5,297.74 L348.0,297.71 L348.5,297.35 L349.0,296.94 L349.5,297.24 L350.0,297.58 L350.5,297.82 L351.0,297.82 L351.5,297.86 L352.0,297.90 L352.5,297.76 L353.0,297.94 L353.5,297.82 L354.0,298.08 L354.5,297.84 L355.0,297.92 L355.5,297.76 L356.0,297.99 L356.5,298.09 L357.0,298.10 L357.5,297.90 L358.0,298.00 L358.5,298.06 L359.0,298.24 L359.5,298.13 L360.0,298.09 L360.5,298.13 L361.0,298.19 L361.5,298.37 L362.0,298.33 L362.5,298.17 L363.0,298.15 L363.5,298.14 L364.0,298.26 L364.5,297.86 L365.0,297.69 L365.5,297.50 L366.0,297.54 L366.5,297.88 L367.0,298.19 L367.5,298.36 L368.0,298.28 L368.5,298.28 L369.0,298.34 L369.5,298.43 L370.0,298.21 L370.5,298.06 L371.0,298.18 L371.5,298.36 L372.0,298.32 L372.5,298.23 L373.0,298.28 L373.5,298.53 L374.0,298.61 L374.5,298.65 L375.0,298.53 L375.5,298.33 L376.0,298.24 L376.5,298.47 L377.0,298.50 L377.5,298.66 L378.0,298.39 L378.5,298.42 L379.0,298.35 L379.5,298.44 L380.0,298.55 L380.5,298.44 L381.0,298.55 L381.5,298.67 L382.0,298.65 L382.5,298.71 L383.0,298.67 L383.5,298.91 L384.0,298.64 L384.5,298.70 L385.0,298.52 L385.5,298.73 L386.0,298.61 L386.5,298.64 L387.0,298.59 L387.5,298.57 L388.0,298.70 L388.5,298.87 L389.0,298.93 L389.5,299.00 L390.0,298.96 L390.5,299.11 L391.0,298.91 L391.5,298.92 L392.0,298.82 L392.5,298.97 L393.0,299.01 L393.5,299.10 L394.0,299.12 L394.5,299.14 L395.0,299.05 L395.5,299.03 L396.0,298.92 L396.5,299.07 L397.0,299.18 L397.5,299.38 L398.0,299.23 L398.5,299.15 L399.0,299.28 L399.5,299.44 L400.0,299.33 L400.5,299.17 L401.0,299.10 L401.5,299.23 L402.0,299.13 L402.5,299.03 L403.0,299.02 L403.5,298.98 L404.0,298.96 L404.5,298.98 L405.0,298.98 L405.5,299.18 L406.0,299.33 L406.5,299.41 L407.0,299.32 L407.5,299.29 L408.0,299.30 L408.5,299.55 L409.0,299.23 L409.5,299.02 L410.0,298.72 L410.5,299.04 L411.0,299.36 L411.5,299.43 L412.0,299.40 L412.5,299.30 L413.0,299.41 L413.5,299.62 L414.0,299.43 L414.5,299.61 L415.0,299.52 L415.5,299.73 L416.0,299.57 L416.5,299.47 L417.0,299.56 L417.5,299.56 L418.0,299.65 L418.5,299.52 L419.0,299.54 L419.5,299.40 L420.0,299.48 L420.5,299.51 L421.0,299.54 L421.5,299.61 L422.0,299.57 L422.5,299.64 L423.0,299.49 L423.5,299.52 L424.0,299.54 L424.5,299.89 L425.0,299.75 L425.5,299.84 L426.0,299.59 L426.5,299.67 L427.0,299.75 L427.5,299.78 L428.0,299.90 L428.5,299.75 L429.0,299.69 L429.5,299.59 L430.0,299.55 L430.5,299.62 L431.0,299.84 L431.5,299.94 L432.0,299.80 L432.5,299.81 L433.0,299.81 L433.5,300.08 L434.0,300.05 L434.5,299.94 L435.0,299.90 L435.5,299.73 L436.0,299.79 L436.5,299.73 L437.0,299.77 L437.5,299.93 L438.0,300.04 L438.5,300.07 L439.0,300.08 L439.5,299.78 L440.0,299.77 L440.5,299.69 L441.0,299.96 L441.5,300.11 L442.0,300.10 L442.5,300.21 L443.0,300.06 L443.5,300.12 L444.0,300.00 L444.5,300.00 L445.0,299.99 L445.5,300.05 L446.0,299.99 L446.5,300.04 L447.0,299.97 L447.5,300.08 L448.0,299.72 L448.5,299.75 L449.0,299.56 L449.5,299.92 L450.0,299.85 L450.5,300.01 L451.0,299.91 L451.5,299.87 L452.0,299.92 L452.5,299.82 L453.0,299.94 L453.5,300.03 L454.0,300.29 L454.5,300.47 L455.0,300.36 L455.5,300.15 L456.0,300.06 L456.5,300.25 L457.0,300.26 L457.5,300.36 L458.0,300.20 L458.5,300.03 L459.0,299.91 L459.5,300.12 L460.0,300.46 L460.5,300.57 L461.0,300.43 L461.5,300.19 L462.0,299.86 L462.5,299.72 L463.0,299.86 L463.5,300.00 L464.0,300.03 L464.5,300.16 L465.0,300.41 L465.5,300.33 L466.0,300.16 L466.5,300.01 L467.0,300.16 L467.5,300.04 L468.0,300.35 L468.5,300.45 L469.0,300.73 L469.5,300.25 L470.0,300.22 L470.5,300.07 L471.0,300.33 L471.5,300.33 L472.0,300.46 L472.5,300.46 L473.0,300.38 L473.5,300.40 L474.0,300.13 L474.5,300.27 L475.0,300.24 L475.5,300.74 L476.0,300.69 L476.5,300.48 L477.0,300.38 L477.5,300.31 L478.0,300.44 L478.5,300.29 L479.0,300.50 L479.5,300.81 L480.0,300.79 L480.5,300.69 L481.0,300.52 L481.5,300.51 L482.0,300.44 L482.5,300.41 L483.0,300.48 L483.5,300.64 L484.0,300.47 L484.5,300.53 L485.0,300.47 L485.5,300.81 L486.0,300.73 L486.5,300.67 L487.0,300.55 L487.5,300.54 L488.0,300.52 L488.5,300.45 L489.0,300.45 L489.5,300.42 L490.0,300.43 L490.5,300.43 L491.0,300.46 L491.5,300.40 L492.0,300.58 L492.5,300.69 L493.0,300.83 L493.5,300.63 L494.0,300.67" fill="none" stroke="#141414" stroke-width="1.9" stroke-linejoin="round"/>
<line x1="96.6" y1="362.7" x2="96.6" y2="339.5" stroke="#111" stroke-width="2.0"/><path d="M94.0,342.7 L96.6,337.5 L99.19999999999999,342.7 Z" fill="#111"/>
<line x1="128" y1="362.7" x2="128" y2="342" stroke="#111" stroke-width="2.0"/><path d="M125.4,345.2 L128,340 L130.6,345.2 Z" fill="#111"/>
<line x1="139" y1="362.7" x2="139" y2="318" stroke="#111" stroke-width="2.2"/><path d="M136.4,321.2 L139,316 L141.6,321.2 Z" fill="#111"/>
<line x1="162" y1="362.7" x2="162" y2="290" stroke="#111" stroke-width="2.2"/>
<line x1="171" y1="362.7" x2="171" y2="307.5" stroke="#111" stroke-width="2.2"/><path d="M168.4,310.7 L171,305.5 L173.6,310.7 Z" fill="#111"/>
<line x1="177" y1="362.7" x2="177" y2="342" stroke="#111" stroke-width="2.0"/><path d="M174.4,345.2 L177,340 L179.6,345.2 Z" fill="#111"/>
<line x1="197" y1="362.7" x2="197" y2="343" stroke="#111" stroke-width="2.0"/><path d="M194.4,346.2 L197,341 L199.6,346.2 Z" fill="#111"/>
<line x1="220.5" y1="362.7" x2="220.5" y2="343" stroke="#111" stroke-width="2.0"/><path d="M217.9,346.2 L220.5,341 L223.1,346.2 Z" fill="#111"/>
<line x1="242.6" y1="362.7" x2="242.6" y2="316.5" stroke="#111" stroke-width="2.2"/><path d="M240.0,319.7 L242.6,314.5 L245.2,319.7 Z" fill="#111"/>
<line x1="250.2" y1="362.7" x2="250.2" y2="341.5" stroke="#111" stroke-width="2.0"/><path d="M247.6,344.7 L250.2,339.5 L252.79999999999998,344.7 Z" fill="#111"/>
<line x1="259" y1="362.7" x2="259" y2="333" stroke="#111" stroke-width="2.0"/><path d="M256.4,336.2 L259,331 L261.6,336.2 Z" fill="#111"/>
<line x1="262.3" y1="362.7" x2="262.3" y2="341.6" stroke="#111" stroke-width="2.0"/><path d="M259.7,344.8 L262.3,339.6 L264.90000000000003,344.8 Z" fill="#111"/>
<line x1="279.6" y1="362.7" x2="279.6" y2="327.6" stroke="#111" stroke-width="2.0"/><path d="M277.0,330.8 L279.6,325.6 L282.20000000000005,330.8 Z" fill="#111"/>
<line x1="290.7" y1="362.7" x2="290.7" y2="342.5" stroke="#111" stroke-width="2.0"/><path d="M288.09999999999997,345.7 L290.7,340.5 L293.3,345.7 Z" fill="#111"/>
<line x1="296.5" y1="362.7" x2="296.5" y2="346.3" stroke="#111" stroke-width="2.0"/><path d="M293.9,349.5 L296.5,344.3 L299.1,349.5 Z" fill="#111"/>
<line x1="301.4" y1="362.7" x2="301.4" y2="344" stroke="#111" stroke-width="2.0"/><path d="M298.79999999999995,347.2 L301.4,342 L304.0,347.2 Z" fill="#111"/>
<line x1="313.5" y1="362.7" x2="313.5" y2="341.6" stroke="#111" stroke-width="2.0"/><path d="M310.9,344.8 L313.5,339.6 L316.1,344.8 Z" fill="#111"/>
<line x1="319.6" y1="362.7" x2="319.6" y2="347" stroke="#111" stroke-width="2.0"/><path d="M317.0,350.2 L319.6,345 L322.20000000000005,350.2 Z" fill="#111"/>
<line x1="326.2" y1="362.7" x2="326.2" y2="347" stroke="#111" stroke-width="2.0"/><path d="M323.59999999999997,350.2 L326.2,345 L328.8,350.2 Z" fill="#111"/>
<line x1="335.8" y1="362.7" x2="335.8" y2="346.3" stroke="#111" stroke-width="2.0"/><path d="M333.2,349.5 L335.8,344.3 L338.40000000000003,349.5 Z" fill="#111"/>
<line x1="339.6" y1="362.7" x2="339.6" y2="336" stroke="#111" stroke-width="2.0"/><path d="M337.0,339.2 L339.6,334 L342.20000000000005,339.2 Z" fill="#111"/>
<line x1="344" y1="362.7" x2="344" y2="345" stroke="#111" stroke-width="2.0"/><path d="M341.4,348.2 L344,343 L346.6,348.2 Z" fill="#111"/>
<line x1="349.8" y1="362.7" x2="349.8" y2="343.3" stroke="#111" stroke-width="2.0"/><path d="M347.2,346.5 L349.8,341.3 L352.40000000000003,346.5 Z" fill="#111"/>
<line x1="356.4" y1="362.7" x2="356.4" y2="344" stroke="#111" stroke-width="2.8"/><path d="M353.79999999999995,347.2 L356.4,342 L359.0,347.2 Z" fill="#111"/>
<line x1="361.4" y1="362.7" x2="361.4" y2="345" stroke="#111" stroke-width="2.4"/><path d="M358.79999999999995,348.2 L361.4,343 L364.0,348.2 Z" fill="#111"/>
<line x1="363.9" y1="362.7" x2="363.9" y2="346.5" stroke="#111" stroke-width="2.0"/><path d="M361.29999999999995,349.7 L363.9,344.5 L366.5,349.7 Z" fill="#111"/>
<line x1="390.2" y1="362.7" x2="390.2" y2="344.6" stroke="#111" stroke-width="2.0"/><path d="M387.59999999999997,347.8 L390.2,342.6 L392.8,347.8 Z" fill="#111"/>
<line x1="397.3" y1="362.7" x2="397.3" y2="344" stroke="#111" stroke-width="2.0"/><path d="M394.7,347.2 L397.3,342 L399.90000000000003,347.2 Z" fill="#111"/>
<line x1="406.7" y1="362.7" x2="406.7" y2="344.6" stroke="#111" stroke-width="2.0"/><path d="M404.09999999999997,347.8 L406.7,342.6 L409.3,347.8 Z" fill="#111"/>
<line x1="420.7" y1="362.7" x2="420.7" y2="342.5" stroke="#111" stroke-width="2.6"/><path d="M418.09999999999997,345.7 L420.7,340.5 L423.3,345.7 Z" fill="#111"/>
<line x1="434.1" y1="362.7" x2="434.1" y2="345.8" stroke="#111" stroke-width="2.0"/><path d="M431.5,349.0 L434.1,343.8 L436.70000000000005,349.0 Z" fill="#111"/>
<line x1="447.1" y1="362.7" x2="447.1" y2="345" stroke="#111" stroke-width="2.8"/><path d="M444.5,348.2 L447.1,343 L449.70000000000005,348.2 Z" fill="#111"/>
<line x1="450.4" y1="362.7" x2="450.4" y2="344" stroke="#111" stroke-width="2.4"/><path d="M447.79999999999995,347.2 L450.4,342 L453.0,347.2 Z" fill="#111"/>
<line x1="452.9" y1="362.7" x2="452.9" y2="345" stroke="#111" stroke-width="2.2"/><path d="M450.29999999999995,348.2 L452.9,343 L455.5,348.2 Z" fill="#111"/>
<line x1="455" y1="362.7" x2="455" y2="346" stroke="#111" stroke-width="2.0"/><path d="M452.4,349.2 L455,344 L457.6,349.2 Z" fill="#111"/>
<line x1="461.3" y1="362.7" x2="461.3" y2="347.4" stroke="#111" stroke-width="2.0"/><path d="M458.7,350.59999999999997 L461.3,345.4 L463.90000000000003,350.59999999999997 Z" fill="#111"/>
<line x1="467.5" y1="362.7" x2="467.5" y2="344.6" stroke="#111" stroke-width="2.0"/><path d="M464.9,347.8 L467.5,342.6 L470.1,347.8 Z" fill="#111"/>
<line x1="478.2" y1="362.7" x2="478.2" y2="345.8" stroke="#111" stroke-width="2.8"/><path d="M475.59999999999997,349.0 L478.2,343.8 L480.8,349.0 Z" fill="#111"/>
<line x1="480.7" y1="362.7" x2="480.7" y2="346" stroke="#111" stroke-width="2.4"/><path d="M478.09999999999997,349.2 L480.7,344 L483.3,349.2 Z" fill="#111"/>
<line x1="484.8" y1="362.7" x2="484.8" y2="346" stroke="#111" stroke-width="2.0"/><path d="M482.2,349.2 L484.8,344 L487.40000000000003,349.2 Z" fill="#111"/>
<line x1="487.6" y1="362.7" x2="487.6" y2="345.3" stroke="#111" stroke-width="2.0"/><path d="M485.0,348.5 L487.6,343.3 L490.20000000000005,348.5 Z" fill="#111"/>
<line x1="491.3" y1="362.7" x2="491.3" y2="346" stroke="#111" stroke-width="1.7999999999999998"/><path d="M488.7,349.2 L491.3,344 L493.90000000000003,349.2 Z" fill="#111"/>
<path d="M136.4,331.2 L139,326 L141.6,331.2 Z" fill="#111"/>
<rect x="69.3" y="355" width="3.6" height="7" fill="#000"/>
<rect x="129.9" y="355" width="3.6" height="7" fill="#000"/>
<rect x="190.5" y="355" width="3.6" height="7" fill="#000"/>
<rect x="251.1" y="355" width="3.6" height="7" fill="#000"/>
<rect x="311.7" y="355" width="3.6" height="7" fill="#000"/>
<rect x="372.3" y="355" width="3.6" height="7" fill="#000"/>
<rect x="432.9" y="355" width="3.6" height="7" fill="#000"/>
<rect x="39.2" y="358.2" width="3.2" height="4" fill="#000"/>
<rect x="99.8" y="358.2" width="3.2" height="4" fill="#000"/>
<rect x="160.4" y="358.2" width="3.2" height="4" fill="#000"/>
<rect x="221.0" y="358.2" width="3.2" height="4" fill="#000"/>
<rect x="281.6" y="358.2" width="3.2" height="4" fill="#000"/>
<rect x="342.2" y="358.2" width="3.2" height="4" fill="#000"/>
<rect x="402.8" y="358.2" width="3.2" height="4" fill="#000"/>
<rect x="463.4" y="358.2" width="3.2" height="4" fill="#000"/>
<rect x="10.9" y="9.8" width="484.3" height="352.9" fill="none" stroke="#000" stroke-width="3.6"/>
<text transform="translate(11.2,386.5) scale(1.05,1)" font-size="19.2" text-anchor="middle" fill="#000" stroke="#000" stroke-width="0.2" font-family="&quot;Liberation Serif&quot;, &quot;Times New Roman&quot;, serif" font-weight="bold" >10</text>
<text transform="translate(71.8,386.5) scale(1.05,1)" font-size="19.2" text-anchor="middle" fill="#000" stroke="#000" stroke-width="0.2" font-family="&quot;Liberation Serif&quot;, &quot;Times New Roman&quot;, serif" font-weight="bold" >20</text>
<text transform="translate(132.4,386.5) scale(1.05,1)" font-size="19.2" text-anchor="middle" fill="#000" stroke="#000" stroke-width="0.2" font-family="&quot;Liberation Serif&quot;, &quot;Times New Roman&quot;, serif" font-weight="bold" >30</text>
<text transform="translate(193.0,386.5) scale(1.05,1)" font-size="19.2" text-anchor="middle" fill="#000" stroke="#000" stroke-width="0.2" font-family="&quot;Liberation Serif&quot;, &quot;Times New Roman&quot;, serif" font-weight="bold" >40</text>
<text transform="translate(253.6,386.5) scale(1.05,1)" font-size="19.2" text-anchor="middle" fill="#000" stroke="#000" stroke-width="0.2" font-family="&quot;Liberation Serif&quot;, &quot;Times New Roman&quot;, serif" font-weight="bold" >50</text>
<text transform="translate(314.2,386.5) scale(1.05,1)" font-size="19.2" text-anchor="middle" fill="#000" stroke="#000" stroke-width="0.2" font-family="&quot;Liberation Serif&quot;, &quot;Times New Roman&quot;, serif" font-weight="bold" >60</text>
<text transform="translate(374.8,386.5) scale(1.05,1)" font-size="19.2" text-anchor="middle" fill="#000" stroke="#000" stroke-width="0.2" font-family="&quot;Liberation Serif&quot;, &quot;Times New Roman&quot;, serif" font-weight="bold" >70</text>
<text transform="translate(435.4,386.5) scale(1.05,1)" font-size="19.2" text-anchor="middle" fill="#000" stroke="#000" stroke-width="0.2" font-family="&quot;Liberation Serif&quot;, &quot;Times New Roman&quot;, serif" font-weight="bold" >80</text>
<text transform="translate(496.0,386.5) scale(1.05,1)" font-size="19.2" text-anchor="middle" fill="#000" stroke="#000" stroke-width="0.2" font-family="&quot;Liberation Serif&quot;, &quot;Times New Roman&quot;, serif" font-weight="bold" >90</text>
<text transform="translate(189.3,416.2) scale(1.1,1)" font-size="24.6" text-anchor="start" fill="#000" stroke="#000" stroke-width="0.2" font-family="&quot;Liberation Serif&quot;, &quot;Times New Roman&quot;, serif" font-weight="bold" >2</text><text transform="translate(205.9,416.2) scale(1.1,1)" font-size="24.6" text-anchor="start" fill="#000" stroke="#000" stroke-width="0.2" font-family="&quot;Liberation Serif&quot;, &quot;Times New Roman&quot;, serif" font-weight="bold" font-style="italic">θ</text><text transform="translate(222.9,416.2) scale(1.1,1)" font-size="24.6" text-anchor="start" fill="#000" stroke="#000" stroke-width="0.2" font-family="&quot;Liberation Serif&quot;, &quot;Times New Roman&quot;, serif" font-weight="bold" >(degree)</text>
<text transform="translate(12.8,36) scale(1.05,1)" font-size="25" text-anchor="start" fill="#000" stroke="#000" stroke-width="0.2" font-family="&quot;Liberation Serif&quot;, &quot;Times New Roman&quot;, serif" font-weight="bold" >(a)</text>
<text transform="translate(489.2,116.3) scale(1.05,1)" font-size="20" text-anchor="end" fill="#000" stroke="#000" stroke-width="0.2" font-family="&quot;Liberation Serif&quot;, &quot;Times New Roman&quot;, serif" font-weight="bold" >Se/Fe=4.0</text>
<text transform="translate(489.2,156.8) scale(1.05,1)" font-size="20" text-anchor="end" fill="#000" stroke="#000" stroke-width="0.2" font-family="&quot;Liberation Serif&quot;, &quot;Times New Roman&quot;, serif" font-weight="bold" >Se/Fe=3.5</text>
<text transform="translate(489.2,202) scale(1.05,1)" font-size="20" text-anchor="end" fill="#000" stroke="#000" stroke-width="0.2" font-family="&quot;Liberation Serif&quot;, &quot;Times New Roman&quot;, serif" font-weight="bold" >Se/Fe=3.0</text>
<text transform="translate(489.2,246.3) scale(1.05,1)" font-size="20" text-anchor="end" fill="#000" stroke="#000" stroke-width="0.2" font-family="&quot;Liberation Serif&quot;, &quot;Times New Roman&quot;, serif" font-weight="bold" >Se/Fe=2.5</text>
<text transform="translate(489.2,293) scale(1.05,1)" font-size="20" text-anchor="end" fill="#000" stroke="#000" stroke-width="0.2" font-family="&quot;Liberation Serif&quot;, &quot;Times New Roman&quot;, serif" font-weight="bold" >Se/Fe=2.0</text>
<text transform="translate(337.3,326.0) scale(1.085,1)" font-size="19.2" text-anchor="start" fill="#000" stroke="#000" stroke-width="0.2" font-family="&quot;Liberation Serif&quot;, &quot;Times New Roman&quot;, serif" font-weight="bold" >FeSe<tspan font-size="10.5" dy="7.5" dx="-1">2</tspan><tspan dy="-7.5" dx="-1.2"> Orthogonal</tspan></text>
<text transform="translate(103.3,96.0) rotate(-90) scale(1.18,1)" font-size="14.1" fill="#111" stroke="#111" stroke-width="0.25" font-family="&quot;Liberation Serif&quot;, &quot;Times New Roman&quot;, serif" font-weight="bold">(110)</text>
<text transform="translate(131.3,104.2) rotate(-90) scale(1.18,1)" font-size="14.1" fill="#111" stroke="#111" stroke-width="0.25" font-family="&quot;Liberation Serif&quot;, &quot;Times New Roman&quot;, serif" font-weight="bold">(011)</text>
<text transform="translate(133.8,48.5) rotate(-90) scale(1.18,1)" font-size="14.1" fill="#111" stroke="#111" stroke-width="0.25" font-family="&quot;Liberation Serif&quot;, &quot;Times New Roman&quot;, serif" font-weight="bold">(101)</text>
<text transform="translate(151.3,50.5) rotate(-90) scale(1.18,1)" font-size="14.1" fill="#111" stroke="#111" stroke-width="0.25" font-family="&quot;Liberation Serif&quot;, &quot;Times New Roman&quot;, serif" font-weight="bold">(020)</text>
<text transform="translate(163.8,81.7) rotate(-90) scale(1.18,1)" font-size="14.1" fill="#111" stroke="#111" stroke-width="0.25" font-family="&quot;Liberation Serif&quot;, &quot;Times New Roman&quot;, serif" font-weight="bold">(111)</text>
<text transform="translate(176.60000000000002,88.8) rotate(-90) scale(1.18,1)" font-size="14.1" fill="#111" stroke="#111" stroke-width="0.25" font-family="&quot;Liberation Serif&quot;, &quot;Times New Roman&quot;, serif" font-weight="bold">(120)</text>
<text transform="translate(246.8,102.9) rotate(-90) scale(1.18,1)" font-size="14.1" fill="#111" stroke="#111" stroke-width="0.25" font-family="&quot;Liberation Serif&quot;, &quot;Times New Roman&quot;, serif" font-weight="bold">(211)</text>
<text transform="translate(257.40000000000003,60.5) rotate(-90) scale(1.18,1)" font-size="14.1" fill="#111" stroke="#111" stroke-width="0.25" font-family="&quot;Liberation Serif&quot;, &quot;Times New Roman&quot;, serif" font-weight="bold">(002)</text>
<text transform="translate(273.40000000000003,60.5) rotate(-90) scale(1.18,1)" font-size="14.1" fill="#111" stroke="#111" stroke-width="0.25" font-family="&quot;Liberation Serif&quot;, &quot;Times New Roman&quot;, serif" font-weight="bold">(130)</text>
<text transform="translate(283.6,112.7) rotate(-90) scale(1.18,1)" font-size="14.1" fill="#111" stroke="#111" stroke-width="0.25" font-family="&quot;Liberation Serif&quot;, &quot;Times New Roman&quot;, serif" font-weight="bold">(031)</text>
<line x1="139.3" y1="90" x2="139.3" y2="54" stroke="#111" stroke-width="1.8"/><path d="M136.60000000000002,58.5 L139.3,50 L142.0,58.5 Z" fill="#111"/>
<line x1="259.8" y1="112.5" x2="259.8" y2="67" stroke="#111" stroke-width="1.8"/><path d="M257.1,71.5 L259.8,63 L262.5,71.5 Z" fill="#111"/>
<path d="M534.0,79.56 L534.5,79.69 L535.0,79.64 L535.5,79.63 L536.0,79.58 L536.5,79.68 L537.0,79.84 L537.5,79.96 L538.0,80.15 L538.5,80.23 L539.0,80.15 L539.5,80.04 L540.0,79.95 L540.5,80.13 L541.0,80.16 L541.5,80.16 L542.0,79.98 L542.5,80.12 L543.0,80.16 L543.5,80.04 L544.0,80.08 L544.5,80.24 L545.0,80.62 L545.5,80.69 L546.0,80.75 L546.5,80.76 L547.0,80.71 L547.5,80.62 L548.0,80.41 L548.5,80.26 L549.0,80.41 L549.5,80.75 L550.0,80.99 L550.5,80.92 L551.0,80.95 L551.5,80.99 L552.0,81.11 L552.5,81.05 L553.0,80.98 L553.5,80.92 L554.0,81.04 L554.5,81.37 L555.0,81.69 L555.5,81.68 L556.0,81.60 L556.5,81.46 L557.0,81.54 L557.5,81.58 L558.0,81.72 L558.5,81.64 L559.0,81.82 L559.5,81.76 L560.0,81.82 L560.5,81.92 L561.0,81.89 L561.5,82.03 L562.0,81.76 L562.5,82.02 L563.0,81.80 L563.5,81.95 L564.0,81.71 L564.5,82.18 L565.0,82.40 L565.5,82.69 L566.0,82.50 L566.5,82.45 L567.0,82.62 L567.5,82.77 L568.0,82.66 L568.5,82.63 L569.0,82.51 L569.5,82.57 L570.0,82.46 L570.5,82.64 L571.0,82.82 L571.5,82.86 L572.0,82.78 L572.5,82.57 L573.0,82.61 L573.5,82.81 L574.0,83.08 L574.5,83.20 L575.0,83.06 L575.5,83.06 L576.0,82.97 L576.5,83.28 L577.0,83.23 L577.5,83.31 L578.0,83.16 L578.5,83.33 L579.0,83.38 L579.5,83.75 L580.0,83.81 L580.5,83.74 L581.0,83.50 L581.5,83.53 L582.0,83.76 L582.5,83.86 L583.0,83.82 L583.5,83.62 L584.0,83.45 L584.5,83.54 L585.0,83.66 L585.5,83.85 L586.0,83.87 L586.5,83.77 L587.0,83.62 L587.5,83.64 L588.0,83.80 L588.5,83.99 L589.0,84.08 L589.5,84.14 L590.0,84.20 L590.5,84.15 L591.0,84.03 L591.5,84.24 L592.0,84.28 L592.5,84.43 L593.0,84.40 L593.5,84.29 L594.0,84.30 L594.5,84.09 L595.0,84.19 L595.5,84.21 L596.0,84.38 L596.5,84.36 L597.0,84.49 L597.5,84.53 L598.0,84.66 L598.5,84.69 L599.0,84.68 L599.5,84.58 L600.0,84.36 L600.5,84.40 L601.0,84.36 L601.5,84.61 L602.0,84.59 L602.5,84.74 L603.0,84.72 L603.5,84.80 L604.0,84.72 L604.5,84.76 L605.0,84.82 L605.5,85.00 L606.0,85.08 L606.5,84.95 L607.0,84.86 L607.5,84.94 L608.0,85.01 L608.5,85.03 L609.0,84.93 L609.5,84.77 L610.0,84.70 L610.5,84.61 L611.0,84.64 L611.5,84.73 L612.0,84.63 L612.5,84.58 L613.0,84.15 L613.5,83.79 L614.0,83.24 L614.5,82.68 L615.0,81.75 L615.5,80.52 L616.0,79.31 L616.5,78.92 L617.0,79.49 L617.5,80.60 L618.0,81.77 L618.5,82.91 L619.0,83.70 L619.5,84.16 L620.0,84.13 L620.5,84.39 L621.0,84.43 L621.5,84.97 L622.0,85.04 L622.5,85.31 L623.0,85.13 L623.5,85.12 L624.0,84.93 L624.5,84.86 L625.0,84.86 L625.5,85.05 L626.0,85.04 L626.5,85.12 L627.0,85.14 L627.5,85.33 L628.0,85.39 L628.5,85.32 L629.0,85.36 L629.5,85.13 L630.0,85.25 L630.5,85.24 L631.0,85.38 L631.5,85.21 L632.0,85.16 L632.5,85.29 L633.0,85.20 L633.5,85.09 L634.0,84.90 L634.5,85.10 L635.0,85.13 L635.5,85.27 L636.0,85.06 L636.5,85.14 L637.0,85.07 L637.5,85.10 L638.0,85.21 L638.5,85.25 L639.0,85.21 L639.5,85.31 L640.0,85.18 L640.5,85.13 L641.0,84.68 L641.5,84.89 L642.0,84.97 L642.5,85.10 L643.0,84.96 L643.5,84.84 L644.0,84.74 L644.5,84.63 L645.0,84.42 L645.5,84.13 L646.0,83.57 L646.5,82.96 L647.0,82.14 L647.5,80.85 L648.0,78.91 L648.5,75.83 L649.0,72.20 L649.5,68.67 L650.0,67.31 L650.5,69.00 L651.0,72.53 L651.5,76.02 L652.0,78.78 L652.5,80.77 L653.0,82.22 L653.5,82.91 L654.0,83.59 L654.5,84.12 L655.0,84.73 L655.5,84.83 L656.0,84.73 L656.5,84.77 L657.0,85.07 L657.5,85.29 L658.0,85.18 L658.5,84.80 L659.0,84.85 L659.5,85.35 L660.0,85.57 L660.5,85.53 L661.0,85.34 L661.5,85.56 L662.0,85.75 L662.5,85.62 L663.0,85.63 L663.5,85.50 L664.0,85.77 L664.5,85.82 L665.0,86.02 L665.5,85.84 L666.0,85.72 L666.5,85.56 L667.0,85.66 L667.5,85.72 L668.0,85.69 L668.5,85.70 L669.0,85.64 L669.5,85.89 L670.0,85.92 L670.5,85.98 L671.0,85.93 L671.5,85.84 L672.0,86.03 L672.5,86.00 L673.0,86.37 L673.5,86.41 L674.0,86.40 L674.5,86.34 L675.0,86.33 L675.5,86.50 L676.0,86.13 L676.5,86.11 L677.0,86.02 L677.5,86.49 L678.0,86.46 L678.5,86.57 L679.0,86.45 L679.5,86.45 L680.0,86.39 L680.5,86.49 L681.0,86.64 L681.5,86.71 L682.0,86.68 L682.5,86.74 L683.0,86.82 L683.5,86.85 L684.0,86.73 L684.5,86.70 L685.0,86.75 L685.5,87.09 L686.0,87.04 L686.5,87.22 L687.0,87.03 L687.5,87.32 L688.0,86.99 L688.5,87.05 L689.0,86.68 L689.5,86.77 L690.0,86.78 L690.5,87.09 L691.0,87.19 L691.5,87.28 L692.0,87.18 L692.5,87.44 L693.0,87.38 L693.5,87.69 L694.0,87.73 L694.5,87.72 L695.0,87.60 L695.5,87.40 L696.0,87.66 L696.5,87.66 L697.0,87.91 L697.5,87.76 L698.0,87.72 L698.5,87.47 L699.0,87.52 L699.5,87.61 L700.0,87.71 L700.5,87.74 L701.0,87.78 L701.5,87.78 L702.0,87.69 L702.5,87.52 L703.0,87.48 L703.5,87.52 L704.0,87.72 L704.5,87.87 L705.0,87.83 L705.5,87.79 L706.0,87.60 L706.5,87.75 L707.0,87.52 L707.5,87.70 L708.0,87.59 L708.5,87.76 L709.0,87.63 L709.5,87.52 L710.0,87.49 L710.5,87.47 L711.0,87.61 L711.5,87.62 L712.0,87.70 L712.5,87.62 L713.0,87.38 L713.5,87.25 L714.0,86.98 L714.5,86.91 L715.0,86.70 L715.5,86.57 L716.0,86.39 L716.5,86.22 L717.0,85.91 L717.5,85.42 L718.0,84.60 L718.5,84.11 L719.0,82.96 L719.5,81.30 L720.0,78.34 L720.5,74.62 L721.0,69.28 L721.5,62.97 L722.0,57.79 L722.5,57.21 L723.0,61.55 L723.5,67.62 L724.0,73.24 L724.5,77.51 L725.0,80.73 L725.5,82.62 L726.0,83.93 L726.5,84.80 L727.0,85.32 L727.5,85.90 L728.0,86.05 L728.5,86.39 L729.0,86.57 L729.5,86.84 L730.0,86.99 L730.5,87.10 L731.0,87.34 L731.5,87.62 L732.0,87.67 L732.5,87.52 L733.0,87.48 L733.5,87.55 L734.0,87.61 L734.5,87.69 L735.0,87.76 L735.5,87.64 L736.0,87.62 L736.5,87.57 L737.0,87.68 L737.5,87.59 L738.0,87.67 L738.5,87.65 L739.0,87.67 L739.5,87.42 L740.0,87.33 L740.5,87.23 L741.0,87.18 L741.5,86.94 L742.0,86.66 L742.5,86.42 L743.0,86.29 L743.5,86.08 L744.0,85.79 L744.5,85.25 L745.0,84.56 L745.5,83.30 L746.0,81.26 L746.5,78.55 L747.0,74.83 L747.5,70.08 L748.0,64.74 L748.5,61.39 L749.0,62.83 L749.5,67.53 L750.0,72.79 L750.5,77.13 L751.0,80.46 L751.5,82.75 L752.0,84.15 L752.5,84.98 L753.0,85.84 L753.5,86.39 L754.0,86.79 L754.5,86.89 L755.0,87.10 L755.5,87.42 L756.0,87.55 L756.5,87.58 L757.0,87.60 L757.5,87.73 L758.0,87.75 L758.5,87.77 L759.0,87.81 L759.5,87.96 L760.0,88.02 L760.5,88.11 L761.0,88.35 L761.5,88.41 L762.0,88.49 L762.5,88.29 L763.0,88.22 L763.5,88.06 L764.0,88.02 L764.5,88.06 L765.0,88.27 L765.5,88.31 L766.0,88.11 L766.5,87.74 L767.0,87.48 L767.5,87.07 L768.0,86.59 L768.5,86.13 L769.0,85.92 L769.5,85.77 L770.0,85.67 L770.5,85.98 L771.0,86.51 L771.5,87.12 L772.0,87.43 L772.5,87.49 L773.0,87.80 L773.5,88.12 L774.0,88.69 L774.5,88.92 L775.0,88.98 L775.5,89.00 L776.0,89.11 L776.5,89.36 L777.0,89.51 L777.5,89.66 L778.0,89.49 L778.5,89.54 L779.0,89.55 L779.5,89.71 L780.0,89.77 L780.5,89.74 L781.0,89.77 L781.5,89.68 L782.0,89.83 L782.5,90.06 L783.0,90.35 L783.5,90.42 L784.0,90.46 L784.5,90.29 L785.0,90.24 L785.5,90.21 L786.0,90.56 L786.5,90.54 L787.0,90.48 L787.5,90.22 L788.0,90.45 L788.5,90.55 L789.0,90.76 L789.5,90.65 L790.0,90.85 L790.5,90.66 L791.0,90.70 L791.5,90.69 L792.0,90.85 L792.5,90.84 L793.0,90.95 L793.5,90.86 L794.0,90.89 L794.5,90.89 L795.0,91.22 L795.5,91.33 L796.0,91.11 L796.5,90.84 L797.0,90.77 L797.5,90.90 L798.0,91.18 L798.5,91.37 L799.0,91.48 L799.5,91.31 L800.0,91.31 L800.5,91.30 L801.0,91.44 L801.5,91.37 L802.0,91.26 L802.5,91.29 L803.0,91.46 L803.5,91.48 L804.0,91.42 L804.5,91.38 L805.0,91.56 L805.5,91.70 L806.0,91.61 L806.5,91.59 L807.0,91.30 L807.5,91.09 L808.0,90.93 L808.5,91.09 L809.0,91.16 L809.5,91.19 L810.0,91.18 L810.5,91.33 L811.0,91.38 L811.5,91.48 L812.0,91.46 L812.5,91.39 L813.0,91.34 L813.5,91.48 L814.0,91.49 L814.5,91.57 L815.0,91.54 L815.5,91.55 L816.0,91.42 L816.5,91.27 L817.0,91.38 L817.5,91.40 L818.0,91.67 L818.5,91.35 L819.0,91.23 L819.5,90.98 L820.0,91.29 L820.5,91.38 L821.0,91.36 L821.5,91.35 L822.0,91.34 L822.5,91.43 L823.0,91.48 L823.5,91.61 L824.0,91.43 L824.5,91.26 L825.0,91.20 L825.5,91.32 L826.0,91.30 L826.5,91.29 L827.0,91.28 L827.5,91.36 L828.0,91.33 L828.5,91.20 L829.0,91.15 L829.5,90.94 L830.0,90.83 L830.5,90.63 L831.0,90.25 L831.5,89.90 L832.0,89.63 L832.5,89.94 L833.0,90.28 L833.5,90.55 L834.0,90.57 L834.5,90.57 L835.0,90.80 L835.5,91.02 L836.0,91.31 L836.5,91.44 L837.0,91.52 L837.5,91.66 L838.0,91.56 L838.5,91.70 L839.0,91.64 L839.5,91.64 L840.0,91.53 L840.5,91.71 L841.0,91.65 L841.5,91.59 L842.0,91.34 L842.5,91.49 L843.0,91.56 L843.5,91.79 L844.0,91.76 L844.5,91.83 L845.0,91.60 L845.5,91.52 L846.0,91.44 L846.5,91.47 L847.0,91.65 L847.5,91.80 L848.0,91.78 L848.5,91.83 L849.0,91.60 L849.5,91.82 L850.0,91.58 L850.5,91.63 L851.0,91.49 L851.5,91.60 L852.0,91.54 L852.5,91.59 L853.0,91.53 L853.5,91.73 L854.0,91.53 L854.5,91.73 L855.0,91.72 L855.5,91.91 L856.0,91.91 L856.5,91.82 L857.0,91.76 L857.5,91.78 L858.0,91.70 L858.5,91.68 L859.0,91.55 L859.5,91.63 L860.0,91.63 L860.5,91.41 L861.0,91.44 L861.5,91.49 L862.0,91.85 L862.5,91.93 L863.0,91.85 L863.5,91.70 L864.0,91.54 L864.5,91.56 L865.0,91.53 L865.5,91.73 L866.0,91.80 L866.5,91.92 L867.0,91.78 L867.5,91.73 L868.0,91.72 L868.5,91.68 L869.0,91.75 L869.5,91.79 L870.0,91.81 L870.5,91.76 L871.0,91.60 L871.5,91.81 L872.0,91.86 L872.5,92.05 L873.0,91.87 L873.5,91.75 L874.0,91.63 L874.5,91.79 L875.0,92.04 L875.5,92.12 L876.0,91.99 L876.5,91.87 L877.0,91.90 L877.5,91.81 L878.0,91.85 L878.5,91.67 L879.0,91.80 L879.5,91.79 L880.0,91.89 L880.5,91.88 L881.0,91.94 L881.5,91.87 L882.0,91.83 L882.5,91.61 L883.0,91.67 L883.5,91.78 L884.0,91.86 L884.5,91.66 L885.0,91.63 L885.5,91.70 L886.0,91.80 L886.5,91.74 L887.0,91.68 L887.5,91.69 L888.0,91.74 L888.5,91.74 L889.0,91.70 L889.5,91.41 L890.0,91.31 L890.5,91.56 L891.0,91.94 L891.5,92.00 L892.0,91.75 L892.5,91.78 L893.0,91.87 L893.5,92.09 L894.0,92.13 L894.5,92.10 L895.0,91.98 L895.5,91.72 L896.0,91.69 L896.5,91.58 L897.0,91.74 L897.5,91.70 L898.0,91.94 L898.5,91.78 L899.0,91.83 L899.5,91.58 L900.0,91.67 L900.5,91.51 L901.0,91.66 L901.5,91.57 L902.0,91.39 L902.5,91.03 L903.0,90.86 L903.5,90.85 L904.0,90.94 L904.5,90.54 L905.0,90.19 L905.5,89.65 L906.0,89.48 L906.5,89.57 L907.0,89.67 L907.5,89.77 L908.0,90.10 L908.5,90.49 L909.0,90.80 L909.5,90.82 L910.0,90.93 L910.5,91.24 L911.0,91.49 L911.5,91.58 L912.0,91.58 L912.5,91.46 L913.0,91.50 L913.5,91.59 L914.0,91.76 L914.5,91.59 L915.0,91.52 L915.5,91.53 L916.0,91.92 L916.5,92.11 L917.0,91.85 L917.5,91.51 L918.0,91.49 L918.5,91.72 L919.0,91.93 L919.5,92.07 L920.0,91.97 L920.5,92.09 L921.0,91.91 L921.5,91.97 L922.0,91.65 L922.5,91.53 L923.0,91.74 L923.5,91.96 L924.0,92.16 L924.5,92.07 L925.0,92.05 L925.5,92.06 L926.0,92.04 L926.5,92.04 L927.0,91.93 L927.5,91.83 L928.0,91.88 L928.5,91.90 L929.0,92.08 L929.5,92.03 L930.0,91.96 L930.5,91.67 L931.0,91.78 L931.5,92.12 L932.0,92.30 L932.5,92.01 L933.0,91.86 L933.5,91.81 L934.0,92.10 L934.5,92.04 L935.0,92.18 L935.5,92.13 L936.0,92.07 L936.5,92.11 L937.0,92.07 L937.5,92.22 L938.0,92.06 L938.5,92.11 L939.0,91.92 L939.5,92.08 L940.0,92.00 L940.5,92.00 L941.0,92.00 L941.5,92.10 L942.0,92.18 L942.5,91.99 L943.0,91.96 L943.5,92.01 L944.0,92.18 L944.5,92.12 L945.0,92.13 L945.5,91.88 L946.0,91.96 L946.5,91.83 L947.0,92.09 L947.5,92.04 L948.0,92.36 L948.5,92.31 L949.0,92.38 L949.5,91.94 L950.0,91.80 L950.5,91.87 L951.0,92.03 L951.5,92.27 L952.0,92.11 L952.5,92.24 L953.0,92.05 L953.5,92.17 L954.0,92.17 L954.5,92.34 L955.0,92.23 L955.5,92.04 L956.0,92.01 L956.5,92.11 L957.0,92.30 L957.5,92.13 L958.0,92.18 L958.5,92.10 L959.0,92.12 L959.5,92.00 L960.0,92.11 L960.5,92.23 L961.0,92.29 L961.5,92.20 L962.0,92.15 L962.5,92.25 L963.0,92.25 L963.5,92.14 L964.0,91.88 L964.5,91.81 L965.0,91.91 L965.5,92.12 L966.0,91.91 L966.5,92.00 L967.0,92.03 L967.5,92.22 L968.0,92.24 L968.5,92.03 L969.0,92.02 L969.5,91.80 L970.0,91.97 L970.5,92.02 L971.0,92.08 L971.5,91.68 L972.0,91.42 L972.5,90.98 L973.0,90.81 L973.5,90.43 L974.0,90.06 L974.5,89.10 L975.0,87.67 L975.5,85.49 L976.0,82.62 L976.5,79.49 L977.0,76.90 L977.5,76.88 L978.0,79.14 L978.5,82.28 L979.0,85.03 L979.5,87.24 L980.0,89.00 L980.5,90.18 L981.0,90.82 L981.5,91.32 L982.0,91.51 L982.5,91.75 L983.0,91.76 L983.5,92.13 L984.0,92.33 L984.5,92.64 L985.0,92.61 L985.5,92.41 L986.0,92.34 L986.5,92.45 L987.0,92.77 L987.5,93.00 L988.0,93.15 L988.5,93.13 L989.0,93.16 L989.5,92.92 L990.0,93.08 L990.5,92.83 L991.0,93.08 L991.5,92.82 L992.0,93.11 L992.5,93.25 L993.0,93.48 L993.5,93.52 L994.0,93.49 L994.5,93.25 L995.0,92.99 L995.5,92.88 L996.0,93.03 L996.5,93.15 L997.0,93.38 L997.5,93.61 L998.0,93.63 L998.5,93.18 L999.0,92.94 L999.5,92.82 L1000.0,92.86 L1000.5,93.04 L1001.0,92.95 L1001.5,93.29 L1002.0,93.24 L1002.5,93.71 L1003.0,93.65 L1003.5,93.74 L1004.0,93.62 L1004.5,93.72 L1005.0,93.87 L1005.5,94.30 L1006.0,94.47 L1006.5,94.47 L1007.0,94.07 L1007.5,93.95" fill="none" stroke="#168416" stroke-width="1.9" stroke-linejoin="round"/>
<path d="M534.0,122.70 L534.5,122.69 L535.0,122.56 L535.5,122.54 L536.0,122.78 L536.5,122.96 L537.0,122.93 L537.5,122.92 L538.0,123.03 L538.5,122.98 L539.0,122.86 L539.5,122.84 L540.0,122.94 L540.5,123.13 L541.0,123.07 L541.5,123.15 L542.0,123.05 L542.5,122.97 L543.0,123.04 L543.5,123.11 L544.0,123.23 L544.5,123.00 L545.0,123.12 L545.5,123.46 L546.0,123.69 L546.5,123.60 L547.0,123.54 L547.5,123.50 L548.0,123.51 L548.5,123.57 L549.0,123.55 L549.5,123.76 L550.0,123.73 L550.5,124.02 L551.0,123.75 L551.5,123.89 L552.0,123.78 L552.5,124.07 L553.0,123.89 L553.5,123.83 L554.0,123.92 L554.5,124.09 L555.0,124.29 L555.5,124.28 L556.0,124.33 L556.5,124.15 L557.0,124.08 L557.5,124.02 L558.0,124.43 L558.5,124.63 L559.0,124.61 L559.5,124.29 L560.0,124.27 L560.5,124.45 L561.0,124.78 L561.5,124.63 L562.0,124.78 L562.5,124.69 L563.0,124.98 L563.5,124.88 L564.0,124.85 L564.5,124.67 L565.0,124.82 L565.5,124.57 L566.0,124.80 L566.5,124.77 L567.0,125.06 L567.5,125.06 L568.0,125.02 L568.5,124.99 L569.0,124.92 L569.5,125.03 L570.0,125.20 L570.5,125.18 L571.0,125.23 L571.5,125.34 L572.0,125.58 L572.5,125.56 L573.0,125.68 L573.5,125.51 L574.0,125.48 L574.5,125.21 L575.0,125.31 L575.5,125.40 L576.0,125.57 L576.5,125.48 L577.0,125.62 L577.5,125.48 L578.0,125.55 L578.5,125.17 L579.0,125.49 L579.5,125.70 L580.0,126.02 L580.5,125.98 L581.0,125.80 L581.5,125.74 L582.0,125.64 L582.5,125.83 L583.0,125.94 L583.5,126.09 L584.0,125.98 L584.5,125.91 L585.0,125.97 L585.5,126.14 L586.0,126.35 L586.5,126.28 L587.0,126.31 L587.5,126.13 L588.0,126.12 L588.5,126.15 L589.0,126.25 L589.5,126.26 L590.0,126.16 L590.5,126.46 L591.0,126.57 L591.5,126.73 L592.0,126.57 L592.5,126.90 L593.0,126.88 L593.5,127.04 L594.0,126.91 L594.5,127.00 L595.0,126.92 L595.5,126.69 L596.0,126.73 L596.5,126.98 L597.0,127.22 L597.5,127.40 L598.0,127.28 L598.5,127.34 L599.0,127.11 L599.5,127.04 L600.0,127.02 L600.5,127.21 L601.0,127.14 L601.5,126.96 L602.0,126.86 L602.5,126.97 L603.0,127.18 L603.5,127.39 L604.0,127.36 L604.5,127.52 L605.0,127.42 L605.5,127.49 L606.0,127.13 L606.5,127.24 L607.0,127.42 L607.5,127.65 L608.0,127.54 L608.5,127.31 L609.0,127.05 L609.5,126.90 L610.0,126.76 L610.5,126.78 L611.0,126.72 L611.5,126.73 L612.0,126.81 L612.5,126.88 L613.0,126.71 L613.5,126.47 L614.0,125.93 L614.5,125.47 L615.0,124.91 L615.5,124.34 L616.0,123.98 L616.5,123.74 L617.0,123.90 L617.5,124.27 L618.0,125.04 L618.5,125.72 L619.0,126.23 L619.5,126.48 L620.0,126.69 L620.5,126.94 L621.0,127.07 L621.5,127.12 L622.0,127.27 L622.5,127.44 L623.0,127.72 L623.5,127.78 L624.0,127.90 L624.5,127.84 L625.0,128.01 L625.5,128.04 L626.0,128.18 L626.5,128.25 L627.0,128.10 L627.5,128.14 L628.0,127.99 L628.5,128.02 L629.0,127.98 L629.5,128.06 L630.0,128.20 L630.5,128.31 L631.0,128.22 L631.5,128.19 L632.0,128.13 L632.5,128.15 L633.0,128.17 L633.5,127.98 L634.0,127.94 L634.5,127.90 L635.0,128.09 L635.5,128.28 L636.0,128.28 L636.5,128.49 L637.0,128.29 L637.5,128.53 L638.0,128.27 L638.5,128.30 L639.0,128.03 L639.5,128.06 L640.0,128.13 L640.5,128.15 L641.0,128.24 L641.5,128.32 L642.0,128.22 L642.5,128.26 L643.0,128.14 L643.5,128.18 L644.0,128.04 L644.5,127.88 L645.0,127.86 L645.5,127.43 L646.0,127.25 L646.5,126.61 L647.0,126.12 L647.5,124.93 L648.0,123.63 L648.5,121.46 L649.0,118.88 L649.5,115.94 L650.0,114.55 L650.5,115.73 L651.0,118.69 L651.5,121.59 L652.0,123.59 L652.5,125.16 L653.0,126.15 L653.5,127.08 L654.0,127.32 L654.5,127.64 L655.0,127.85 L655.5,127.87 L656.0,128.00 L656.5,128.06 L657.0,128.39 L657.5,128.41 L658.0,128.64 L658.5,128.73 L659.0,128.94 L659.5,128.69 L660.0,128.75 L660.5,128.88 L661.0,129.19 L661.5,129.30 L662.0,129.26 L662.5,129.19 L663.0,129.18 L663.5,129.28 L664.0,129.31 L664.5,129.30 L665.0,129.30 L665.5,129.33 L666.0,129.40 L666.5,129.40 L667.0,129.36 L667.5,129.51 L668.0,129.59 L668.5,129.62 L669.0,129.40 L669.5,129.31 L670.0,129.36 L670.5,129.38 L671.0,129.48 L671.5,129.53 L672.0,129.56 L672.5,129.71 L673.0,129.73 L673.5,129.88 L674.0,129.62 L674.5,129.57 L675.0,129.46 L675.5,129.71 L676.0,129.91 L676.5,130.01 L677.0,129.91 L677.5,129.90 L678.0,129.86 L678.5,129.89 L679.0,129.97 L679.5,129.99 L680.0,130.11 L680.5,130.02 L681.0,130.15 L681.5,130.10 L682.0,130.22 L682.5,130.31 L683.0,130.40 L683.5,130.18 L684.0,130.13 L684.5,130.21 L685.0,130.30 L685.5,130.15 L686.0,130.04 L686.5,130.24 L687.0,130.29 L687.5,130.37 L688.0,130.28 L688.5,130.42 L689.0,130.45 L689.5,130.49 L690.0,130.46 L690.5,130.45 L691.0,130.64 L691.5,130.78 L692.0,130.85 L692.5,130.63 L693.0,130.54 L693.5,130.36 L694.0,130.57 L694.5,130.74 L695.0,130.93 L695.5,130.93 L696.0,130.81 L696.5,130.75 L697.0,130.82 L697.5,130.84 L698.0,130.99 L698.5,131.05 L699.0,131.00 L699.5,130.82 L700.0,130.84 L700.5,131.07 L701.0,131.33 L701.5,131.34 L702.0,131.23 L702.5,131.29 L703.0,131.27 L703.5,131.41 L704.0,131.26 L704.5,131.10 L705.0,130.93 L705.5,130.76 L706.0,130.72 L706.5,130.72 L707.0,130.89 L707.5,130.90 L708.0,130.80 L708.5,130.80 L709.0,130.66 L709.5,130.79 L710.0,130.83 L710.5,130.87 L711.0,130.76 L711.5,130.67 L712.0,130.92 L712.5,130.99 L713.0,130.91 L713.5,130.75 L714.0,130.52 L714.5,130.33 L715.0,130.27 L715.5,130.39 L716.0,130.44 L716.5,130.18 L717.0,129.88 L717.5,129.30 L718.0,128.70 L718.5,127.95 L719.0,127.25 L719.5,125.93 L720.0,123.79 L720.5,120.42 L721.0,116.11 L721.5,111.08 L722.0,107.15 L722.5,106.68 L723.0,110.44 L723.5,115.36 L724.0,120.01 L724.5,123.09 L725.0,125.46 L725.5,127.04 L726.0,128.21 L726.5,129.00 L727.0,129.46 L727.5,130.15 L728.0,130.47 L728.5,130.67 L729.0,130.73 L729.5,130.89 L730.0,131.30 L730.5,131.16 L731.0,131.29 L731.5,131.22 L732.0,131.40 L732.5,131.43 L733.0,131.24 L733.5,131.29 L734.0,131.46 L734.5,131.61 L735.0,131.55 L735.5,131.62 L736.0,131.74 L736.5,131.91 L737.0,131.77 L737.5,131.60 L738.0,131.65 L738.5,131.67 L739.0,131.70 L739.5,131.54 L740.0,131.54 L740.5,131.62 L741.0,131.57 L741.5,131.42 L742.0,131.12 L742.5,130.97 L743.0,130.82 L743.5,130.75 L744.0,130.48 L744.5,130.04 L745.0,129.40 L745.5,128.59 L746.0,127.31 L746.5,125.34 L747.0,122.46 L747.5,118.78 L748.0,114.97 L748.5,112.80 L749.0,113.87 L749.5,117.34 L750.0,121.23 L750.5,124.53 L751.0,127.00 L751.5,128.42 L752.0,129.50 L752.5,130.04 L753.0,130.74 L753.5,131.12 L754.0,131.63 L754.5,131.74 L755.0,131.93 L755.5,131.66 L756.0,131.84 L756.5,131.62 L757.0,131.88 L757.5,131.84 L758.0,131.98 L758.5,132.11 L759.0,132.16 L759.5,132.24 L760.0,132.20 L760.5,132.29 L761.0,132.49 L761.5,132.55 L762.0,132.53 L762.5,132.33 L763.0,132.44 L763.5,132.56 L764.0,132.78 L764.5,132.63 L765.0,132.68 L765.5,132.61 L766.0,132.80 L766.5,132.51 L767.0,132.34 L767.5,132.03 L768.0,131.75 L768.5,131.35 L769.0,130.88 L769.5,130.76 L770.0,130.94 L770.5,131.30 L771.0,131.60 L771.5,132.14 L772.0,132.39 L772.5,132.89 L773.0,132.88 L773.5,133.20 L774.0,133.29 L774.5,133.49 L775.0,133.60 L775.5,133.80 L776.0,133.73 L776.5,133.58 L777.0,133.31 L777.5,133.23 L778.0,133.46 L778.5,133.50 L779.0,133.59 L779.5,133.61 L780.0,133.79 L780.5,134.00 L781.0,133.75 L781.5,133.69 L782.0,133.56 L782.5,133.86 L783.0,134.02 L783.5,134.25 L784.0,134.40 L784.5,134.78 L785.0,134.72 L785.5,134.71 L786.0,134.48 L786.5,134.56 L787.0,134.42 L787.5,134.44 L788.0,134.57 L788.5,134.75 L789.0,134.62 L789.5,134.34 L790.0,134.21 L790.5,134.42 L791.0,134.79 L791.5,134.81 L792.0,134.74 L792.5,134.77 L793.0,135.03 L793.5,134.93 L794.0,134.80 L794.5,134.68 L795.0,134.68 L795.5,134.89 L796.0,134.74 L796.5,134.90 L797.0,134.85 L797.5,135.08 L798.0,135.13 L798.5,134.81 L799.0,134.78 L799.5,134.75 L800.0,135.01 L800.5,134.88 L801.0,134.83 L801.5,134.73 L802.0,135.01 L802.5,134.97 L803.0,135.05 L803.5,134.90 L804.0,134.95 L804.5,135.14 L805.0,135.31 L805.5,135.37 L806.0,135.18 L806.5,135.00 L807.0,134.78 L807.5,134.83 L808.0,134.91 L808.5,135.08 L809.0,134.99 L809.5,135.08 L810.0,135.18 L810.5,135.29 L811.0,135.34 L811.5,135.29 L812.0,135.46 L812.5,135.29 L813.0,135.29 L813.5,135.05 L814.0,135.17 L814.5,135.11 L815.0,135.21 L815.5,135.14 L816.0,135.12 L816.5,135.30 L817.0,135.40 L817.5,135.45 L818.0,135.32 L818.5,135.25 L819.0,135.23 L819.5,135.34 L820.0,135.39 L820.5,135.49 L821.0,135.36 L821.5,135.35 L822.0,135.36 L822.5,135.34 L823.0,135.29 L823.5,135.22 L824.0,135.05 L824.5,135.00 L825.0,135.10 L825.5,135.40 L826.0,135.42 L826.5,135.20 L827.0,135.12 L827.5,134.99 L828.0,134.92 L828.5,134.61 L829.0,134.41 L829.5,134.58 L830.0,134.59 L830.5,134.35 L831.0,133.92 L831.5,133.62 L832.0,133.94 L832.5,134.01 L833.0,134.24 L833.5,134.38 L834.0,134.77 L834.5,134.91 L835.0,134.96 L835.5,134.80 L836.0,135.04 L836.5,135.12 L837.0,135.27 L837.5,135.13 L838.0,135.28 L838.5,135.26 L839.0,135.47 L839.5,135.46 L840.0,135.39 L840.5,135.27 L841.0,135.18 L841.5,135.20 L842.0,135.21 L842.5,135.23 L843.0,135.18 L843.5,135.16 L844.0,135.17 L844.5,135.29 L845.0,135.27 L845.5,135.10 L846.0,135.16 L846.5,135.24 L847.0,135.37 L847.5,135.51 L848.0,135.49 L848.5,135.47 L849.0,135.51 L849.5,135.58 L850.0,135.73 L850.5,135.69 L851.0,135.58 L851.5,135.38 L852.0,135.41 L852.5,135.28 L853.0,135.33 L853.5,135.32 L854.0,135.45 L854.5,135.58 L855.0,135.35 L855.5,135.65 L856.0,135.57 L856.5,135.73 L857.0,135.37 L857.5,135.45 L858.0,135.44 L858.5,135.53 L859.0,135.53 L859.5,135.44 L860.0,135.53 L860.5,135.41 L861.0,135.39 L861.5,135.23 L862.0,135.33 L862.5,135.35 L863.0,135.41 L863.5,135.53 L864.0,135.56 L864.5,135.61 L865.0,135.38 L865.5,135.47 L866.0,135.50 L866.5,135.50 L867.0,135.38 L867.5,135.43 L868.0,135.52 L868.5,135.66 L869.0,135.71 L869.5,135.92 L870.0,135.74 L870.5,135.63 L871.0,135.39 L871.5,135.44 L872.0,135.45 L872.5,135.44 L873.0,135.56 L873.5,135.43 L874.0,135.47 L874.5,135.44 L875.0,135.67 L875.5,135.66 L876.0,135.63 L876.5,135.54 L877.0,135.59 L877.5,135.55 L878.0,135.61 L878.5,135.70 L879.0,135.93 L879.5,135.82 L880.0,135.77 L880.5,135.60 L881.0,135.67 L881.5,135.55 L882.0,135.53 L882.5,135.55 L883.0,135.60 L883.5,135.55 L884.0,135.61 L884.5,135.62 L885.0,135.64 L885.5,135.52 L886.0,135.49 L886.5,135.44 L887.0,135.49 L887.5,135.49 L888.0,135.44 L888.5,135.49 L889.0,135.47 L889.5,135.45 L890.0,135.35 L890.5,135.31 L891.0,135.47 L891.5,135.36 L892.0,135.38 L892.5,135.20 L893.0,135.18 L893.5,135.23 L894.0,135.33 L894.5,135.61 L895.0,135.53 L895.5,135.59 L896.0,135.31 L896.5,135.53 L897.0,135.51 L897.5,135.47 L898.0,135.34 L898.5,135.27 L899.0,135.62 L899.5,135.69 L900.0,135.64 L900.5,135.47 L901.0,135.37 L901.5,135.37 L902.0,135.20 L902.5,135.05 L903.0,134.87 L903.5,134.79 L904.0,134.58 L904.5,134.43 L905.0,134.10 L905.5,133.80 L906.0,133.78 L906.5,133.76 L907.0,133.99 L907.5,134.29 L908.0,134.53 L908.5,134.67 L909.0,134.47 L909.5,134.53 L910.0,134.81 L910.5,134.96 L911.0,134.98 L911.5,134.99 L912.0,135.17 L912.5,135.58 L913.0,135.47 L913.5,135.60 L914.0,135.23 L914.5,135.51 L915.0,135.46 L915.5,135.61 L916.0,135.62 L916.5,135.62 L917.0,135.78 L917.5,135.67 L918.0,135.77 L918.5,135.79 L919.0,135.70 L919.5,135.50 L920.0,135.36 L920.5,135.54 L921.0,135.69 L921.5,135.81 L922.0,135.71 L922.5,135.60 L923.0,135.61 L923.5,135.72 L924.0,135.86 L924.5,135.99 L925.0,136.08 L925.5,135.97 L926.0,136.07 L926.5,136.05 L927.0,136.12 L927.5,135.91 L928.0,135.82 L928.5,135.74 L929.0,135.64 L929.5,135.60 L930.0,135.62 L930.5,135.40 L931.0,135.47 L931.5,135.32 L932.0,135.64 L932.5,135.54 L933.0,135.67 L933.5,135.72 L934.0,135.67 L934.5,135.64 L935.0,135.60 L935.5,135.71 L936.0,135.74 L936.5,135.63 L937.0,135.54 L937.5,135.65 L938.0,135.77 L938.5,135.93 L939.0,135.89 L939.5,135.76 L940.0,135.75 L940.5,136.03 L941.0,136.28 L941.5,136.11 L942.0,135.93 L942.5,135.76 L943.0,135.86 L943.5,135.76 L944.0,135.69 L944.5,135.56 L945.0,135.63 L945.5,135.62 L946.0,135.72 L946.5,135.64 L947.0,135.75 L947.5,135.76 L948.0,135.79 L948.5,135.74 L949.0,135.82 L949.5,135.87 L950.0,136.06 L950.5,136.10 L951.0,136.01 L951.5,135.92 L952.0,135.96 L952.5,135.96 L953.0,135.86 L953.5,135.55 L954.0,135.75 L954.5,135.83 L955.0,136.19 L955.5,135.89 L956.0,135.65 L956.5,135.55 L957.0,135.62 L957.5,135.87 L958.0,135.76 L958.5,135.93 L959.0,135.88 L959.5,135.94 L960.0,135.91 L960.5,135.90 L961.0,135.88 L961.5,135.96 L962.0,135.99 L962.5,136.05 L963.0,135.98 L963.5,136.00 L964.0,136.02 L964.5,136.16 L965.0,136.25 L965.5,136.06 L966.0,135.64 L966.5,135.44 L967.0,135.33 L967.5,135.27 L968.0,135.23 L968.5,135.35 L969.0,135.61 L969.5,135.72 L970.0,135.98 L970.5,135.84 L971.0,135.66 L971.5,135.38 L972.0,135.44 L972.5,135.31 L973.0,134.98 L973.5,134.30 L974.0,133.96 L974.5,133.35 L975.0,132.75 L975.5,131.37 L976.0,129.56 L976.5,127.07 L977.0,125.06 L977.5,124.54 L978.0,126.23 L978.5,128.51 L979.0,130.90 L979.5,132.41 L980.0,133.55 L980.5,134.13 L981.0,134.88 L981.5,135.27 L982.0,135.51 L982.5,135.49 L983.0,135.50 L983.5,135.84 L984.0,136.11 L984.5,136.33 L985.0,136.32 L985.5,136.11 L986.0,136.31 L986.5,136.32 L987.0,136.71 L987.5,136.54 L988.0,136.63 L988.5,136.54 L989.0,136.71 L989.5,136.68 L990.0,136.73 L990.5,136.71 L991.0,136.75 L991.5,136.56 L992.0,136.67 L992.5,136.68 L993.0,136.85 L993.5,136.73 L994.0,136.77 L994.5,136.69 L995.0,136.95 L995.5,137.09 L996.0,137.18 L996.5,136.93 L997.0,136.78 L997.5,136.57 L998.0,136.53 L998.5,136.36 L999.0,136.31 L999.5,136.11 L1000.0,136.04 L1000.5,136.18 L1001.0,136.36 L1001.5,136.47 L1002.0,136.59 L1002.5,136.71 L1003.0,136.87 L1003.5,137.05 L1004.0,137.07 L1004.5,137.00 L1005.0,136.92 L1005.5,136.88 L1006.0,137.12 L1006.5,137.19 L1007.0,137.28 L1007.5,137.27" fill="none" stroke="#f01ad8" stroke-width="1.9" stroke-linejoin="round"/>
<path d="M534.0,176.66 L534.5,176.64 L535.0,177.01 L535.5,177.13 L536.0,177.18 L536.5,176.97 L537.0,177.16 L537.5,177.11 L538.0,177.19 L538.5,177.20 L539.0,177.26 L539.5,177.28 L540.0,177.25 L540.5,177.37 L541.0,177.47 L541.5,177.59 L542.0,177.61 L542.5,177.48 L543.0,177.39 L543.5,177.42 L544.0,177.55 L544.5,177.70 L545.0,177.56 L545.5,177.49 L546.0,177.35 L546.5,177.53 L547.0,177.58 L547.5,177.60 L548.0,177.63 L548.5,177.68 L549.0,177.69 L549.5,177.73 L550.0,177.78 L550.5,177.96 L551.0,178.00 L551.5,177.98 L552.0,177.94 L552.5,177.90 L553.0,178.05 L553.5,178.10 L554.0,178.24 L554.5,178.15 L555.0,178.18 L555.5,178.23 L556.0,178.18 L556.5,178.08 L557.0,178.05 L557.5,178.29 L558.0,178.53 L558.5,178.57 L559.0,178.63 L559.5,178.51 L560.0,178.46 L560.5,178.44 L561.0,178.40 L561.5,178.31 L562.0,178.22 L562.5,178.46 L563.0,178.68 L563.5,178.64 L564.0,178.52 L564.5,178.42 L565.0,178.58 L565.5,178.68 L566.0,178.76 L566.5,178.69 L567.0,178.80 L567.5,178.93 L568.0,178.95 L568.5,178.85 L569.0,178.88 L569.5,179.04 L570.0,179.13 L570.5,179.01 L571.0,179.14 L571.5,179.02 L572.0,179.17 L572.5,179.23 L573.0,179.29 L573.5,179.36 L574.0,179.29 L574.5,179.33 L575.0,179.24 L575.5,179.33 L576.0,179.37 L576.5,179.34 L577.0,178.95 L577.5,178.86 L578.0,178.89 L578.5,179.18 L579.0,179.42 L579.5,179.56 L580.0,179.78 L580.5,179.82 L581.0,180.04 L581.5,179.95 L582.0,180.03 L582.5,179.70 L583.0,179.70 L583.5,179.68 L584.0,179.87 L584.5,179.81 L585.0,179.74 L585.5,179.55 L586.0,179.64 L586.5,179.57 L587.0,179.80 L587.5,179.82 L588.0,180.01 L588.5,179.99 L589.0,180.03 L589.5,180.06 L590.0,180.03 L590.5,179.85 L591.0,179.91 L591.5,179.86 L592.0,180.12 L592.5,180.07 L593.0,180.19 L593.5,180.14 L594.0,180.13 L594.5,180.13 L595.0,180.13 L595.5,180.11 L596.0,180.13 L596.5,180.20 L597.0,180.19 L597.5,180.20 L598.0,180.03 L598.5,180.00 L599.0,179.83 L599.5,179.94 L600.0,180.07 L600.5,180.31 L601.0,180.22 L601.5,180.27 L602.0,180.12 L602.5,180.22 L603.0,180.10 L603.5,180.35 L604.0,180.42 L604.5,180.67 L605.0,180.62 L605.5,180.58 L606.0,180.42 L606.5,180.45 L607.0,180.39 L607.5,180.30 L608.0,180.16 L608.5,180.20 L609.0,180.21 L609.5,180.35 L610.0,180.36 L610.5,180.32 L611.0,180.07 L611.5,179.86 L612.0,179.87 L612.5,179.72 L613.0,179.99 L613.5,179.67 L614.0,179.24 L614.5,178.15 L615.0,177.16 L615.5,176.11 L616.0,175.04 L616.5,174.64 L617.0,175.18 L617.5,176.43 L618.0,177.58 L618.5,178.43 L619.0,178.96 L619.5,179.24 L620.0,179.38 L620.5,179.61 L621.0,179.93 L621.5,180.19 L622.0,180.21 L622.5,180.30 L623.0,180.26 L623.5,180.29 L624.0,180.14 L624.5,180.20 L625.0,180.33 L625.5,180.32 L626.0,180.25 L626.5,180.31 L627.0,180.47 L627.5,180.68 L628.0,180.72 L628.5,180.70 L629.0,180.84 L629.5,180.75 L630.0,180.74 L630.5,180.70 L631.0,180.76 L631.5,180.76 L632.0,180.63 L632.5,180.48 L633.0,180.56 L633.5,180.54 L634.0,180.69 L634.5,180.75 L635.0,180.84 L635.5,180.81 L636.0,180.72 L636.5,180.64 L637.0,180.77 L637.5,180.54 L638.0,180.46 L638.5,180.21 L639.0,180.40 L639.5,180.40 L640.0,180.45 L640.5,180.56 L641.0,180.55 L641.5,180.57 L642.0,180.28 L642.5,180.11 L643.0,179.84 L643.5,179.89 L644.0,179.70 L644.5,179.56 L645.0,179.39 L645.5,179.20 L646.0,178.79 L646.5,177.89 L647.0,176.77 L647.5,175.35 L648.0,173.31 L648.5,170.31 L649.0,166.40 L649.5,162.69 L650.0,161.04 L650.5,162.87 L651.0,166.71 L651.5,170.51 L652.0,173.47 L652.5,175.33 L653.0,176.67 L653.5,177.79 L654.0,178.60 L654.5,179.26 L655.0,179.52 L655.5,179.67 L656.0,179.77 L656.5,179.83 L657.0,179.95 L657.5,180.10 L658.0,180.36 L658.5,180.43 L659.0,180.49 L659.5,180.47 L660.0,180.64 L660.5,180.95 L661.0,181.00 L661.5,180.87 L662.0,180.66 L662.5,180.76 L663.0,180.86 L663.5,181.01 L664.0,181.13 L664.5,181.08 L665.0,180.91 L665.5,180.74 L666.0,180.90 L666.5,181.15 L667.0,181.04 L667.5,181.13 L668.0,181.05 L668.5,181.06 L669.0,181.01 L669.5,181.11 L670.0,181.47 L670.5,181.46 L671.0,181.51 L671.5,181.25 L672.0,181.44 L672.5,181.41 L673.0,181.72 L673.5,181.53 L674.0,181.44 L674.5,181.16 L675.0,181.50 L675.5,181.60 L676.0,181.62 L676.5,181.42 L677.0,181.58 L677.5,181.85 L678.0,182.00 L678.5,181.83 L679.0,181.80 L679.5,181.60 L680.0,181.63 L680.5,181.74 L681.0,182.05 L681.5,182.22 L682.0,182.03 L682.5,181.89 L683.0,181.91 L683.5,182.28 L684.0,182.35 L684.5,182.29 L685.0,182.06 L685.5,182.08 L686.0,182.21 L686.5,182.34 L687.0,182.65 L687.5,182.69 L688.0,182.55 L688.5,182.49 L689.0,182.51 L689.5,182.68 L690.0,182.57 L690.5,182.71 L691.0,182.83 L691.5,182.97 L692.0,182.94 L692.5,182.97 L693.0,182.85 L693.5,182.81 L694.0,182.78 L694.5,182.87 L695.0,182.84 L695.5,182.81 L696.0,183.00 L696.5,183.31 L697.0,183.61 L697.5,183.62 L698.0,183.62 L698.5,183.65 L699.0,183.63 L699.5,183.53 L700.0,183.35 L700.5,183.34 L701.0,183.43 L701.5,183.45 L702.0,183.40 L702.5,183.37 L703.0,183.31 L703.5,183.56 L704.0,183.62 L704.5,183.51 L705.0,183.37 L705.5,183.24 L706.0,183.40 L706.5,183.31 L707.0,183.47 L707.5,183.47 L708.0,183.48 L708.5,183.37 L709.0,183.57 L709.5,183.52 L710.0,183.41 L710.5,183.03 L711.0,182.99 L711.5,182.98 L712.0,183.07 L712.5,183.04 L713.0,182.90 L713.5,182.79 L714.0,182.57 L714.5,182.48 L715.0,182.22 L715.5,182.06 L716.0,181.81 L716.5,181.53 L717.0,181.12 L717.5,180.55 L718.0,180.06 L718.5,179.18 L719.0,177.87 L719.5,175.67 L720.0,172.39 L720.5,167.89 L721.0,161.54 L721.5,154.36 L722.0,148.47 L722.5,147.93 L723.0,153.14 L723.5,160.33 L724.0,166.86 L724.5,171.71 L725.0,175.23 L725.5,177.49 L726.0,179.12 L726.5,180.19 L727.0,181.00 L727.5,181.32 L728.0,181.66 L728.5,181.88 L729.0,182.40 L729.5,182.64 L730.0,182.79 L730.5,182.82 L731.0,183.01 L731.5,183.12 L732.0,183.14 L732.5,183.34 L733.0,183.45 L733.5,183.52 L734.0,183.61 L734.5,183.64 L735.0,183.51 L735.5,183.13 L736.0,183.16 L736.5,183.35 L737.0,183.35 L737.5,183.12 L738.0,183.08 L738.5,183.12 L739.0,183.23 L739.5,183.03 L740.0,183.10 L740.5,183.05 L741.0,182.91 L741.5,182.58 L742.0,182.39 L742.5,182.18 L743.0,181.97 L743.5,181.80 L744.0,181.58 L744.5,181.13 L745.0,180.25 L745.5,178.92 L746.0,176.95 L746.5,173.87 L747.0,169.91 L747.5,164.70 L748.0,159.35 L748.5,156.06 L749.0,157.39 L749.5,162.35 L750.0,167.75 L750.5,172.36 L751.0,175.67 L751.5,178.02 L752.0,179.68 L752.5,180.65 L753.0,181.45 L753.5,181.88 L754.0,182.33 L754.5,182.65 L755.0,182.91 L755.5,183.08 L756.0,183.31 L756.5,183.39 L757.0,183.60 L757.5,183.47 L758.0,183.47 L758.5,183.49 L759.0,183.87 L759.5,183.89 L760.0,183.80 L760.5,183.53 L761.0,183.64 L761.5,183.78 L762.0,183.97 L762.5,184.00 L763.0,184.05 L763.5,183.94 L764.0,183.87 L764.5,183.72 L765.0,183.69 L765.5,183.65 L766.0,183.67 L766.5,183.43 L767.0,183.12 L767.5,182.52 L768.0,181.99 L768.5,181.58 L769.0,181.34 L769.5,181.39 L770.0,181.42 L770.5,181.83 L771.0,182.17 L771.5,182.55 L772.0,182.83 L772.5,183.24 L773.0,183.71 L773.5,184.00 L774.0,184.27 L774.5,184.44 L775.0,184.65 L775.5,184.72 L776.0,184.78 L776.5,184.89 L777.0,184.79 L777.5,184.77 L778.0,184.87 L778.5,185.14 L779.0,185.39 L779.5,185.25 L780.0,185.14 L780.5,185.02 L781.0,185.04 L781.5,185.13 L782.0,185.21 L782.5,185.45 L783.0,185.32 L783.5,185.35 L784.0,185.16 L784.5,185.22 L785.0,185.48 L785.5,185.78 L786.0,185.98 L786.5,185.88 L787.0,185.81 L787.5,185.81 L788.0,185.48 L788.5,185.23 L789.0,185.31 L789.5,185.39 L790.0,185.77 L790.5,185.82 L791.0,186.12 L791.5,186.04 L792.0,186.06 L792.5,185.99 L793.0,186.15 L793.5,186.08 L794.0,186.07 L794.5,186.09 L795.0,186.15 L795.5,186.29 L796.0,186.24 L796.5,186.46 L797.0,186.44 L797.5,186.35 L798.0,186.01 L798.5,186.03 L799.0,186.19 L799.5,186.26 L800.0,186.18 L800.5,185.86 L801.0,185.82 L801.5,185.79 L802.0,185.96 L802.5,186.13 L803.0,186.07 L803.5,186.12 L804.0,186.22 L804.5,186.51 L805.0,186.40 L805.5,186.37 L806.0,186.24 L806.5,186.21 L807.0,186.00 L807.5,185.91 L808.0,186.00 L808.5,186.20 L809.0,186.18 L809.5,186.02 L810.0,186.08 L810.5,186.17 L811.0,186.59 L811.5,186.52 L812.0,186.48 L812.5,186.36 L813.0,186.43 L813.5,186.41 L814.0,186.30 L814.5,186.34 L815.0,186.36 L815.5,186.44 L816.0,186.34 L816.5,186.69 L817.0,186.78 L817.5,186.71 L818.0,186.38 L818.5,186.22 L819.0,186.27 L819.5,186.42 L820.0,186.41 L820.5,186.31 L821.0,186.44 L821.5,186.44 L822.0,186.46 L822.5,186.36 L823.0,186.41 L823.5,186.48 L824.0,186.57 L824.5,186.45 L825.0,186.47 L825.5,186.44 L826.0,186.48 L826.5,186.44 L827.0,186.37 L827.5,186.43 L828.0,186.36 L828.5,186.09 L829.0,185.84 L829.5,185.71 L830.0,185.63 L830.5,185.49 L831.0,185.23 L831.5,184.93 L832.0,184.96 L832.5,184.98 L833.0,185.48 L833.5,185.90 L834.0,186.29 L834.5,186.36 L835.0,186.17 L835.5,186.12 L836.0,186.12 L836.5,186.35 L837.0,186.50 L837.5,186.43 L838.0,186.44 L838.5,186.41 L839.0,186.68 L839.5,186.62 L840.0,186.61 L840.5,186.49 L841.0,186.58 L841.5,186.61 L842.0,186.80 L842.5,186.66 L843.0,186.86 L843.5,186.61 L844.0,186.59 L844.5,186.51 L845.0,186.80 L845.5,186.88 L846.0,186.91 L846.5,186.67 L847.0,186.61 L847.5,186.54 L848.0,186.85 L848.5,186.92 L849.0,186.77 L849.5,186.32 L850.0,186.34 L850.5,186.56 L851.0,186.77 L851.5,186.80 L852.0,186.67 L852.5,186.83 L853.0,186.87 L853.5,186.81 L854.0,186.63 L854.5,186.70 L855.0,186.84 L855.5,186.67 L856.0,186.52 L856.5,186.47 L857.0,186.44 L857.5,186.53 L858.0,186.71 L858.5,186.93 L859.0,186.80 L859.5,186.64 L860.0,186.65 L860.5,186.73 L861.0,186.81 L861.5,186.70 L862.0,186.68 L862.5,186.82 L863.0,186.96 L863.5,187.01 L864.0,186.86 L864.5,186.79 L865.0,186.65 L865.5,186.84 L866.0,186.93 L866.5,186.97 L867.0,186.83 L867.5,186.79 L868.0,186.80 L868.5,186.67 L869.0,186.57 L869.5,186.57 L870.0,186.71 L870.5,186.86 L871.0,186.93 L871.5,186.98 L872.0,187.04 L872.5,187.03 L873.0,186.75 L873.5,186.63 L874.0,186.80 L874.5,186.86 L875.0,187.13 L875.5,186.98 L876.0,186.94 L876.5,186.69 L877.0,186.85 L877.5,186.93 L878.0,187.02 L878.5,186.95 L879.0,186.96 L879.5,187.02 L880.0,187.09 L880.5,187.23 L881.0,186.95 L881.5,186.84 L882.0,186.84 L882.5,187.10 L883.0,187.26 L883.5,187.22 L884.0,187.13 L884.5,186.75 L885.0,186.61 L885.5,186.72 L886.0,186.81 L886.5,186.90 L887.0,186.62 L887.5,186.71 L888.0,186.61 L888.5,186.83 L889.0,186.85 L889.5,187.00 L890.0,186.80 L890.5,186.79 L891.0,186.84 L891.5,186.68 L892.0,186.63 L892.5,186.54 L893.0,186.93 L893.5,187.05 L894.0,187.12 L894.5,187.07 L895.0,187.08 L895.5,187.00 L896.0,186.95 L896.5,186.75 L897.0,186.74 L897.5,186.71 L898.0,186.97 L898.5,186.87 L899.0,186.90 L899.5,186.70 L900.0,186.79 L900.5,186.83 L901.0,186.81 L901.5,186.66 L902.0,186.48 L902.5,186.48 L903.0,186.46 L903.5,186.34 L904.0,185.88 L904.5,185.65 L905.0,185.19 L905.5,184.87 L906.0,184.53 L906.5,184.34 L907.0,184.59 L907.5,185.00 L908.0,185.44 L908.5,185.66 L909.0,185.91 L909.5,186.27 L910.0,186.63 L910.5,186.48 L911.0,186.44 L911.5,186.62 L912.0,186.80 L912.5,186.89 L913.0,186.75 L913.5,186.89 L914.0,186.94 L914.5,186.70 L915.0,186.75 L915.5,186.67 L916.0,187.04 L916.5,187.13 L917.0,187.14 L917.5,187.07 L918.0,187.12 L918.5,187.41 L919.0,187.51 L919.5,187.30 L920.0,187.18 L920.5,187.00 L921.0,187.21 L921.5,187.21 L922.0,187.45 L922.5,187.06 L923.0,186.97 L923.5,186.78 L924.0,187.00 L924.5,186.94 L925.0,187.04 L925.5,187.00 L926.0,187.31 L926.5,187.24 L927.0,187.28 L927.5,187.03 L928.0,187.13 L928.5,187.21 L929.0,187.19 L929.5,186.84 L930.0,186.78 L930.5,186.79 L931.0,187.10 L931.5,187.05 L932.0,187.17 L932.5,187.06 L933.0,187.18 L933.5,187.13 L934.0,187.34 L934.5,187.31 L935.0,187.40 L935.5,187.28 L936.0,187.28 L936.5,187.15 L937.0,187.06 L937.5,187.10 L938.0,187.17 L938.5,187.46 L939.0,187.49 L939.5,187.69 L940.0,187.73 L940.5,187.71 L941.0,187.43 L941.5,187.22 L942.0,187.30 L942.5,187.40 L943.0,187.54 L943.5,187.41 L944.0,187.43 L944.5,187.42 L945.0,187.52 L945.5,187.55 L946.0,187.49 L946.5,187.49 L947.0,187.45 L947.5,187.53 L948.0,187.42 L948.5,187.73 L949.0,187.66 L949.5,187.64 L950.0,187.18 L950.5,187.08 L951.0,187.20 L951.5,187.32 L952.0,187.53 L952.5,187.46 L953.0,187.41 L953.5,187.26 L954.0,187.25 L954.5,187.33 L955.0,187.25 L955.5,187.30 L956.0,187.13 L956.5,187.26 L957.0,187.27 L957.5,187.44 L958.0,187.35 L958.5,187.36 L959.0,187.40 L959.5,187.30 L960.0,187.41 L960.5,187.37 L961.0,187.59 L961.5,187.65 L962.0,187.54 L962.5,187.39 L963.0,187.14 L963.5,187.26 L964.0,187.26 L964.5,187.26 L965.0,187.42 L965.5,187.49 L966.0,187.60 L966.5,187.51 L967.0,187.67 L967.5,187.46 L968.0,187.37 L968.5,187.26 L969.0,187.48 L969.5,187.32 L970.0,187.13 L970.5,186.95 L971.0,186.92 L971.5,186.80 L972.0,186.55 L972.5,186.30 L973.0,185.99 L973.5,185.64 L974.0,184.95 L974.5,183.91 L975.0,182.39 L975.5,180.33 L976.0,177.67 L976.5,174.31 L977.0,171.39 L977.5,171.22 L978.0,173.78 L978.5,177.45 L979.0,180.32 L979.5,182.48 L980.0,184.19 L980.5,185.10 L981.0,185.89 L981.5,186.29 L982.0,187.02 L982.5,187.20 L983.0,187.49 L983.5,187.47 L984.0,187.52 L984.5,187.37 L985.0,187.54 L985.5,187.60 L986.0,187.76 L986.5,187.87 L987.0,187.95 L987.5,188.09 L988.0,188.16 L988.5,188.45 L989.0,188.52 L989.5,188.28 L990.0,188.34 L990.5,188.34 L991.0,188.45 L991.5,188.18 L992.0,187.93 L992.5,187.98 L993.0,188.06 L993.5,188.12 L994.0,188.19 L994.5,188.26 L995.0,188.37 L995.5,188.23 L996.0,188.24 L996.5,188.32 L997.0,188.22 L997.5,188.18 L998.0,188.01 L998.5,187.89 L999.0,187.67 L999.5,187.60 L1000.0,187.79 L1000.5,187.94 L1001.0,187.84 L1001.5,187.75 L1002.0,187.92 L1002.5,188.31 L1003.0,188.45 L1003.5,188.41 L1004.0,188.62 L1004.5,188.54 L1005.0,188.76 L1005.5,188.75 L1006.0,188.97 L1006.5,188.84 L1007.0,188.80 L1007.5,188.90" fill="none" stroke="#1a14e6" stroke-width="1.9" stroke-linejoin="round"/>
<path d="M534.0,221.99 L534.5,222.07 L535.0,222.12 L535.5,222.15 L536.0,222.27 L536.5,222.14 L537.0,222.20 L537.5,222.03 L538.0,222.15 L538.5,222.13 L539.0,222.25 L539.5,222.48 L540.0,222.46 L540.5,222.52 L541.0,222.61 L541.5,222.73 L542.0,222.77 L542.5,222.71 L543.0,222.78 L543.5,222.65 L544.0,222.75 L544.5,222.77 L545.0,223.08 L545.5,223.07 L546.0,222.97 L546.5,222.93 L547.0,223.02 L547.5,223.25 L548.0,223.13 L548.5,222.98 L549.0,223.05 L549.5,223.03 L550.0,223.19 L550.5,223.10 L551.0,223.15 L551.5,223.05 L552.0,223.02 L552.5,223.17 L553.0,223.17 L553.5,223.25 L554.0,223.21 L554.5,223.34 L555.0,223.49 L555.5,223.39 L556.0,223.43 L556.5,223.29 L557.0,223.45 L557.5,223.43 L558.0,223.69 L558.5,223.89 L559.0,223.91 L559.5,223.76 L560.0,223.79 L560.5,223.90 L561.0,224.14 L561.5,223.96 L562.0,224.06 L562.5,223.85 L563.0,223.66 L563.5,223.65 L564.0,223.64 L564.5,224.04 L565.0,223.96 L565.5,224.21 L566.0,224.04 L566.5,223.94 L567.0,224.00 L567.5,224.28 L568.0,224.48 L568.5,224.20 L569.0,224.20 L569.5,224.47 L570.0,224.63 L570.5,224.53 L571.0,224.23 L571.5,224.35 L572.0,224.41 L572.5,224.37 L573.0,224.28 L573.5,224.41 L574.0,224.48 L574.5,224.61 L575.0,224.65 L575.5,224.87 L576.0,224.69 L576.5,224.68 L577.0,224.52 L577.5,224.53 L578.0,224.53 L578.5,224.50 L579.0,224.71 L579.5,224.83 L580.0,225.08 L580.5,225.12 L581.0,225.12 L581.5,225.09 L582.0,225.22 L582.5,225.26 L583.0,225.18 L583.5,225.30 L584.0,225.20 L584.5,225.33 L585.0,225.21 L585.5,225.22 L586.0,225.20 L586.5,225.26 L587.0,225.25 L587.5,225.37 L588.0,225.42 L588.5,225.45 L589.0,225.39 L589.5,225.40 L590.0,225.47 L590.5,225.59 L591.0,225.56 L591.5,225.55 L592.0,225.49 L592.5,225.55 L593.0,225.73 L593.5,225.60 L594.0,225.55 L594.5,225.41 L595.0,225.52 L595.5,225.54 L596.0,225.72 L596.5,225.92 L597.0,225.93 L597.5,225.69 L598.0,225.65 L598.5,225.78 L599.0,225.82 L599.5,225.82 L600.0,225.83 L600.5,226.03 L601.0,225.98 L601.5,226.00 L602.0,225.93 L602.5,226.08 L603.0,226.07 L603.5,226.16 L604.0,226.09 L604.5,226.05 L605.0,226.02 L605.5,226.11 L606.0,226.11 L606.5,226.13 L607.0,226.29 L607.5,226.26 L608.0,226.09 L608.5,225.75 L609.0,225.77 L609.5,225.88 L610.0,225.73 L610.5,225.53 L611.0,225.56 L611.5,225.58 L612.0,225.76 L612.5,225.67 L613.0,225.32 L613.5,225.03 L614.0,224.48 L614.5,224.12 L615.0,223.20 L615.5,222.06 L616.0,221.02 L616.5,220.66 L617.0,221.22 L617.5,222.19 L618.0,223.31 L618.5,224.31 L619.0,225.23 L619.5,225.58 L620.0,225.86 L620.5,226.12 L621.0,226.22 L621.5,226.18 L622.0,226.22 L622.5,226.26 L623.0,226.49 L623.5,226.34 L624.0,226.37 L624.5,226.31 L625.0,226.43 L625.5,226.43 L626.0,226.58 L626.5,226.53 L627.0,226.69 L627.5,226.45 L628.0,226.45 L628.5,226.34 L629.0,226.46 L629.5,226.54 L630.0,226.63 L630.5,226.62 L631.0,226.71 L631.5,226.78 L632.0,226.74 L632.5,226.67 L633.0,226.63 L633.5,226.75 L634.0,226.79 L634.5,226.71 L635.0,226.61 L635.5,226.57 L636.0,226.64 L636.5,226.57 L637.0,226.46 L637.5,226.36 L638.0,226.47 L638.5,226.49 L639.0,226.47 L639.5,226.36 L640.0,226.45 L640.5,226.27 L641.0,226.31 L641.5,226.15 L642.0,226.30 L642.5,226.26 L643.0,225.95 L643.5,225.96 L644.0,225.88 L644.5,226.17 L645.0,225.93 L645.5,225.68 L646.0,225.19 L646.5,224.72 L647.0,223.67 L647.5,222.37 L648.0,220.30 L648.5,217.95 L649.0,214.74 L649.5,211.79 L650.0,210.28 L650.5,211.70 L651.0,214.74 L651.5,217.92 L652.0,220.33 L652.5,222.19 L653.0,223.47 L653.5,224.47 L654.0,224.94 L654.5,225.40 L655.0,225.64 L655.5,226.01 L656.0,226.15 L656.5,226.37 L657.0,226.31 L657.5,226.47 L658.0,226.67 L658.5,226.89 L659.0,226.86 L659.5,226.89 L660.0,227.04 L660.5,227.10 L661.0,227.35 L661.5,227.43 L662.0,227.66 L662.5,227.47 L663.0,227.42 L663.5,227.20 L664.0,227.17 L664.5,227.16 L665.0,227.35 L665.5,227.36 L666.0,227.29 L666.5,227.37 L667.0,227.46 L667.5,227.66 L668.0,227.58 L668.5,227.54 L669.0,227.48 L669.5,227.25 L670.0,227.44 L670.5,227.53 L671.0,227.92 L671.5,227.83 L672.0,228.00 L672.5,228.04 L673.0,227.92 L673.5,227.58 L674.0,227.52 L674.5,227.59 L675.0,227.78 L675.5,227.78 L676.0,227.92 L676.5,228.12 L677.0,228.22 L677.5,228.36 L678.0,228.27 L678.5,228.54 L679.0,228.65 L679.5,228.59 L680.0,228.39 L680.5,228.22 L681.0,228.31 L681.5,228.28 L682.0,228.26 L682.5,228.13 L683.0,228.06 L683.5,228.28 L684.0,228.23 L684.5,228.45 L685.0,228.22 L685.5,228.46 L686.0,228.38 L686.5,228.70 L687.0,228.82 L687.5,228.80 L688.0,228.70 L688.5,228.76 L689.0,229.02 L689.5,229.14 L690.0,229.14 L690.5,229.04 L691.0,229.20 L691.5,229.17 L692.0,229.18 L692.5,229.09 L693.0,229.33 L693.5,229.24 L694.0,229.33 L694.5,229.35 L695.0,229.58 L695.5,229.32 L696.0,229.17 L696.5,229.15 L697.0,229.40 L697.5,229.37 L698.0,229.39 L698.5,229.45 L699.0,229.54 L699.5,229.56 L700.0,229.46 L700.5,229.40 L701.0,229.41 L701.5,229.45 L702.0,229.68 L702.5,229.65 L703.0,229.55 L703.5,229.44 L704.0,229.44 L704.5,229.63 L705.0,229.63 L705.5,229.57 L706.0,229.57 L706.5,229.62 L707.0,229.79 L707.5,229.76 L708.0,229.87 L708.5,229.75 L709.0,229.76 L709.5,229.64 L710.0,229.72 L710.5,229.62 L711.0,229.54 L711.5,229.52 L712.0,229.49 L712.5,229.55 L713.0,229.61 L713.5,229.43 L714.0,229.47 L714.5,229.31 L715.0,229.16 L715.5,228.78 L716.0,228.46 L716.5,228.43 L717.0,228.00 L717.5,227.73 L718.0,226.90 L718.5,226.12 L719.0,224.66 L719.5,222.81 L720.0,220.00 L720.5,216.02 L721.0,210.71 L721.5,204.39 L722.0,199.20 L722.5,198.41 L723.0,202.94 L723.5,209.60 L724.0,215.72 L724.5,220.13 L725.0,222.88 L725.5,224.77 L726.0,225.94 L726.5,226.85 L727.0,227.47 L727.5,228.11 L728.0,228.48 L728.5,228.69 L729.0,228.81 L729.5,228.90 L730.0,229.21 L730.5,229.44 L731.0,229.81 L731.5,229.90 L732.0,229.81 L732.5,229.73 L733.0,229.61 L733.5,229.75 L734.0,230.02 L734.5,230.05 L735.0,230.11 L735.5,230.04 L736.0,230.05 L736.5,230.20 L737.0,229.99 L737.5,230.08 L738.0,229.89 L738.5,230.03 L739.0,230.09 L739.5,229.98 L740.0,229.77 L740.5,229.39 L741.0,229.27 L741.5,229.35 L742.0,229.37 L742.5,229.30 L743.0,229.02 L743.5,228.82 L744.0,228.31 L744.5,227.64 L745.0,226.84 L745.5,225.57 L746.0,224.03 L746.5,221.36 L747.0,217.82 L747.5,212.85 L748.0,207.88 L748.5,205.03 L749.0,206.58 L749.5,211.23 L750.0,216.43 L750.5,220.43 L751.0,223.48 L751.5,225.46 L752.0,226.90 L752.5,227.83 L753.0,228.30 L753.5,228.90 L754.0,229.27 L754.5,229.67 L755.0,229.73 L755.5,229.91 L756.0,229.94 L756.5,230.17 L757.0,230.29 L757.5,230.74 L758.0,230.73 L758.5,230.84 L759.0,230.71 L759.5,230.61 L760.0,230.39 L760.5,230.31 L761.0,230.62 L761.5,230.91 L762.0,230.96 L762.5,230.90 L763.0,230.78 L763.5,230.55 L764.0,230.60 L764.5,230.68 L765.0,230.64 L765.5,230.33 L766.0,230.04 L766.5,230.05 L767.0,229.97 L767.5,229.74 L768.0,229.27 L768.5,228.79 L769.0,228.23 L769.5,228.09 L770.0,228.18 L770.5,228.69 L771.0,229.18 L771.5,229.87 L772.0,230.31 L772.5,230.76 L773.0,230.97 L773.5,231.14 L774.0,231.37 L774.5,231.21 L775.0,231.24 L775.5,231.29 L776.0,231.58 L776.5,231.81 L777.0,231.86 L777.5,232.04 L778.0,232.26 L778.5,232.34 L779.0,232.45 L779.5,232.43 L780.0,232.41 L780.5,232.23 L781.0,232.25 L781.5,232.53 L782.0,232.63 L782.5,232.46 L783.0,232.50 L783.5,232.75 L784.0,232.98 L784.5,233.04 L785.0,233.17 L785.5,233.15 L786.0,233.05 L786.5,232.85 L787.0,233.08 L787.5,233.07 L788.0,233.12 L788.5,233.18 L789.0,233.40 L789.5,233.57 L790.0,233.39 L790.5,233.36 L791.0,233.23 L791.5,233.45 L792.0,233.48 L792.5,233.64 L793.0,233.56 L793.5,233.55 L794.0,233.54 L794.5,233.56 L795.0,233.60 L795.5,233.49 L796.0,233.41 L796.5,233.23 L797.0,233.33 L797.5,233.55 L798.0,233.77 L798.5,233.60 L799.0,233.57 L799.5,233.54 L800.0,233.73 L800.5,233.72 L801.0,233.78 L801.5,233.94 L802.0,234.04 L802.5,234.18 L803.0,234.11 L803.5,233.94 L804.0,233.89 L804.5,233.71 L805.0,233.86 L805.5,233.63 L806.0,233.70 L806.5,233.75 L807.0,233.79 L807.5,233.96 L808.0,233.91 L808.5,233.96 L809.0,233.93 L809.5,233.94 L810.0,233.97 L810.5,233.84 L811.0,233.87 L811.5,233.82 L812.0,233.89 L812.5,233.85 L813.0,233.88 L813.5,233.91 L814.0,233.90 L814.5,233.94 L815.0,233.94 L815.5,234.04 L816.0,233.97 L816.5,233.92 L817.0,233.66 L817.5,233.48 L818.0,233.59 L818.5,233.77 L819.0,234.14 L819.5,233.93 L820.0,233.81 L820.5,233.61 L821.0,233.95 L821.5,234.11 L822.0,234.15 L822.5,233.95 L823.0,233.89 L823.5,233.79 L824.0,233.82 L824.5,233.67 L825.0,233.78 L825.5,233.80 L826.0,233.91 L826.5,233.81 L827.0,233.68 L827.5,233.69 L828.0,233.64 L828.5,233.46 L829.0,233.24 L829.5,233.10 L830.0,233.04 L830.5,232.87 L831.0,232.68 L831.5,232.50 L832.0,232.53 L832.5,232.69 L833.0,232.98 L833.5,233.11 L834.0,233.22 L834.5,233.34 L835.0,233.33 L835.5,233.37 L836.0,233.51 L836.5,233.68 L837.0,233.77 L837.5,233.62 L838.0,233.74 L838.5,233.72 L839.0,233.96 L839.5,233.96 L840.0,233.92 L840.5,233.76 L841.0,233.65 L841.5,233.89 L842.0,234.00 L842.5,234.06 L843.0,233.95 L843.5,233.94 L844.0,233.94 L844.5,234.13 L845.0,234.03 L845.5,234.13 L846.0,233.81 L846.5,233.92 L847.0,233.83 L847.5,234.05 L848.0,234.13 L848.5,234.17 L849.0,233.90 L849.5,233.60 L850.0,233.63 L850.5,233.79 L851.0,233.88 L851.5,233.97 L852.0,234.04 L852.5,234.24 L853.0,234.23 L853.5,234.22 L854.0,234.14 L854.5,233.94 L855.0,234.02 L855.5,234.00 L856.0,234.28 L856.5,234.32 L857.0,234.31 L857.5,234.09 L858.0,233.99 L858.5,234.00 L859.0,234.15 L859.5,234.27 L860.0,234.15 L860.5,233.98 L861.0,233.91 L861.5,233.91 L862.0,234.01 L862.5,233.80 L863.0,233.89 L863.5,233.86 L864.0,234.00 L864.5,233.97 L865.0,234.06 L865.5,234.18 L866.0,234.32 L866.5,234.25 L867.0,234.13 L867.5,234.00 L868.0,233.95 L868.5,233.97 L869.0,234.02 L869.5,234.07 L870.0,234.11 L870.5,234.21 L871.0,234.17 L871.5,234.12 L872.0,234.10 L872.5,234.18 L873.0,234.13 L873.5,233.96 L874.0,234.00 L874.5,233.98 L875.0,234.14 L875.5,233.98 L876.0,234.25 L876.5,234.11 L877.0,234.39 L877.5,234.29 L878.0,234.53 L878.5,234.48 L879.0,234.46 L879.5,234.29 L880.0,234.41 L880.5,234.32 L881.0,234.37 L881.5,234.01 L882.0,234.05 L882.5,234.09 L883.0,234.15 L883.5,234.17 L884.0,234.08 L884.5,234.12 L885.0,234.16 L885.5,234.28 L886.0,234.24 L886.5,234.01 L887.0,233.97 L887.5,233.94 L888.0,234.06 L888.5,233.93 L889.0,234.13 L889.5,234.39 L890.0,234.41 L890.5,234.52 L891.0,234.33 L891.5,234.35 L892.0,234.24 L892.5,234.41 L893.0,234.42 L893.5,234.28 L894.0,234.27 L894.5,234.37 L895.0,234.12 L895.5,233.92 L896.0,233.75 L896.5,233.96 L897.0,233.98 L897.5,234.00 L898.0,234.00 L898.5,234.17 L899.0,234.04 L899.5,234.07 L900.0,233.90 L900.5,233.88 L901.0,233.71 L901.5,233.48 L902.0,233.62 L902.5,233.52 L903.0,233.54 L903.5,233.16 L904.0,232.90 L904.5,232.61 L905.0,232.47 L905.5,232.11 L906.0,231.70 L906.5,231.53 L907.0,231.68 L907.5,231.94 L908.0,232.16 L908.5,232.62 L909.0,232.77 L909.5,233.29 L910.0,233.60 L910.5,234.12 L911.0,234.04 L911.5,233.90 L912.0,233.89 L912.5,233.86 L913.0,234.17 L913.5,234.09 L914.0,234.34 L914.5,234.23 L915.0,234.27 L915.5,234.15 L916.0,234.00 L916.5,234.07 L917.0,234.16 L917.5,234.25 L918.0,234.22 L918.5,234.17 L919.0,234.30 L919.5,234.43 L920.0,234.48 L920.5,234.30 L921.0,234.18 L921.5,234.18 L922.0,234.21 L922.5,234.19 L923.0,234.28 L923.5,234.34 L924.0,234.43 L924.5,234.24 L925.0,234.26 L925.5,234.32 L926.0,234.41 L926.5,234.24 L927.0,234.12 L927.5,234.15 L928.0,234.32 L928.5,234.47 L929.0,234.39 L929.5,234.36 L930.0,234.36 L930.5,234.39 L931.0,234.48 L931.5,234.22 L932.0,234.13 L932.5,234.14 L933.0,234.40 L933.5,234.57 L934.0,234.57 L934.5,234.59 L935.0,234.41 L935.5,234.47 L936.0,234.47 L936.5,234.47 L937.0,234.19 L937.5,234.14 L938.0,234.19 L938.5,234.38 L939.0,234.31 L939.5,234.23 L940.0,234.10 L940.5,234.10 L941.0,234.25 L941.5,234.41 L942.0,234.39 L942.5,234.44 L943.0,234.34 L943.5,234.39 L944.0,234.13 L944.5,234.10 L945.0,233.97 L945.5,234.27 L946.0,234.43 L946.5,234.62 L947.0,234.76 L947.5,234.68 L948.0,234.72 L948.5,234.49 L949.0,234.50 L949.5,234.32 L950.0,234.33 L950.5,234.40 L951.0,234.50 L951.5,234.50 L952.0,234.39 L952.5,234.44 L953.0,234.61 L953.5,234.48 L954.0,234.43 L954.5,234.28 L955.0,234.41 L955.5,234.41 L956.0,234.48 L956.5,234.62 L957.0,234.45 L957.5,234.29 L958.0,234.18 L958.5,234.21 L959.0,234.37 L959.5,234.28 L960.0,234.41 L960.5,234.25 L961.0,234.24 L961.5,234.52 L962.0,234.60 L962.5,234.83 L963.0,234.56 L963.5,234.65 L964.0,234.43 L964.5,234.48 L965.0,234.36 L965.5,234.15 L966.0,233.83 L966.5,233.86 L967.0,234.19 L967.5,234.36 L968.0,234.25 L968.5,234.10 L969.0,234.31 L969.5,234.19 L970.0,234.26 L970.5,234.14 L971.0,234.11 L971.5,233.85 L972.0,233.56 L972.5,233.44 L973.0,233.38 L973.5,233.07 L974.0,232.56 L974.5,231.71 L975.0,230.64 L975.5,228.93 L976.0,226.46 L976.5,223.66 L977.0,221.63 L977.5,221.64 L978.0,223.61 L978.5,226.24 L979.0,228.67 L979.5,230.54 L980.0,231.94 L980.5,232.75 L981.0,233.40 L981.5,233.85 L982.0,234.04 L982.5,234.24 L983.0,234.24 L983.5,234.52 L984.0,234.56 L984.5,234.81 L985.0,234.84 L985.5,234.89 L986.0,234.86 L986.5,234.93 L987.0,234.88 L987.5,235.03 L988.0,235.07 L988.5,235.29 L989.0,235.27 L989.5,235.41 L990.0,235.47 L990.5,235.37 L991.0,235.35 L991.5,235.34 L992.0,235.43 L992.5,235.40 L993.0,235.44 L993.5,235.65 L994.0,235.79 L994.5,235.83 L995.0,235.74 L995.5,235.87 L996.0,235.79 L996.5,235.82 L997.0,235.92 L997.5,235.88 L998.0,235.70 L998.5,235.10 L999.0,234.79 L999.5,234.92 L1000.0,235.06 L1000.5,235.20 L1001.0,235.07 L1001.5,235.12 L1002.0,235.37 L1002.5,235.49 L1003.0,235.78 L1003.5,236.02 L1004.0,236.22 L1004.5,236.23 L1005.0,236.14 L1005.5,236.27 L1006.0,236.18 L1006.5,236.12 L1007.0,235.96 L1007.5,236.00" fill="none" stroke="#ee1420" stroke-width="1.9" stroke-linejoin="round"/>
<path d="M534.0,274.49 L534.5,274.50 L535.0,274.66 L535.5,274.62 L536.0,274.60 L536.5,274.47 L537.0,274.54 L537.5,274.52 L538.0,274.75 L538.5,274.75 L539.0,274.86 L539.5,274.70 L540.0,274.86 L540.5,274.85 L541.0,275.01 L541.5,274.80 L542.0,274.97 L542.5,274.98 L543.0,275.16 L543.5,275.15 L544.0,275.12 L544.5,274.95 L545.0,274.90 L545.5,274.87 L546.0,274.94 L546.5,275.13 L547.0,275.30 L547.5,275.40 L548.0,275.32 L548.5,275.34 L549.0,275.35 L549.5,275.30 L550.0,275.25 L550.5,275.30 L551.0,275.53 L551.5,275.43 L552.0,275.41 L552.5,275.18 L553.0,275.54 L553.5,275.51 L554.0,275.71 L554.5,275.56 L555.0,275.68 L555.5,275.69 L556.0,275.69 L556.5,275.63 L557.0,275.74 L557.5,275.60 L558.0,275.47 L558.5,275.23 L559.0,275.44 L559.5,275.58 L560.0,275.68 L560.5,275.73 L561.0,275.89 L561.5,275.94 L562.0,275.98 L562.5,275.94 L563.0,276.03 L563.5,275.96 L564.0,276.13 L564.5,276.15 L565.0,276.16 L565.5,276.15 L566.0,276.16 L566.5,276.26 L567.0,276.20 L567.5,276.02 L568.0,275.91 L568.5,275.99 L569.0,276.25 L569.5,276.17 L570.0,276.01 L570.5,275.70 L571.0,275.74 L571.5,275.91 L572.0,276.08 L572.5,276.28 L573.0,276.38 L573.5,276.29 L574.0,276.27 L574.5,276.19 L575.0,276.42 L575.5,276.53 L576.0,276.64 L576.5,276.67 L577.0,276.50 L577.5,276.52 L578.0,276.70 L578.5,276.70 L579.0,276.60 L579.5,276.45 L580.0,276.54 L580.5,276.59 L581.0,276.61 L581.5,276.78 L582.0,276.74 L582.5,276.71 L583.0,276.81 L583.5,276.97 L584.0,276.96 L584.5,276.67 L585.0,276.58 L585.5,276.69 L586.0,276.81 L586.5,276.70 L587.0,276.54 L587.5,276.51 L588.0,276.66 L588.5,276.83 L589.0,277.02 L589.5,276.96 L590.0,276.87 L590.5,276.60 L591.0,276.59 L591.5,276.66 L592.0,276.82 L592.5,276.91 L593.0,276.97 L593.5,276.98 L594.0,276.87 L594.5,276.89 L595.0,276.98 L595.5,277.06 L596.0,277.38 L596.5,277.11 L597.0,277.05 L597.5,276.68 L598.0,276.89 L598.5,276.96 L599.0,277.05 L599.5,277.24 L600.0,277.40 L600.5,277.41 L601.0,277.47 L601.5,277.27 L602.0,277.24 L602.5,277.11 L603.0,277.23 L603.5,277.25 L604.0,277.23 L604.5,277.20 L605.0,277.11 L605.5,277.03 L606.0,277.06 L606.5,277.22 L607.0,277.38 L607.5,277.49 L608.0,277.20 L608.5,277.05 L609.0,276.85 L609.5,277.07 L610.0,277.14 L610.5,277.18 L611.0,277.24 L611.5,277.13 L612.0,277.11 L612.5,276.95 L613.0,276.87 L613.5,276.57 L614.0,276.26 L614.5,275.70 L615.0,275.00 L615.5,273.85 L616.0,272.77 L616.5,272.14 L617.0,272.40 L617.5,273.32 L618.0,274.30 L618.5,275.33 L619.0,275.90 L619.5,276.42 L620.0,276.61 L620.5,276.94 L621.0,277.11 L621.5,277.44 L622.0,277.61 L622.5,277.85 L623.0,277.77 L623.5,277.55 L624.0,277.53 L624.5,277.74 L625.0,277.91 L625.5,277.98 L626.0,277.79 L626.5,277.86 L627.0,277.72 L627.5,277.69 L628.0,277.65 L628.5,277.50 L629.0,277.59 L629.5,277.66 L630.0,277.91 L630.5,277.90 L631.0,277.93 L631.5,278.09 L632.0,278.20 L632.5,278.15 L633.0,277.96 L633.5,277.86 L634.0,278.01 L634.5,277.93 L635.0,278.03 L635.5,277.95 L636.0,277.73 L636.5,277.66 L637.0,277.56 L637.5,277.72 L638.0,277.66 L638.5,277.73 L639.0,278.05 L639.5,278.04 L640.0,277.89 L640.5,277.60 L641.0,277.60 L641.5,277.55 L642.0,277.47 L642.5,277.19 L643.0,277.07 L643.5,276.94 L644.0,277.03 L644.5,276.88 L645.0,276.60 L645.5,276.19 L646.0,275.74 L646.5,275.13 L647.0,274.11 L647.5,272.96 L648.0,270.88 L648.5,268.16 L649.0,264.28 L649.5,260.83 L650.0,258.93 L650.5,260.62 L651.0,263.89 L651.5,267.87 L652.0,270.88 L652.5,273.20 L653.0,274.71 L653.5,275.90 L654.0,276.75 L654.5,277.17 L655.0,277.23 L655.5,277.26 L656.0,277.15 L656.5,277.42 L657.0,277.45 L657.5,277.69 L658.0,277.85 L658.5,278.16 L659.0,278.13 L659.5,277.93 L660.0,278.08 L660.5,278.15 L661.0,278.24 L661.5,278.01 L662.0,278.15 L662.5,278.17 L663.0,278.44 L663.5,278.38 L664.0,278.43 L664.5,278.12 L665.0,278.38 L665.5,278.57 L666.0,278.80 L666.5,278.71 L667.0,278.66 L667.5,278.82 L668.0,278.67 L668.5,278.56 L669.0,278.70 L669.5,279.01 L670.0,279.18 L670.5,278.98 L671.0,278.98 L671.5,279.03 L672.0,279.14 L672.5,278.98 L673.0,278.92 L673.5,278.89 L674.0,279.06 L674.5,278.98 L675.0,278.94 L675.5,278.84 L676.0,278.93 L676.5,279.00 L677.0,279.18 L677.5,279.31 L678.0,279.41 L678.5,279.40 L679.0,279.24 L679.5,279.17 L680.0,279.14 L680.5,279.12 L681.0,279.08 L681.5,279.19 L682.0,279.49 L682.5,279.57 L683.0,279.41 L683.5,279.33 L684.0,279.29 L684.5,279.58 L685.0,279.49 L685.5,279.67 L686.0,279.55 L686.5,279.74 L687.0,279.61 L687.5,279.71 L688.0,279.69 L688.5,279.77 L689.0,279.63 L689.5,279.60 L690.0,279.45 L690.5,279.64 L691.0,279.69 L691.5,280.05 L692.0,279.87 L692.5,280.08 L693.0,279.99 L693.5,280.12 L694.0,280.03 L694.5,279.88 L695.0,279.80 L695.5,279.89 L696.0,279.84 L696.5,279.99 L697.0,280.02 L697.5,280.25 L698.0,280.40 L698.5,280.25 L699.0,280.19 L699.5,280.18 L700.0,280.31 L700.5,280.37 L701.0,280.41 L701.5,280.21 L702.0,280.33 L702.5,280.15 L703.0,280.29 L703.5,280.20 L704.0,280.26 L704.5,280.29 L705.0,280.42 L705.5,280.54 L706.0,280.49 L706.5,280.35 L707.0,280.10 L707.5,280.24 L708.0,280.31 L708.5,280.33 L709.0,280.16 L709.5,280.20 L710.0,280.16 L710.5,280.14 L711.0,279.94 L711.5,279.94 L712.0,279.87 L712.5,279.60 L713.0,279.66 L713.5,279.51 L714.0,279.62 L714.5,279.25 L715.0,279.37 L715.5,279.23 L716.0,278.94 L716.5,278.36 L717.0,277.89 L717.5,277.50 L718.0,276.77 L718.5,275.76 L719.0,274.44 L719.5,272.61 L720.0,269.80 L720.5,265.72 L721.0,259.85 L721.5,252.73 L722.0,247.02 L722.5,246.54 L723.0,251.49 L723.5,258.40 L724.0,264.45 L724.5,269.07 L725.0,272.23 L725.5,274.25 L726.0,275.94 L726.5,277.01 L727.0,277.82 L727.5,278.26 L728.0,278.66 L728.5,278.87 L729.0,278.92 L729.5,278.91 L730.0,279.03 L730.5,279.37 L731.0,279.74 L731.5,280.11 L732.0,279.97 L732.5,279.92 L733.0,279.95 L733.5,280.30 L734.0,280.30 L734.5,280.17 L735.0,279.97 L735.5,280.06 L736.0,280.19 L736.5,280.33 L737.0,280.23 L737.5,280.29 L738.0,280.07 L738.5,280.15 L739.0,280.10 L739.5,280.26 L740.0,280.18 L740.5,279.93 L741.0,279.71 L741.5,279.48 L742.0,279.30 L742.5,279.01 L743.0,278.95 L743.5,278.58 L744.0,278.19 L744.5,277.64 L745.0,276.96 L745.5,275.99 L746.0,274.17 L746.5,271.46 L747.0,267.52 L747.5,262.20 L748.0,256.84 L748.5,253.78 L749.0,255.39 L749.5,260.25 L750.0,265.72 L750.5,270.15 L751.0,273.15 L751.5,275.17 L752.0,276.29 L752.5,277.47 L753.0,278.08 L753.5,278.78 L754.0,279.03 L754.5,279.24 L755.0,279.79 L755.5,279.95 L756.0,280.06 L756.5,279.90 L757.0,280.07 L757.5,280.42 L758.0,280.55 L758.5,280.64 L759.0,280.59 L759.5,280.64 L760.0,280.67 L760.5,280.60 L761.0,280.58 L761.5,280.60 L762.0,280.61 L762.5,280.62 L763.0,280.76 L763.5,280.67 L764.0,280.69 L764.5,280.58 L765.0,280.62 L765.5,280.47 L766.0,280.34 L766.5,280.07 L767.0,279.82 L767.5,279.36 L768.0,278.94 L768.5,278.39 L769.0,278.00 L769.5,277.94 L770.0,277.97 L770.5,278.44 L771.0,278.82 L771.5,279.45 L772.0,279.90 L772.5,280.44 L773.0,280.72 L773.5,281.17 L774.0,281.34 L774.5,281.78 L775.0,281.82 L775.5,282.06 L776.0,282.12 L776.5,282.22 L777.0,282.27 L777.5,282.32 L778.0,282.49 L778.5,282.58 L779.0,282.73 L779.5,282.64 L780.0,282.63 L780.5,282.69 L781.0,282.67 L781.5,282.95 L782.0,282.96 L782.5,283.14 L783.0,283.01 L783.5,283.12 L784.0,283.27 L784.5,283.45 L785.0,283.43 L785.5,283.32 L786.0,283.29 L786.5,283.40 L787.0,283.50 L787.5,283.68 L788.0,283.65 L788.5,283.68 L789.0,283.70 L789.5,283.81 L790.0,283.93 L790.5,283.80 L791.0,283.75 L791.5,283.74 L792.0,283.70 L792.5,283.93 L793.0,284.07 L793.5,284.46 L794.0,284.42 L794.5,284.36 L795.0,284.31 L795.5,284.29 L796.0,284.47 L796.5,284.34 L797.0,284.24 L797.5,284.13 L798.0,284.16 L798.5,284.41 L799.0,284.41 L799.5,284.47 L800.0,284.45 L800.5,284.42 L801.0,284.29 L801.5,284.20 L802.0,284.13 L802.5,284.25 L803.0,284.40 L803.5,284.53 L804.0,284.46 L804.5,284.29 L805.0,284.39 L805.5,284.56 L806.0,284.47 L806.5,284.62 L807.0,284.67 L807.5,284.83 L808.0,284.64 L808.5,284.51 L809.0,284.60 L809.5,284.57 L810.0,284.60 L810.5,284.63 L811.0,284.91 L811.5,284.87 L812.0,284.75 L812.5,284.61 L813.0,284.62 L813.5,284.70 L814.0,284.61 L814.5,284.58 L815.0,284.53 L815.5,284.48 L816.0,284.44 L816.5,284.44 L817.0,284.67 L817.5,284.74 L818.0,284.71 L818.5,284.44 L819.0,284.56 L819.5,284.58 L820.0,284.69 L820.5,284.41 L821.0,284.26 L821.5,284.27 L822.0,284.27 L822.5,284.49 L823.0,284.55 L823.5,284.63 L824.0,284.55 L824.5,284.41 L825.0,284.41 L825.5,284.41 L826.0,284.39 L826.5,284.41 L827.0,284.42 L827.5,284.47 L828.0,284.47 L828.5,284.39 L829.0,284.16 L829.5,284.02 L830.0,283.92 L830.5,283.81 L831.0,283.52 L831.5,283.49 L832.0,283.20 L832.5,283.36 L833.0,283.34 L833.5,283.92 L834.0,284.24 L834.5,284.46 L835.0,284.42 L835.5,284.41 L836.0,284.32 L836.5,284.44 L837.0,284.37 L837.5,284.56 L838.0,284.42 L838.5,284.48 L839.0,284.48 L839.5,284.64 L840.0,284.66 L840.5,284.58 L841.0,284.59 L841.5,284.77 L842.0,284.79 L842.5,284.70 L843.0,284.47 L843.5,284.49 L844.0,284.69 L844.5,284.77 L845.0,284.89 L845.5,284.96 L846.0,284.90 L846.5,284.85 L847.0,284.70 L847.5,284.87 L848.0,284.93 L848.5,285.00 L849.0,284.81 L849.5,284.70 L850.0,284.66 L850.5,284.76 L851.0,284.74 L851.5,284.77 L852.0,284.82 L852.5,284.92 L853.0,284.82 L853.5,284.74 L854.0,284.60 L854.5,284.61 L855.0,284.71 L855.5,284.80 L856.0,284.85 L856.5,284.90 L857.0,284.87 L857.5,284.89 L858.0,284.65 L858.5,284.79 L859.0,284.77 L859.5,284.99 L860.0,284.98 L860.5,284.99 L861.0,284.97 L861.5,284.76 L862.0,284.72 L862.5,284.48 L863.0,284.72 L863.5,284.83 L864.0,285.15 L864.5,285.18 L865.0,285.28 L865.5,285.12 L866.0,284.86 L866.5,284.67 L867.0,284.89 L867.5,285.09 L868.0,285.24 L868.5,285.11 L869.0,285.12 L869.5,284.98 L870.0,284.79 L870.5,284.82 L871.0,284.77 L871.5,285.04 L872.0,285.01 L872.5,285.16 L873.0,285.00 L873.5,284.79 L874.0,284.64 L874.5,284.73 L875.0,284.77 L875.5,284.74 L876.0,284.79 L876.5,284.71 L877.0,284.82 L877.5,284.72 L878.0,285.11 L878.5,285.22 L879.0,285.23 L879.5,284.87 L880.0,284.74 L880.5,284.53 L881.0,284.73 L881.5,284.62 L882.0,284.88 L882.5,284.92 L883.0,285.00 L883.5,284.95 L884.0,284.90 L884.5,284.97 L885.0,284.93 L885.5,284.98 L886.0,284.98 L886.5,284.94 L887.0,284.90 L887.5,284.83 L888.0,284.98 L888.5,285.02 L889.0,284.89 L889.5,284.75 L890.0,284.65 L890.5,284.84 L891.0,284.92 L891.5,285.05 L892.0,285.20 L892.5,284.96 L893.0,284.92 L893.5,284.59 L894.0,284.87 L894.5,284.83 L895.0,284.93 L895.5,284.77 L896.0,284.67 L896.5,284.86 L897.0,284.84 L897.5,284.84 L898.0,284.75 L898.5,284.95 L899.0,284.91 L899.5,284.87 L900.0,284.61 L900.5,284.73 L901.0,284.55 L901.5,284.59 L902.0,284.45 L902.5,284.42 L903.0,284.36 L903.5,284.31 L904.0,284.12 L904.5,283.75 L905.0,283.25 L905.5,283.02 L906.0,282.79 L906.5,282.67 L907.0,282.66 L907.5,282.78 L908.0,283.10 L908.5,283.44 L909.0,283.97 L909.5,284.32 L910.0,284.30 L910.5,284.23 L911.0,284.38 L911.5,284.78 L912.0,284.72 L912.5,284.64 L913.0,284.72 L913.5,284.85 L914.0,284.85 L914.5,284.73 L915.0,284.72 L915.5,284.88 L916.0,284.90 L916.5,285.03 L917.0,284.87 L917.5,284.97 L918.0,284.92 L918.5,284.92 L919.0,284.81 L919.5,284.72 L920.0,284.75 L920.5,284.99 L921.0,285.05 L921.5,285.02 L922.0,284.81 L922.5,284.92 L923.0,285.05 L923.5,285.08 L924.0,284.89 L924.5,284.81 L925.0,284.57 L925.5,284.81 L926.0,284.89 L926.5,285.19 L927.0,284.98 L927.5,284.74 L928.0,284.67 L928.5,284.73 L929.0,284.81 L929.5,284.73 L930.0,284.68 L930.5,284.62 L931.0,284.74 L931.5,284.92 L932.0,285.17 L932.5,285.17 L933.0,285.15 L933.5,285.13 L934.0,285.07 L934.5,285.07 L935.0,285.02 L935.5,284.83 L936.0,284.86 L936.5,285.04 L937.0,285.42 L937.5,285.36 L938.0,285.23 L938.5,285.11 L939.0,285.30 L939.5,285.43 L940.0,285.34 L940.5,285.10 L941.0,284.89 L941.5,284.91 L942.0,285.14 L942.5,285.00 L943.0,284.96 L943.5,284.67 L944.0,284.79 L944.5,284.97 L945.0,285.00 L945.5,285.15 L946.0,285.25 L946.5,285.38 L947.0,285.42 L947.5,285.24 L948.0,285.26 L948.5,285.12 L949.0,285.25 L949.5,285.25 L950.0,285.35 L950.5,285.33 L951.0,285.40 L951.5,285.25 L952.0,285.19 L952.5,285.02 L953.0,285.08 L953.5,285.05 L954.0,285.18 L954.5,285.22 L955.0,285.20 L955.5,285.27 L956.0,285.32 L956.5,285.13 L957.0,285.05 L957.5,284.96 L958.0,285.23 L958.5,285.27 L959.0,285.47 L959.5,285.37 L960.0,285.38 L960.5,285.20 L961.0,285.17 L961.5,284.93 L962.0,284.97 L962.5,285.18 L963.0,285.31 L963.5,285.38 L964.0,285.24 L964.5,285.34 L965.0,285.21 L965.5,285.25 L966.0,285.06 L966.5,285.14 L967.0,285.25 L967.5,285.43 L968.0,285.29 L968.5,284.89 L969.0,284.76 L969.5,284.65 L970.0,284.76 L970.5,284.76 L971.0,284.56 L971.5,284.41 L972.0,284.13 L972.5,284.20 L973.0,283.97 L973.5,283.72 L974.0,283.05 L974.5,282.12 L975.0,280.32 L975.5,278.18 L976.0,275.23 L976.5,272.06 L977.0,269.44 L977.5,269.07 L978.0,271.24 L978.5,274.72 L979.0,277.87 L979.5,280.38 L980.0,281.94 L980.5,283.12 L981.0,283.92 L981.5,284.32 L982.0,284.68 L982.5,284.86 L983.0,285.06 L983.5,285.37 L984.0,285.67 L984.5,285.81 L985.0,285.92 L985.5,285.98 L986.0,286.20 L986.5,286.11 L987.0,286.13 L987.5,286.07 L988.0,286.13 L988.5,286.07 L989.0,286.28 L989.5,286.35 L990.0,286.74 L990.5,286.51 L991.0,286.46 L991.5,286.16 L992.0,286.25 L992.5,286.38 L993.0,286.73 L993.5,286.73 L994.0,286.66 L994.5,286.57 L995.0,286.67 L995.5,286.64 L996.0,286.49 L996.5,286.35 L997.0,286.50 L997.5,286.42 L998.0,286.37 L998.5,286.26 L999.0,286.15 L999.5,286.21 L1000.0,285.94 L1000.5,286.01 L1001.0,286.18 L1001.5,286.55 L1002.0,286.69 L1002.5,286.58 L1003.0,286.48 L1003.5,286.71 L1004.0,286.88 L1004.5,287.14 L1005.0,287.16 L1005.5,287.51 L1006.0,287.65 L1006.5,287.55 L1007.0,287.34 L1007.5,287.13" fill="none" stroke="#141414" stroke-width="1.9" stroke-linejoin="round"/>
<line x1="616.5" y1="62" x2="616.5" y2="353" stroke="#7c1284" stroke-width="1.85" stroke-dasharray="3.8 2.3"/>
<line x1="648.6" y1="52" x2="648.6" y2="353" stroke="#7c1284" stroke-width="1.85" stroke-dasharray="3.8 2.3"/>
<line x1="650.6" y1="72" x2="650.6" y2="353" stroke="#7c1284" stroke-width="1.85" stroke-dasharray="3.8 2.3"/>
<line x1="722.5" y1="50" x2="722.5" y2="353" stroke="#7c1284" stroke-width="1.85" stroke-dasharray="3.8 2.3"/>
<line x1="748.4" y1="56" x2="748.4" y2="353" stroke="#7c1284" stroke-width="1.85" stroke-dasharray="3.8 2.3"/>
<line x1="769.6" y1="78" x2="769.6" y2="353" stroke="#7c1284" stroke-width="1.85" stroke-dasharray="3.8 2.3"/>
<line x1="831.8" y1="76" x2="831.8" y2="353" stroke="#7c1284" stroke-width="1.85" stroke-dasharray="3.8 2.3"/>
<line x1="907.5" y1="80" x2="907.5" y2="353" stroke="#7c1284" stroke-width="1.85" stroke-dasharray="3.8 2.3"/>
<line x1="977.5" y1="66" x2="977.5" y2="353" stroke="#7c1284" stroke-width="1.85" stroke-dasharray="3.8 2.3"/>
<line x1="1000" y1="72" x2="1000" y2="353" stroke="#7c1284" stroke-width="1.85" stroke-dasharray="3.8 2.3"/>
<line x1="616.1" y1="361.1" x2="616.1" y2="340" stroke="#1a0a1a" stroke-width="2.2"/><path d="M613.5,343.2 L616.1,338 L618.7,343.2 Z" fill="#1a0a1a"/>
<line x1="649.2" y1="361.1" x2="649.2" y2="317.5" stroke="#1a0a1a" stroke-width="2.6999999999999997"/><path d="M646.6,320.7 L649.2,315.5 L651.8000000000001,320.7 Z" fill="#1a0a1a"/>
<line x1="722.3" y1="361.1" x2="722.3" y2="285" stroke="#1a0a1a" stroke-width="2.6"/><path d="M719.6999999999999,288.2 L722.3,283 L724.9,288.2 Z" fill="#1a0a1a"/>
<line x1="751.5" y1="361.1" x2="751.5" y2="304.8" stroke="#1a0a1a" stroke-width="2.4"/><path d="M748.9,308.0 L751.5,302.8 L754.1,308.0 Z" fill="#1a0a1a"/>
<line x1="769.7" y1="361.1" x2="769.7" y2="340" stroke="#1a0a1a" stroke-width="2.2"/><path d="M767.1,343.2 L769.7,338 L772.3000000000001,343.2 Z" fill="#1a0a1a"/>
<line x1="831.8" y1="361.1" x2="831.8" y2="341" stroke="#1a0a1a" stroke-width="2.2"/><path d="M829.1999999999999,344.2 L831.8,339 L834.4,344.2 Z" fill="#1a0a1a"/>
<line x1="907.4" y1="361.1" x2="907.4" y2="341" stroke="#1a0a1a" stroke-width="2.2"/><path d="M904.8,344.2 L907.4,339 L910.0,344.2 Z" fill="#1a0a1a"/>
<line x1="977.0" y1="361.1" x2="977.0" y2="314.4" stroke="#1a0a1a" stroke-width="2.3"/><path d="M974.4,317.59999999999997 L977.0,312.4 L979.6,317.59999999999997 Z" fill="#1a0a1a"/>
<line x1="1000" y1="361.1" x2="1000" y2="340" stroke="#1a0a1a" stroke-width="2.2"/><path d="M997.4,343.2 L1000,338 L1002.6,343.2 Z" fill="#1a0a1a"/>
<path d="M647.9,332.5 L650.3,327.5 L652.6999999999999,332.5 Z" fill="#1a0a1a"/>
<rect x="625.9" y="353" width="3.8" height="7" fill="#000"/>
<rect x="721.1" y="353" width="3.8" height="7" fill="#000"/>
<rect x="816.4" y="353" width="3.8" height="7" fill="#000"/>
<rect x="911.6" y="353" width="3.8" height="7" fill="#000"/>
<rect x="578.6" y="356.2" width="3" height="4" fill="#000"/>
<rect x="673.9" y="356.2" width="3" height="4" fill="#000"/>
<rect x="769.1" y="356.2" width="3" height="4" fill="#000"/>
<rect x="864.4" y="356.2" width="3" height="4" fill="#000"/>
<rect x="959.6" y="356.2" width="3" height="4" fill="#000"/>
<rect x="532.7" y="7.1" width="476.19999999999993" height="354.0" fill="none" stroke="#000" stroke-width="3.6"/>
<text transform="translate(536.7,389.0) scale(1.04,1)" font-size="19.2" text-anchor="middle" fill="#000" stroke="#000" stroke-width="0.2" font-family="&quot;Liberation Serif&quot;, &quot;Times New Roman&quot;, serif" font-weight="bold" >25</text>
<text transform="translate(632.0,389.0) scale(1.04,1)" font-size="19.2" text-anchor="middle" fill="#000" stroke="#000" stroke-width="0.2" font-family="&quot;Liberation Serif&quot;, &quot;Times New Roman&quot;, serif" font-weight="bold" >30</text>
<text transform="translate(727.2,389.0) scale(1.04,1)" font-size="19.2" text-anchor="middle" fill="#000" stroke="#000" stroke-width="0.2" font-family="&quot;Liberation Serif&quot;, &quot;Times New Roman&quot;, serif" font-weight="bold" >35</text>
<text transform="translate(822.5,389.0) scale(1.04,1)" font-size="19.2" text-anchor="middle" fill="#000" stroke="#000" stroke-width="0.2" font-family="&quot;Liberation Serif&quot;, &quot;Times New Roman&quot;, serif" font-weight="bold" >40</text>
<text transform="translate(917.7,389.0) scale(1.04,1)" font-size="19.2" text-anchor="middle" fill="#000" stroke="#000" stroke-width="0.2" font-family="&quot;Liberation Serif&quot;, &quot;Times New Roman&quot;, serif" font-weight="bold" >45</text>
<text transform="translate(1013.0,389.0) scale(1.04,1)" font-size="19.2" text-anchor="middle" fill="#000" stroke="#000" stroke-width="0.2" font-family="&quot;Liberation Serif&quot;, &quot;Times New Roman&quot;, serif" font-weight="bold" >50</text>
<text transform="translate(706.8,416.1) scale(1.1,1)" font-size="24.6" text-anchor="start" fill="#000" stroke="#000" stroke-width="0.2" font-family="&quot;Liberation Serif&quot;, &quot;Times New Roman&quot;, serif" font-weight="bold" >2</text><text transform="translate(721.8,416.1) scale(1.1,1)" font-size="24.6" text-anchor="start" fill="#000" stroke="#000" stroke-width="0.2" font-family="&quot;Liberation Serif&quot;, &quot;Times New Roman&quot;, serif" font-weight="bold" font-style="italic">θ</text><text transform="translate(738.4,416.1) scale(1.1,1)" font-size="24.6" text-anchor="start" fill="#000" stroke="#000" stroke-width="0.2" font-family="&quot;Liberation Serif&quot;, &quot;Times New Roman&quot;, serif" font-weight="bold" >(degree)</text>
<text transform="translate(533.9,33.4) scale(1.07,1)" font-size="25.3" text-anchor="start" fill="#000" stroke="#000" stroke-width="0.2" font-family="&quot;Liberation Serif&quot;, &quot;Times New Roman&quot;, serif" font-weight="bold" >(b)</text>
<text transform="translate(540,76.3) scale(1.05,1)" font-size="19.5" text-anchor="start" fill="#000" stroke="#000" stroke-width="0.2" font-family="&quot;Liberation Serif&quot;, &quot;Times New Roman&quot;, serif" font-weight="bold" >4.0</text>
<text transform="translate(540,120.5) scale(1.05,1)" font-size="19.5" text-anchor="start" fill="#000" stroke="#000" stroke-width="0.2" font-family="&quot;Liberation Serif&quot;, &quot;Times New Roman&quot;, serif" font-weight="bold" >3.5</text>
<text transform="translate(540,174.5) scale(1.05,1)" font-size="19.5" text-anchor="start" fill="#000" stroke="#000" stroke-width="0.2" font-family="&quot;Liberation Serif&quot;, &quot;Times New Roman&quot;, serif" font-weight="bold" >3.0</text>
<text transform="translate(540,221.3) scale(1.05,1)" font-size="19.5" text-anchor="start" fill="#000" stroke="#000" stroke-width="0.2" font-family="&quot;Liberation Serif&quot;, &quot;Times New Roman&quot;, serif" font-weight="bold" >2.5</text>
<text transform="translate(540,272.5) scale(1.05,1)" font-size="19.5" text-anchor="start" fill="#000" stroke="#000" stroke-width="0.2" font-family="&quot;Liberation Serif&quot;, &quot;Times New Roman&quot;, serif" font-weight="bold" >2.0</text>
<text transform="translate(540.5,321.8) scale(1.03,1)" font-size="20" text-anchor="start" fill="#8a138c" stroke="#8a138c" stroke-width="0.2" font-family="&quot;Liberation Serif&quot;, &quot;Times New Roman&quot;, serif" font-weight="bold" >FeSe<tspan font-size="11" dy="8.3" dx="-0.8">2</tspan></text>
<text transform="translate(621.4,61.5) rotate(-90) scale(1.13,1)" font-size="17.2" fill="#940e96" stroke="#940e96" stroke-width="0.25" font-family="&quot;Liberation Serif&quot;, &quot;Times New Roman&quot;, serif" font-weight="bold">(011)</text>
<text transform="translate(647.4,51.5) rotate(-90) scale(1.13,1)" font-size="17.2" fill="#940e96" stroke="#940e96" stroke-width="0.25" font-family="&quot;Liberation Serif&quot;, &quot;Times New Roman&quot;, serif" font-weight="bold">(101)</text>
<text transform="translate(669.1999999999999,71.5) rotate(-90) scale(1.13,1)" font-size="17.2" fill="#940e96" stroke="#940e96" stroke-width="0.25" font-family="&quot;Liberation Serif&quot;, &quot;Times New Roman&quot;, serif" font-weight="bold">(020)</text>
<text transform="translate(727.4,50.3) rotate(-90) scale(1.13,1)" font-size="17.2" fill="#940e96" stroke="#940e96" stroke-width="0.25" font-family="&quot;Liberation Serif&quot;, &quot;Times New Roman&quot;, serif" font-weight="bold">(111)</text>
<text transform="translate(753.4,56.8) rotate(-90) scale(1.13,1)" font-size="17.2" fill="#940e96" stroke="#940e96" stroke-width="0.25" font-family="&quot;Liberation Serif&quot;, &quot;Times New Roman&quot;, serif" font-weight="bold">(120)</text>
<text transform="translate(775.4,78.3) rotate(-90) scale(1.13,1)" font-size="17.2" fill="#940e96" stroke="#940e96" stroke-width="0.25" font-family="&quot;Liberation Serif&quot;, &quot;Times New Roman&quot;, serif" font-weight="bold">(200)</text>
<text transform="translate(837.9,76.6) rotate(-90) scale(1.13,1)" font-size="17.2" fill="#940e96" stroke="#940e96" stroke-width="0.25" font-family="&quot;Liberation Serif&quot;, &quot;Times New Roman&quot;, serif" font-weight="bold">(210)</text>
<text transform="translate(914.4,80.89999999999999) rotate(-90) scale(1.13,1)" font-size="17.2" fill="#940e96" stroke="#940e96" stroke-width="0.25" font-family="&quot;Liberation Serif&quot;, &quot;Times New Roman&quot;, serif" font-weight="bold">(121)</text>
<text transform="translate(981.4,66.3) rotate(-90) scale(1.13,1)" font-size="17.2" fill="#940e96" stroke="#940e96" stroke-width="0.25" font-family="&quot;Liberation Serif&quot;, &quot;Times New Roman&quot;, serif" font-weight="bold">(211)</text>
<text transform="translate(1003.4,71.5) rotate(-90) scale(1.13,1)" font-size="17.2" fill="#940e96" stroke="#940e96" stroke-width="0.25" font-family="&quot;Liberation Serif&quot;, &quot;Times New Roman&quot;, serif" font-weight="bold">(220)</text>
</svg>
</body></html>
